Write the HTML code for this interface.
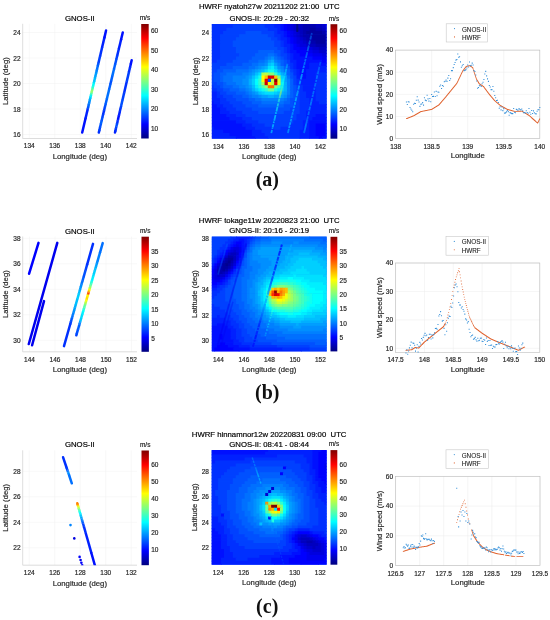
<!DOCTYPE html>
<html><head><meta charset="utf-8"><title>Figure</title><style>html,body{margin:0;padding:0;background:#fff}svg{display:block}</style></head><body>
<svg width="550" height="620" viewBox="0 0 550 620" font-family="Liberation Sans, Arial, Helvetica, sans-serif">
<rect width="550" height="620" fill="#fff"/>
<text x="79.85" y="20.50" font-size="7.75" text-anchor="middle" fill="#000" stroke="#000" stroke-width="0.18" >GNOS-II</text>
<line x1="29.30" y1="23.80" x2="29.30" y2="138.50" stroke="#f0f0f0" stroke-width="0.5"/>
<line x1="54.80" y1="23.80" x2="54.80" y2="138.50" stroke="#f0f0f0" stroke-width="0.5"/>
<line x1="80.30" y1="23.80" x2="80.30" y2="138.50" stroke="#f0f0f0" stroke-width="0.5"/>
<line x1="105.80" y1="23.80" x2="105.80" y2="138.50" stroke="#f0f0f0" stroke-width="0.5"/>
<line x1="131.30" y1="23.80" x2="131.30" y2="138.50" stroke="#f0f0f0" stroke-width="0.5"/>
<line x1="22.70" y1="134.50" x2="137.00" y2="134.50" stroke="#f0f0f0" stroke-width="0.5"/>
<line x1="22.70" y1="109.00" x2="137.00" y2="109.00" stroke="#f0f0f0" stroke-width="0.5"/>
<line x1="22.70" y1="83.50" x2="137.00" y2="83.50" stroke="#f0f0f0" stroke-width="0.5"/>
<line x1="22.70" y1="58.00" x2="137.00" y2="58.00" stroke="#f0f0f0" stroke-width="0.5"/>
<line x1="22.70" y1="32.50" x2="137.00" y2="32.50" stroke="#f0f0f0" stroke-width="0.5"/>
<path d="M22.70 23.80V138.50H137.00" stroke="#d4d4d4" stroke-width="0.8" fill="none"/>
<text x="29.30" y="148.30" font-size="6.5" text-anchor="middle" fill="#262626" stroke="#262626" stroke-width="0.18" >134</text>
<text x="54.80" y="148.30" font-size="6.5" text-anchor="middle" fill="#262626" stroke="#262626" stroke-width="0.18" >136</text>
<text x="80.30" y="148.30" font-size="6.5" text-anchor="middle" fill="#262626" stroke="#262626" stroke-width="0.18" >138</text>
<text x="105.80" y="148.30" font-size="6.5" text-anchor="middle" fill="#262626" stroke="#262626" stroke-width="0.18" >140</text>
<text x="131.30" y="148.30" font-size="6.5" text-anchor="middle" fill="#262626" stroke="#262626" stroke-width="0.18" >142</text>
<text x="20.50" y="137.10" font-size="6.5" text-anchor="end" fill="#262626" stroke="#262626" stroke-width="0.18" >16</text>
<text x="20.50" y="111.60" font-size="6.5" text-anchor="end" fill="#262626" stroke="#262626" stroke-width="0.18" >18</text>
<text x="20.50" y="86.10" font-size="6.5" text-anchor="end" fill="#262626" stroke="#262626" stroke-width="0.18" >20</text>
<text x="20.50" y="60.60" font-size="6.5" text-anchor="end" fill="#262626" stroke="#262626" stroke-width="0.18" >22</text>
<text x="20.50" y="35.10" font-size="6.5" text-anchor="end" fill="#262626" stroke="#262626" stroke-width="0.18" >24</text>
<text x="79.85" y="159.10" font-size="7.75" text-anchor="middle" fill="#262626" stroke="#262626" stroke-width="0.18" >Longitude (deg)</text>
<text transform="translate(8.30 81.15) rotate(-90)" font-size="7.75" text-anchor="middle" fill="#262626" stroke="#262626" stroke-width="0.18">Latitude (deg)</text>
<g fill="none" stroke-width="2.5">
<path d="M82.21 132.59L85.51 118.48" stroke="#0010ff" stroke-linecap="round"/>
<path d="M85.39 118.99L87.50 109.98" stroke="#0020ff"/>
<path d="M87.38 110.49L87.89 108.28" stroke="#0030ff"/>
<path d="M87.78 108.79L88.29 106.58" stroke="#0050ff"/>
<path d="M88.17 107.09L88.69 104.88" stroke="#0060ff"/>
<path d="M88.57 105.39L89.09 103.18" stroke="#0070ff"/>
<path d="M88.97 103.69L89.48 101.48" stroke="#0080ff"/>
<path d="M89.37 101.99L89.88 99.78" stroke="#008fff"/>
<path d="M89.76 100.29L90.28 98.08" stroke="#00afff"/>
<path d="M90.16 98.59L90.68 96.38" stroke="#00cfff"/>
<path d="M90.56 96.89L91.07 94.68" stroke="#00efff"/>
<path d="M90.95 95.19L91.47 92.98" stroke="#30ffcf"/>
<path d="M91.35 93.49L91.87 91.28" stroke="#80ff80"/>
<path d="M91.75 91.79L92.27 89.58" stroke="#8fff70"/>
<path d="M92.15 90.09L92.66 87.88" stroke="#60ff9f"/>
<path d="M92.54 88.39L93.06 86.18" stroke="#30ffcf"/>
<path d="M92.94 86.69L93.46 84.48" stroke="#10ffef"/>
<path d="M93.34 84.99L93.86 82.78" stroke="#00ffff"/>
<path d="M93.74 83.29L94.25 81.08" stroke="#00dfff"/>
<path d="M94.13 81.59L95.05 77.68" stroke="#00bfff"/>
<path d="M94.93 78.19L95.45 75.98" stroke="#00afff"/>
<path d="M95.33 76.49L96.24 72.58" stroke="#009fff"/>
<path d="M96.12 73.09L96.64 70.88" stroke="#008fff"/>
<path d="M96.52 71.39L97.03 69.18" stroke="#0080ff"/>
<path d="M96.92 69.69L97.83 65.78" stroke="#0070ff"/>
<path d="M97.71 66.29L98.23 64.08" stroke="#0060ff"/>
<path d="M98.11 64.59L98.62 62.38" stroke="#0050ff"/>
<path d="M98.50 62.89L100.21 55.58" stroke="#0040ff"/>
<path d="M100.09 56.09L102.20 47.08" stroke="#0030ff"/>
<path d="M102.08 47.59L104.58 36.88" stroke="#0020ff"/>
<path d="M104.47 37.39L106.06 30.59" stroke="#0010ff" stroke-linecap="round"/>
</g>
<g fill="none" stroke-width="2.5">
<path d="M98.79 132.59L99.31 130.42" stroke="#0030ff" stroke-linecap="round"/>
<path d="M99.19 130.92L100.11 127.08" stroke="#0040ff"/>
<path d="M99.99 127.58L100.90 123.75" stroke="#0050ff"/>
<path d="M100.78 124.25L101.70 120.41" stroke="#0060ff"/>
<path d="M101.58 120.91L102.50 117.07" stroke="#0050ff"/>
<path d="M102.38 117.57L103.30 113.74" stroke="#0040ff"/>
<path d="M103.18 114.24L104.10 110.40" stroke="#0030ff"/>
<path d="M103.98 110.90L104.90 107.07" stroke="#0040ff"/>
<path d="M104.78 107.57L105.70 103.73" stroke="#0050ff"/>
<path d="M105.58 104.23L106.90 98.72" stroke="#0060ff"/>
<path d="M106.78 99.23L109.29 88.72" stroke="#0070ff"/>
<path d="M109.17 89.22L110.49 83.71" stroke="#0060ff"/>
<path d="M110.37 84.21L111.29 80.38" stroke="#0050ff"/>
<path d="M111.17 80.88L112.49 75.37" stroke="#0060ff"/>
<path d="M112.37 75.87L114.09 68.70" stroke="#0070ff"/>
<path d="M113.97 69.20L115.29 63.69" stroke="#0060ff"/>
<path d="M115.17 64.19L116.49 58.69" stroke="#0050ff"/>
<path d="M116.37 59.19L117.28 55.35" stroke="#0040ff"/>
<path d="M117.16 55.85L118.88 48.68" stroke="#0030ff"/>
<path d="M118.76 49.18L121.28 38.67" stroke="#0020ff"/>
<path d="M121.16 39.17L122.76 32.50" stroke="#0010ff" stroke-linecap="round"/>
</g>
<g fill="none" stroke-width="2.5">
<path d="M114.98 132.59L115.34 131.02" stroke="#0020ff" stroke-linecap="round"/>
<path d="M115.26 131.38L115.90 128.60" stroke="#0030ff"/>
<path d="M115.82 128.97L116.46 126.19" stroke="#0040ff"/>
<path d="M116.37 126.55L117.01 123.78" stroke="#0050ff"/>
<path d="M116.93 124.14L117.29 122.57" stroke="#0040ff"/>
<path d="M117.21 122.93L117.85 120.16" stroke="#0030ff"/>
<path d="M117.76 120.52L118.13 118.95" stroke="#0020ff"/>
<path d="M118.04 119.31L118.96 115.33" stroke="#0010ff"/>
<path d="M118.88 115.69L119.80 111.71" stroke="#0020ff"/>
<path d="M119.71 112.07L120.63 108.09" stroke="#0030ff"/>
<path d="M120.55 108.45L121.19 105.67" stroke="#0040ff"/>
<path d="M121.10 106.03L122.58 99.64" stroke="#0050ff"/>
<path d="M122.50 100.00L124.25 92.39" stroke="#0040ff"/>
<path d="M124.17 92.76L126.76 81.53" stroke="#0030ff"/>
<path d="M126.67 81.89L128.98 71.88" stroke="#0040ff"/>
<path d="M128.90 72.24L130.10 67.05" stroke="#0030ff"/>
<path d="M130.01 67.41L130.93 63.43" stroke="#0020ff"/>
<path d="M130.85 63.79L131.68 60.17" stroke="#0010ff" stroke-linecap="round"/>
</g>
<linearGradient id="cbA1" x1="0" y1="0" x2="0" y2="1"><stop offset="0.0000" stop-color="#800000"/><stop offset="0.0312" stop-color="#9f0000"/><stop offset="0.0625" stop-color="#bf0000"/><stop offset="0.0938" stop-color="#df0000"/><stop offset="0.1250" stop-color="#ff0000"/><stop offset="0.1562" stop-color="#ff2000"/><stop offset="0.1875" stop-color="#ff4000"/><stop offset="0.2188" stop-color="#ff6000"/><stop offset="0.2500" stop-color="#ff8000"/><stop offset="0.2812" stop-color="#ff9f00"/><stop offset="0.3125" stop-color="#ffbf00"/><stop offset="0.3438" stop-color="#ffdf00"/><stop offset="0.3750" stop-color="#ffff00"/><stop offset="0.4062" stop-color="#dfff20"/><stop offset="0.4375" stop-color="#bfff40"/><stop offset="0.4688" stop-color="#9fff60"/><stop offset="0.5000" stop-color="#80ff80"/><stop offset="0.5312" stop-color="#60ff9f"/><stop offset="0.5625" stop-color="#40ffbf"/><stop offset="0.5938" stop-color="#20ffdf"/><stop offset="0.6250" stop-color="#00ffff"/><stop offset="0.6562" stop-color="#00dfff"/><stop offset="0.6875" stop-color="#00bfff"/><stop offset="0.7188" stop-color="#009fff"/><stop offset="0.7500" stop-color="#0080ff"/><stop offset="0.7812" stop-color="#0060ff"/><stop offset="0.8125" stop-color="#0040ff"/><stop offset="0.8438" stop-color="#0020ff"/><stop offset="0.8750" stop-color="#0000ff"/><stop offset="0.9062" stop-color="#0000df"/><stop offset="0.9375" stop-color="#0000bf"/><stop offset="0.9688" stop-color="#00009f"/><stop offset="1.0000" stop-color="#000080"/></linearGradient>
<rect x="141.20" y="24.00" width="7.50" height="114.50" fill="url(#cbA1)"/>
<text x="151.00" y="131.01" font-size="6.5" text-anchor="start" fill="#262626" stroke="#262626" stroke-width="0.18" >10</text>
<text x="151.00" y="111.44" font-size="6.5" text-anchor="start" fill="#262626" stroke="#262626" stroke-width="0.18" >20</text>
<text x="151.00" y="91.87" font-size="6.5" text-anchor="start" fill="#262626" stroke="#262626" stroke-width="0.18" >30</text>
<text x="151.00" y="72.30" font-size="6.5" text-anchor="start" fill="#262626" stroke="#262626" stroke-width="0.18" >40</text>
<text x="151.00" y="52.72" font-size="6.5" text-anchor="start" fill="#262626" stroke="#262626" stroke-width="0.18" >50</text>
<text x="151.00" y="33.15" font-size="6.5" text-anchor="start" fill="#262626" stroke="#262626" stroke-width="0.18" >60</text>
<text x="144.95" y="20.30" font-size="6.5" text-anchor="middle" fill="#262626" stroke="#262626" stroke-width="0.18" >m/s</text>
<clipPath id="clipA"><rect x="211.80" y="24.00" width="114.90" height="114.70"/></clipPath>
<g clip-path="url(#clipA)">
<rect x="211.80" y="24.00" width="114.90" height="114.70" fill="#004dff"/>
<path fill="#0030ff" d="M210.38 21.38H242.88V25.17H210.38z"/>
<path fill="#0040ff" d="M242.28 21.38H255.64V25.17H242.28z"/>
<path fill="#0030ff" d="M255.04 21.38H271.59V25.17H255.04z"/>
<path fill="#0020ff" d="M270.99 21.38H277.97V25.17H270.99z"/>
<path fill="#0010ff" d="M277.37 21.38H284.35V25.17H277.37z"/>
<path fill="#0000ff" d="M283.75 21.38H287.54V25.17H283.75z"/>
<path fill="#0000ef" d="M286.94 21.38H290.73V25.17H286.94z"/>
<path fill="#0000df" d="M290.13 21.38H293.92V25.17H290.13z"/>
<path fill="#0000cf" d="M293.32 21.38H300.30V25.17H293.32z"/>
<path fill="#0000bf" d="M299.70 21.38H316.25V25.17H299.70z"/>
<path fill="#0000cf" d="M315.65 21.38H322.63V25.17H315.65z"/>
<path fill="#0000df" d="M322.03 21.38H325.82V25.17H322.03z"/>
<path fill="#0000ef" d="M325.22 21.38H329.01V25.17H325.22z"/>
<path fill="#0030ff" d="M210.38 24.57H233.31V28.36H210.38z"/>
<path fill="#0040ff" d="M232.71 24.57H265.21V28.36H232.71z"/>
<path fill="#0030ff" d="M264.61 24.57H274.78V28.36H264.61z"/>
<path fill="#0020ff" d="M274.18 24.57H281.16V28.36H274.18z"/>
<path fill="#0010ff" d="M280.56 24.57H284.35V28.36H280.56z"/>
<path fill="#0000ff" d="M283.75 24.57H287.54V28.36H283.75z"/>
<path fill="#0000ef" d="M286.94 24.57H290.73V28.36H286.94z"/>
<path fill="#0000df" d="M290.13 24.57H293.92V28.36H290.13z"/>
<path fill="#0000cf" d="M293.32 24.57H300.30V28.36H293.32z"/>
<path fill="#0000bf" d="M299.70 24.57H303.49V28.36H299.70z"/>
<path fill="#0000af" d="M302.89 24.57H316.25V28.36H302.89z"/>
<path fill="#0000bf" d="M315.65 24.57H322.63V28.36H315.65z"/>
<path fill="#0000cf" d="M322.03 24.57H325.82V28.36H322.03z"/>
<path fill="#0000df" d="M325.22 24.57H329.01V28.36H325.22z"/>
<path fill="#0030ff" d="M210.38 27.76H226.93V31.55H210.38z"/>
<path fill="#0040ff" d="M226.33 27.76H268.40V31.55H226.33z"/>
<path fill="#0030ff" d="M267.80 27.76H277.97V31.55H267.80z"/>
<path fill="#0020ff" d="M277.37 27.76H281.16V31.55H277.37z"/>
<path fill="#0010ff" d="M280.56 27.76H284.35V31.55H280.56z"/>
<path fill="#0000ff" d="M283.75 27.76H287.54V31.55H283.75z"/>
<path fill="#0000ef" d="M286.94 27.76H290.73V31.55H286.94z"/>
<path fill="#0000df" d="M290.13 27.76H293.92V31.55H290.13z"/>
<path fill="#0000cf" d="M293.32 27.76H297.11V31.55H293.32z"/>
<path fill="#0000bf" d="M296.51 27.76H303.49V31.55H296.51z"/>
<path fill="#0000af" d="M302.89 27.76H309.87V31.55H302.89z"/>
<path fill="#00009f" d="M309.27 27.76H316.25V31.55H309.27z"/>
<path fill="#0000af" d="M315.65 27.76H322.63V31.55H315.65z"/>
<path fill="#0000bf" d="M322.03 27.76H325.82V31.55H322.03z"/>
<path fill="#0000cf" d="M325.22 27.76H329.01V31.55H325.22z"/>
<path fill="#0030ff" d="M210.38 30.95H223.74V34.74H210.38z"/>
<path fill="#0040ff" d="M223.14 30.95H246.07V34.74H223.14z"/>
<path fill="#0050ff" d="M245.47 30.95H262.02V34.74H245.47z"/>
<path fill="#0040ff" d="M261.42 30.95H274.78V34.74H261.42z"/>
<path fill="#0030ff" d="M274.18 30.95H277.97V34.74H274.18z"/>
<path fill="#0020ff" d="M277.37 30.95H284.35V34.74H277.37z"/>
<path fill="#0010ff" d="M283.75 30.95H287.54V34.74H283.75z"/>
<path fill="#0000ff" d="M286.94 30.95H290.73V34.74H286.94z"/>
<path fill="#0000ef" d="M290.13 30.95H293.92V34.74H290.13z"/>
<path fill="#0000df" d="M293.32 30.95H297.11V34.74H293.32z"/>
<path fill="#0000cf" d="M296.51 30.95H300.30V34.74H296.51z"/>
<path fill="#0000bf" d="M299.70 30.95H303.49V34.74H299.70z"/>
<path fill="#0000af" d="M302.89 30.95H306.68V34.74H302.89z"/>
<path fill="#00009f" d="M306.08 30.95H322.63V34.74H306.08z"/>
<path fill="#0000af" d="M322.03 30.95H325.82V34.74H322.03z"/>
<path fill="#0000bf" d="M325.22 30.95H329.01V34.74H325.22z"/>
<path fill="#0030ff" d="M210.38 34.14H220.55V37.93H210.38z"/>
<path fill="#0040ff" d="M219.95 34.14H239.69V37.93H219.95z"/>
<path fill="#0050ff" d="M239.09 34.14H268.40V37.93H239.09z"/>
<path fill="#0040ff" d="M267.80 34.14H274.78V37.93H267.80z"/>
<path fill="#0030ff" d="M274.18 34.14H281.16V37.93H274.18z"/>
<path fill="#0020ff" d="M280.56 34.14H284.35V37.93H280.56z"/>
<path fill="#0010ff" d="M283.75 34.14H287.54V37.93H283.75z"/>
<path fill="#0000ff" d="M286.94 34.14H290.73V37.93H286.94z"/>
<path fill="#0000ef" d="M290.13 34.14H293.92V37.93H290.13z"/>
<path fill="#0000df" d="M293.32 34.14H297.11V37.93H293.32z"/>
<path fill="#0000cf" d="M296.51 34.14H300.30V37.93H296.51z"/>
<path fill="#0000bf" d="M299.70 34.14H303.49V37.93H299.70z"/>
<path fill="#0000af" d="M302.89 34.14H309.87V37.93H302.89z"/>
<path fill="#00009f" d="M309.27 34.14H325.82V37.93H309.27z"/>
<path fill="#0000af" d="M325.22 34.14H329.01V37.93H325.22z"/>
<path fill="#0030ff" d="M210.38 37.33H220.55V41.12H210.38z"/>
<path fill="#0040ff" d="M219.95 37.33H236.50V41.12H219.95z"/>
<path fill="#0050ff" d="M235.90 37.33H271.59V41.12H235.90z"/>
<path fill="#0040ff" d="M270.99 37.33H277.97V41.12H270.99z"/>
<path fill="#0030ff" d="M277.37 37.33H281.16V41.12H277.37z"/>
<path fill="#0020ff" d="M280.56 37.33H287.54V41.12H280.56z"/>
<path fill="#0010ff" d="M286.94 37.33H290.73V41.12H286.94z"/>
<path fill="#0000ff" d="M290.13 37.33H293.92V41.12H290.13z"/>
<path fill="#0000ef" d="M293.32 37.33H297.11V41.12H293.32z"/>
<path fill="#0000df" d="M296.51 37.33H300.30V41.12H296.51z"/>
<path fill="#0000cf" d="M299.70 37.33H303.49V41.12H299.70z"/>
<path fill="#0000bf" d="M302.89 37.33H306.68V41.12H302.89z"/>
<path fill="#0000af" d="M306.08 37.33H313.06V41.12H306.08z"/>
<path fill="#00009f" d="M312.46 37.33H325.82V41.12H312.46z"/>
<path fill="#0000af" d="M325.22 37.33H329.01V41.12H325.22z"/>
<path fill="#0030ff" d="M210.38 40.52H220.55V44.31H210.38z"/>
<path fill="#0040ff" d="M219.95 40.52H233.31V44.31H219.95z"/>
<path fill="#0050ff" d="M232.71 40.52H274.78V44.31H232.71z"/>
<path fill="#0040ff" d="M274.18 40.52H281.16V44.31H274.18z"/>
<path fill="#0030ff" d="M280.56 40.52H284.35V44.31H280.56z"/>
<path fill="#0020ff" d="M283.75 40.52H287.54V44.31H283.75z"/>
<path fill="#0010ff" d="M286.94 40.52H290.73V44.31H286.94z"/>
<path fill="#0000ff" d="M290.13 40.52H293.92V44.31H290.13z"/>
<path fill="#0000ef" d="M293.32 40.52H297.11V44.31H293.32z"/>
<path fill="#0000df" d="M296.51 40.52H303.49V44.31H296.51z"/>
<path fill="#0000cf" d="M302.89 40.52H306.68V44.31H302.89z"/>
<path fill="#0000bf" d="M306.08 40.52H309.87V44.31H306.08z"/>
<path fill="#0000af" d="M309.27 40.52H316.25V44.31H309.27z"/>
<path fill="#00009f" d="M315.65 40.52H325.82V44.31H315.65z"/>
<path fill="#0000af" d="M325.22 40.52H329.01V44.31H325.22z"/>
<path fill="#0030ff" d="M210.38 43.71H220.55V47.50H210.38z"/>
<path fill="#0040ff" d="M219.95 43.71H233.31V47.50H219.95z"/>
<path fill="#0050ff" d="M232.71 43.71H274.78V47.50H232.71z"/>
<path fill="#0040ff" d="M274.18 43.71H281.16V47.50H274.18z"/>
<path fill="#0030ff" d="M280.56 43.71H284.35V47.50H280.56z"/>
<path fill="#0020ff" d="M283.75 43.71H290.73V47.50H283.75z"/>
<path fill="#0010ff" d="M290.13 43.71H293.92V47.50H290.13z"/>
<path fill="#0000ff" d="M293.32 43.71H297.11V47.50H293.32z"/>
<path fill="#0000ef" d="M296.51 43.71H300.30V47.50H296.51z"/>
<path fill="#0000df" d="M299.70 43.71H306.68V47.50H299.70z"/>
<path fill="#0000cf" d="M306.08 43.71H309.87V47.50H306.08z"/>
<path fill="#0000bf" d="M309.27 43.71H316.25V47.50H309.27z"/>
<path fill="#0000af" d="M315.65 43.71H329.01V47.50H315.65z"/>
<path fill="#0030ff" d="M210.38 46.90H220.55V50.69H210.38z"/>
<path fill="#0040ff" d="M219.95 46.90H236.50V50.69H219.95z"/>
<path fill="#0050ff" d="M235.90 46.90H277.97V50.69H235.90z"/>
<path fill="#0040ff" d="M277.37 46.90H284.35V50.69H277.37z"/>
<path fill="#0030ff" d="M283.75 46.90H287.54V50.69H283.75z"/>
<path fill="#0020ff" d="M286.94 46.90H290.73V50.69H286.94z"/>
<path fill="#0010ff" d="M290.13 46.90H293.92V50.69H290.13z"/>
<path fill="#0000ff" d="M293.32 46.90H300.30V50.69H293.32z"/>
<path fill="#0000ef" d="M299.70 46.90H306.68V50.69H299.70z"/>
<path fill="#0000df" d="M306.08 46.90H313.06V50.69H306.08z"/>
<path fill="#0000cf" d="M312.46 46.90H319.44V50.69H312.46z"/>
<path fill="#0000bf" d="M318.84 46.90H329.01V50.69H318.84z"/>
<path fill="#0030ff" d="M210.38 50.09H220.55V53.88H210.38z"/>
<path fill="#0040ff" d="M219.95 50.09H236.50V53.88H219.95z"/>
<path fill="#0050ff" d="M235.90 50.09H258.83V53.88H235.90z"/>
<path fill="#0060ff" d="M258.23 50.09H274.78V53.88H258.23z"/>
<path fill="#0050ff" d="M274.18 50.09H281.16V53.88H274.18z"/>
<path fill="#0040ff" d="M280.56 50.09H284.35V53.88H280.56z"/>
<path fill="#0030ff" d="M283.75 50.09H287.54V53.88H283.75z"/>
<path fill="#0020ff" d="M286.94 50.09H290.73V53.88H286.94z"/>
<path fill="#0010ff" d="M290.13 50.09H297.11V53.88H290.13z"/>
<path fill="#0000ff" d="M296.51 50.09H306.68V53.88H296.51z"/>
<path fill="#0000ef" d="M306.08 50.09H313.06V53.88H306.08z"/>
<path fill="#0000df" d="M312.46 50.09H319.44V53.88H312.46z"/>
<path fill="#0000cf" d="M318.84 50.09H329.01V53.88H318.84z"/>
<path fill="#0030ff" d="M210.38 53.28H220.55V57.07H210.38z"/>
<path fill="#0040ff" d="M219.95 53.28H239.69V57.07H219.95z"/>
<path fill="#0050ff" d="M239.09 53.28H255.64V57.07H239.09z"/>
<path fill="#0060ff" d="M255.04 53.28H268.40V57.07H255.04z"/>
<path fill="#0070ff" d="M267.80 53.28H274.78V57.07H267.80z"/>
<path fill="#0060ff" d="M274.18 53.28H277.97V57.07H274.18z"/>
<path fill="#0050ff" d="M277.37 53.28H281.16V57.07H277.37z"/>
<path fill="#0040ff" d="M280.56 53.28H287.54V57.07H280.56z"/>
<path fill="#0030ff" d="M286.94 53.28H290.73V57.07H286.94z"/>
<path fill="#0020ff" d="M290.13 53.28H293.92V57.07H290.13z"/>
<path fill="#0010ff" d="M293.32 53.28H300.30V57.07H293.32z"/>
<path fill="#0000ff" d="M299.70 53.28H313.06V57.07H299.70z"/>
<path fill="#0000ef" d="M312.46 53.28H322.63V57.07H312.46z"/>
<path fill="#0000df" d="M322.03 53.28H329.01V57.07H322.03z"/>
<path fill="#0030ff" d="M210.38 56.47H220.55V60.26H210.38z"/>
<path fill="#0040ff" d="M219.95 56.47H236.50V60.26H219.95z"/>
<path fill="#0050ff" d="M235.90 56.47H252.45V60.26H235.90z"/>
<path fill="#0060ff" d="M251.85 56.47H265.21V60.26H251.85z"/>
<path fill="#0070ff" d="M264.61 56.47H268.40V60.26H264.61z"/>
<path fill="#0080ff" d="M267.80 56.47H271.59V60.26H267.80z"/>
<path fill="#008fff" d="M270.99 56.47H274.78V60.26H270.99z"/>
<path fill="#0070ff" d="M274.18 56.47H277.97V60.26H274.18z"/>
<path fill="#0060ff" d="M277.37 56.47H281.16V60.26H277.37z"/>
<path fill="#0050ff" d="M280.56 56.47H284.35V60.26H280.56z"/>
<path fill="#0040ff" d="M283.75 56.47H287.54V60.26H283.75z"/>
<path fill="#0030ff" d="M286.94 56.47H290.73V60.26H286.94z"/>
<path fill="#0020ff" d="M290.13 56.47H293.92V60.26H290.13z"/>
<path fill="#0010ff" d="M293.32 56.47H313.06V60.26H293.32z"/>
<path fill="#0000ff" d="M312.46 56.47H322.63V60.26H312.46z"/>
<path fill="#0000ef" d="M322.03 56.47H329.01V60.26H322.03z"/>
<path fill="#0030ff" d="M210.38 59.66H217.36V63.45H210.38z"/>
<path fill="#0040ff" d="M216.76 59.66H233.31V63.45H216.76z"/>
<path fill="#0050ff" d="M232.71 59.66H249.26V63.45H232.71z"/>
<path fill="#0060ff" d="M248.66 59.66H258.83V63.45H248.66z"/>
<path fill="#0070ff" d="M258.23 59.66H265.21V63.45H258.23z"/>
<path fill="#0080ff" d="M264.61 59.66H268.40V63.45H264.61z"/>
<path fill="#009fff" d="M267.80 59.66H271.59V63.45H267.80z"/>
<path fill="#00afff" d="M270.99 59.66H274.78V63.45H270.99z"/>
<path fill="#0080ff" d="M274.18 59.66H277.97V63.45H274.18z"/>
<path fill="#0070ff" d="M277.37 59.66H281.16V63.45H277.37z"/>
<path fill="#0060ff" d="M280.56 59.66H284.35V63.45H280.56z"/>
<path fill="#0050ff" d="M283.75 59.66H287.54V63.45H283.75z"/>
<path fill="#0040ff" d="M286.94 59.66H290.73V63.45H286.94z"/>
<path fill="#0020ff" d="M290.13 59.66H297.11V63.45H290.13z"/>
<path fill="#0010ff" d="M296.51 59.66H322.63V63.45H296.51z"/>
<path fill="#0000ff" d="M322.03 59.66H329.01V63.45H322.03z"/>
<path fill="#0040ff" d="M210.38 62.85H226.93V66.64H210.38z"/>
<path fill="#0050ff" d="M226.33 62.85H242.88V66.64H226.33z"/>
<path fill="#0060ff" d="M242.28 62.85H252.45V66.64H242.28z"/>
<path fill="#0070ff" d="M251.85 62.85H258.83V66.64H251.85z"/>
<path fill="#0080ff" d="M258.23 62.85H265.21V66.64H258.23z"/>
<path fill="#008fff" d="M264.61 62.85H268.40V66.64H264.61z"/>
<path fill="#00bfff" d="M267.80 62.85H271.59V66.64H267.80z"/>
<path fill="#00cfff" d="M270.99 62.85H274.78V66.64H270.99z"/>
<path fill="#009fff" d="M274.18 62.85H277.97V66.64H274.18z"/>
<path fill="#0080ff" d="M277.37 62.85H281.16V66.64H277.37z"/>
<path fill="#0060ff" d="M280.56 62.85H284.35V66.64H280.56z"/>
<path fill="#0050ff" d="M283.75 62.85H287.54V66.64H283.75z"/>
<path fill="#0040ff" d="M286.94 62.85H290.73V66.64H286.94z"/>
<path fill="#0030ff" d="M290.13 62.85H293.92V66.64H290.13z"/>
<path fill="#0020ff" d="M293.32 62.85H297.11V66.64H293.32z"/>
<path fill="#0010ff" d="M296.51 62.85H309.87V66.64H296.51z"/>
<path fill="#0020ff" d="M309.27 62.85H319.44V66.64H309.27z"/>
<path fill="#0010ff" d="M318.84 62.85H329.01V66.64H318.84z"/>
<path fill="#0040ff" d="M210.38 66.04H220.55V69.83H210.38z"/>
<path fill="#0050ff" d="M219.95 66.04H233.31V69.83H219.95z"/>
<path fill="#0060ff" d="M232.71 66.04H249.26V69.83H232.71z"/>
<path fill="#0070ff" d="M248.66 66.04H255.64V69.83H248.66z"/>
<path fill="#0080ff" d="M255.04 66.04H258.83V69.83H255.04z"/>
<path fill="#008fff" d="M258.23 66.04H262.02V69.83H258.23z"/>
<path fill="#009fff" d="M261.42 66.04H265.21V69.83H261.42z"/>
<path fill="#00afff" d="M264.61 66.04H268.40V69.83H264.61z"/>
<path fill="#00dfff" d="M267.80 66.04H271.59V69.83H267.80z"/>
<path fill="#00efff" d="M270.99 66.04H274.78V69.83H270.99z"/>
<path fill="#00bfff" d="M274.18 66.04H277.97V69.83H274.18z"/>
<path fill="#008fff" d="M277.37 66.04H281.16V69.83H277.37z"/>
<path fill="#0080ff" d="M280.56 66.04H284.35V69.83H280.56z"/>
<path fill="#0060ff" d="M283.75 66.04H287.54V69.83H283.75z"/>
<path fill="#0050ff" d="M286.94 66.04H290.73V69.83H286.94z"/>
<path fill="#0030ff" d="M290.13 66.04H293.92V69.83H290.13z"/>
<path fill="#0020ff" d="M293.32 66.04H297.11V69.83H293.32z"/>
<path fill="#0010ff" d="M296.51 66.04H309.87V69.83H296.51z"/>
<path fill="#0020ff" d="M309.27 66.04H329.01V69.83H309.27z"/>
<path fill="#0040ff" d="M210.38 69.23H217.36V73.02H210.38z"/>
<path fill="#0050ff" d="M216.76 69.23H223.74V73.02H216.76z"/>
<path fill="#0060ff" d="M223.14 69.23H236.50V73.02H223.14z"/>
<path fill="#0070ff" d="M235.90 69.23H249.26V73.02H235.90z"/>
<path fill="#0080ff" d="M248.66 69.23H252.45V73.02H248.66z"/>
<path fill="#008fff" d="M251.85 69.23H255.64V73.02H251.85z"/>
<path fill="#009fff" d="M255.04 69.23H258.83V73.02H255.04z"/>
<path fill="#00afff" d="M258.23 69.23H262.02V73.02H258.23z"/>
<path fill="#00bfff" d="M261.42 69.23H265.21V73.02H261.42z"/>
<path fill="#00dfff" d="M264.61 69.23H268.40V73.02H264.61z"/>
<path fill="#10ffef" d="M267.80 69.23H274.78V73.02H267.80z"/>
<path fill="#00dfff" d="M274.18 69.23H277.97V73.02H274.18z"/>
<path fill="#00afff" d="M277.37 69.23H281.16V73.02H277.37z"/>
<path fill="#008fff" d="M280.56 69.23H284.35V73.02H280.56z"/>
<path fill="#0070ff" d="M283.75 69.23H287.54V73.02H283.75z"/>
<path fill="#0060ff" d="M286.94 69.23H290.73V73.02H286.94z"/>
<path fill="#0040ff" d="M290.13 69.23H293.92V73.02H290.13z"/>
<path fill="#0030ff" d="M293.32 69.23H297.11V73.02H293.32z"/>
<path fill="#0020ff" d="M296.51 69.23H300.30V73.02H296.51z"/>
<path fill="#0010ff" d="M299.70 69.23H306.68V73.02H299.70z"/>
<path fill="#0020ff" d="M306.08 69.23H329.01V73.02H306.08z"/>
<path fill="#0040ff" d="M210.38 72.42H214.17V76.21H210.38z"/>
<path fill="#0050ff" d="M213.57 72.42H220.55V76.21H213.57z"/>
<path fill="#0060ff" d="M219.95 72.42H226.93V76.21H219.95z"/>
<path fill="#0070ff" d="M226.33 72.42H242.88V76.21H226.33z"/>
<path fill="#0080ff" d="M242.28 72.42H249.26V76.21H242.28z"/>
<path fill="#008fff" d="M248.66 72.42H252.45V76.21H248.66z"/>
<path fill="#009fff" d="M251.85 72.42H255.64V76.21H251.85z"/>
<path fill="#00bfff" d="M255.04 72.42H258.83V76.21H255.04z"/>
<path fill="#00dfff" d="M258.23 72.42H262.02V76.21H258.23z"/>
<path fill="#afff50" d="M261.42 72.42H265.21V76.21H261.42z"/>
<path fill="#bfff40" d="M264.61 72.42H268.40V76.21H264.61z"/>
<path fill="#8fff70" d="M267.80 72.42H271.59V76.21H267.80z"/>
<path fill="#80ff80" d="M270.99 72.42H274.78V76.21H270.99z"/>
<path fill="#30ffcf" d="M274.18 72.42H277.97V76.21H274.18z"/>
<path fill="#00dfff" d="M277.37 72.42H281.16V76.21H277.37z"/>
<path fill="#00afff" d="M280.56 72.42H284.35V76.21H280.56z"/>
<path fill="#0080ff" d="M283.75 72.42H287.54V76.21H283.75z"/>
<path fill="#0060ff" d="M286.94 72.42H290.73V76.21H286.94z"/>
<path fill="#0050ff" d="M290.13 72.42H293.92V76.21H290.13z"/>
<path fill="#0030ff" d="M293.32 72.42H297.11V76.21H293.32z"/>
<path fill="#0020ff" d="M296.51 72.42H300.30V76.21H296.51z"/>
<path fill="#0010ff" d="M299.70 72.42H306.68V76.21H299.70z"/>
<path fill="#0020ff" d="M306.08 72.42H316.25V76.21H306.08z"/>
<path fill="#0030ff" d="M315.65 72.42H329.01V76.21H315.65z"/>
<path fill="#0040ff" d="M210.38 75.61H214.17V79.40H210.38z"/>
<path fill="#0050ff" d="M213.57 75.61H220.55V79.40H213.57z"/>
<path fill="#0060ff" d="M219.95 75.61H223.74V79.40H219.95z"/>
<path fill="#0070ff" d="M223.14 75.61H233.31V79.40H223.14z"/>
<path fill="#0080ff" d="M232.71 75.61H246.07V79.40H232.71z"/>
<path fill="#008fff" d="M245.47 75.61H249.26V79.40H245.47z"/>
<path fill="#009fff" d="M248.66 75.61H252.45V79.40H248.66z"/>
<path fill="#00bfff" d="M251.85 75.61H255.64V79.40H251.85z"/>
<path fill="#00dfff" d="M255.04 75.61H258.83V79.40H255.04z"/>
<path fill="#10ffef" d="M258.23 75.61H262.02V79.40H258.23z"/>
<path fill="#ffff00" d="M261.42 75.61H265.21V79.40H261.42z"/>
<path fill="#ffbf00" d="M264.61 75.61H268.40V79.40H264.61z"/>
<path fill="#df0000" d="M267.80 75.61H274.78V79.40H267.80z"/>
<path fill="#ffbf00" d="M274.18 75.61H277.97V79.40H274.18z"/>
<path fill="#80ff80" d="M277.37 75.61H281.16V79.40H277.37z"/>
<path fill="#00cfff" d="M280.56 75.61H284.35V79.40H280.56z"/>
<path fill="#009fff" d="M283.75 75.61H287.54V79.40H283.75z"/>
<path fill="#0070ff" d="M286.94 75.61H290.73V79.40H286.94z"/>
<path fill="#0050ff" d="M290.13 75.61H293.92V79.40H290.13z"/>
<path fill="#0040ff" d="M293.32 75.61H297.11V79.40H293.32z"/>
<path fill="#0020ff" d="M296.51 75.61H303.49V79.40H296.51z"/>
<path fill="#0010ff" d="M302.89 75.61H306.68V79.40H302.89z"/>
<path fill="#0020ff" d="M306.08 75.61H316.25V79.40H306.08z"/>
<path fill="#0030ff" d="M315.65 75.61H329.01V79.40H315.65z"/>
<path fill="#0040ff" d="M210.38 78.80H214.17V82.59H210.38z"/>
<path fill="#0050ff" d="M213.57 78.80H220.55V82.59H213.57z"/>
<path fill="#0060ff" d="M219.95 78.80H223.74V82.59H219.95z"/>
<path fill="#0070ff" d="M223.14 78.80H233.31V82.59H223.14z"/>
<path fill="#0080ff" d="M232.71 78.80H242.88V82.59H232.71z"/>
<path fill="#008fff" d="M242.28 78.80H249.26V82.59H242.28z"/>
<path fill="#00afff" d="M248.66 78.80H252.45V82.59H248.66z"/>
<path fill="#00cfff" d="M251.85 78.80H255.64V82.59H251.85z"/>
<path fill="#00ffff" d="M255.04 78.80H258.83V82.59H255.04z"/>
<path fill="#30ffcf" d="M258.23 78.80H262.02V82.59H258.23z"/>
<path fill="#efff10" d="M261.42 78.80H265.21V82.59H261.42z"/>
<path fill="#ef0000" d="M264.61 78.80H268.40V82.59H264.61z"/>
<path fill="#0050ff" d="M267.80 78.80H271.59V82.59H267.80z"/>
<path fill="#bfff40" d="M270.99 78.80H274.78V82.59H270.99z"/>
<path fill="#8f0000" d="M274.18 78.80H277.97V82.59H274.18z"/>
<path fill="#dfff20" d="M277.37 78.80H281.16V82.59H277.37z"/>
<path fill="#00dfff" d="M280.56 78.80H284.35V82.59H280.56z"/>
<path fill="#009fff" d="M283.75 78.80H287.54V82.59H283.75z"/>
<path fill="#0080ff" d="M286.94 78.80H290.73V82.59H286.94z"/>
<path fill="#0060ff" d="M290.13 78.80H293.92V82.59H290.13z"/>
<path fill="#0040ff" d="M293.32 78.80H297.11V82.59H293.32z"/>
<path fill="#0030ff" d="M296.51 78.80H300.30V82.59H296.51z"/>
<path fill="#0020ff" d="M299.70 78.80H316.25V82.59H299.70z"/>
<path fill="#0030ff" d="M315.65 78.80H329.01V82.59H315.65z"/>
<path fill="#0040ff" d="M210.38 81.99H217.36V85.78H210.38z"/>
<path fill="#0050ff" d="M216.76 81.99H223.74V85.78H216.76z"/>
<path fill="#0060ff" d="M223.14 81.99H226.93V85.78H223.14z"/>
<path fill="#0070ff" d="M226.33 81.99H236.50V85.78H226.33z"/>
<path fill="#0080ff" d="M235.90 81.99H242.88V85.78H235.90z"/>
<path fill="#008fff" d="M242.28 81.99H249.26V85.78H242.28z"/>
<path fill="#00afff" d="M248.66 81.99H252.45V85.78H248.66z"/>
<path fill="#00cfff" d="M251.85 81.99H255.64V85.78H251.85z"/>
<path fill="#00ffff" d="M255.04 81.99H258.83V85.78H255.04z"/>
<path fill="#30ffcf" d="M258.23 81.99H262.02V85.78H258.23z"/>
<path fill="#9fff60" d="M261.42 81.99H265.21V85.78H261.42z"/>
<path fill="#cf0000" d="M264.61 81.99H268.40V85.78H264.61z"/>
<path fill="#ffff00" d="M267.80 81.99H271.59V85.78H267.80z"/>
<path fill="#bfff40" d="M270.99 81.99H274.78V85.78H270.99z"/>
<path fill="#df0000" d="M274.18 81.99H277.97V85.78H274.18z"/>
<path fill="#dfff20" d="M277.37 81.99H281.16V85.78H277.37z"/>
<path fill="#00efff" d="M280.56 81.99H284.35V85.78H280.56z"/>
<path fill="#00afff" d="M283.75 81.99H287.54V85.78H283.75z"/>
<path fill="#0080ff" d="M286.94 81.99H290.73V85.78H286.94z"/>
<path fill="#0060ff" d="M290.13 81.99H293.92V85.78H290.13z"/>
<path fill="#0040ff" d="M293.32 81.99H297.11V85.78H293.32z"/>
<path fill="#0030ff" d="M296.51 81.99H300.30V85.78H296.51z"/>
<path fill="#0020ff" d="M299.70 81.99H316.25V85.78H299.70z"/>
<path fill="#0030ff" d="M315.65 81.99H329.01V85.78H315.65z"/>
<path fill="#0030ff" d="M210.38 85.18H214.17V88.97H210.38z"/>
<path fill="#0040ff" d="M213.57 85.18H220.55V88.97H213.57z"/>
<path fill="#0050ff" d="M219.95 85.18H223.74V88.97H219.95z"/>
<path fill="#0060ff" d="M223.14 85.18H233.31V88.97H223.14z"/>
<path fill="#0070ff" d="M232.71 85.18H239.69V88.97H232.71z"/>
<path fill="#0080ff" d="M239.09 85.18H246.07V88.97H239.09z"/>
<path fill="#008fff" d="M245.47 85.18H249.26V88.97H245.47z"/>
<path fill="#009fff" d="M248.66 85.18H252.45V88.97H248.66z"/>
<path fill="#00bfff" d="M251.85 85.18H255.64V88.97H251.85z"/>
<path fill="#00efff" d="M255.04 85.18H258.83V88.97H255.04z"/>
<path fill="#20ffdf" d="M258.23 85.18H262.02V88.97H258.23z"/>
<path fill="#50ffaf" d="M261.42 85.18H265.21V88.97H261.42z"/>
<path fill="#8fff70" d="M264.61 85.18H268.40V88.97H264.61z"/>
<path fill="#ff7000" d="M267.80 85.18H274.78V88.97H267.80z"/>
<path fill="#80ff80" d="M274.18 85.18H277.97V88.97H274.18z"/>
<path fill="#40ffbf" d="M277.37 85.18H281.16V88.97H277.37z"/>
<path fill="#00dfff" d="M280.56 85.18H284.35V88.97H280.56z"/>
<path fill="#00afff" d="M283.75 85.18H287.54V88.97H283.75z"/>
<path fill="#0080ff" d="M286.94 85.18H290.73V88.97H286.94z"/>
<path fill="#0060ff" d="M290.13 85.18H293.92V88.97H290.13z"/>
<path fill="#0050ff" d="M293.32 85.18H297.11V88.97H293.32z"/>
<path fill="#0040ff" d="M296.51 85.18H300.30V88.97H296.51z"/>
<path fill="#0030ff" d="M299.70 85.18H303.49V88.97H299.70z"/>
<path fill="#0020ff" d="M302.89 85.18H316.25V88.97H302.89z"/>
<path fill="#0030ff" d="M315.65 85.18H329.01V88.97H315.65z"/>
<path fill="#0030ff" d="M210.38 88.37H217.36V92.16H210.38z"/>
<path fill="#0040ff" d="M216.76 88.37H223.74V92.16H216.76z"/>
<path fill="#0050ff" d="M223.14 88.37H230.12V92.16H223.14z"/>
<path fill="#0060ff" d="M229.52 88.37H239.69V92.16H229.52z"/>
<path fill="#0070ff" d="M239.09 88.37H246.07V92.16H239.09z"/>
<path fill="#0080ff" d="M245.47 88.37H249.26V92.16H245.47z"/>
<path fill="#008fff" d="M248.66 88.37H252.45V92.16H248.66z"/>
<path fill="#00afff" d="M251.85 88.37H255.64V92.16H251.85z"/>
<path fill="#00cfff" d="M255.04 88.37H258.83V92.16H255.04z"/>
<path fill="#00efff" d="M258.23 88.37H262.02V92.16H258.23z"/>
<path fill="#10ffef" d="M261.42 88.37H265.21V92.16H261.42z"/>
<path fill="#30ffcf" d="M264.61 88.37H268.40V92.16H264.61z"/>
<path fill="#70ff8f" d="M267.80 88.37H274.78V92.16H267.80z"/>
<path fill="#20ffdf" d="M274.18 88.37H277.97V92.16H274.18z"/>
<path fill="#00efff" d="M277.37 88.37H281.16V92.16H277.37z"/>
<path fill="#00cfff" d="M280.56 88.37H284.35V92.16H280.56z"/>
<path fill="#00afff" d="M283.75 88.37H287.54V92.16H283.75z"/>
<path fill="#0080ff" d="M286.94 88.37H290.73V92.16H286.94z"/>
<path fill="#0060ff" d="M290.13 88.37H293.92V92.16H290.13z"/>
<path fill="#0050ff" d="M293.32 88.37H297.11V92.16H293.32z"/>
<path fill="#0040ff" d="M296.51 88.37H300.30V92.16H296.51z"/>
<path fill="#0030ff" d="M299.70 88.37H303.49V92.16H299.70z"/>
<path fill="#0020ff" d="M302.89 88.37H316.25V92.16H302.89z"/>
<path fill="#0030ff" d="M315.65 88.37H329.01V92.16H315.65z"/>
<path fill="#0020ff" d="M210.38 91.56H217.36V95.35H210.38z"/>
<path fill="#0030ff" d="M216.76 91.56H220.55V95.35H216.76z"/>
<path fill="#0040ff" d="M219.95 91.56H226.93V95.35H219.95z"/>
<path fill="#0050ff" d="M226.33 91.56H236.50V95.35H226.33z"/>
<path fill="#0060ff" d="M235.90 91.56H246.07V95.35H235.90z"/>
<path fill="#0070ff" d="M245.47 91.56H249.26V95.35H245.47z"/>
<path fill="#0080ff" d="M248.66 91.56H252.45V95.35H248.66z"/>
<path fill="#008fff" d="M251.85 91.56H255.64V95.35H251.85z"/>
<path fill="#009fff" d="M255.04 91.56H258.83V95.35H255.04z"/>
<path fill="#00bfff" d="M258.23 91.56H262.02V95.35H258.23z"/>
<path fill="#00cfff" d="M261.42 91.56H265.21V95.35H261.42z"/>
<path fill="#00dfff" d="M264.61 91.56H274.78V95.35H264.61z"/>
<path fill="#00cfff" d="M274.18 91.56H277.97V95.35H274.18z"/>
<path fill="#00bfff" d="M277.37 91.56H281.16V95.35H277.37z"/>
<path fill="#00afff" d="M280.56 91.56H284.35V95.35H280.56z"/>
<path fill="#009fff" d="M283.75 91.56H287.54V95.35H283.75z"/>
<path fill="#0080ff" d="M286.94 91.56H290.73V95.35H286.94z"/>
<path fill="#0060ff" d="M290.13 91.56H293.92V95.35H290.13z"/>
<path fill="#0050ff" d="M293.32 91.56H297.11V95.35H293.32z"/>
<path fill="#0040ff" d="M296.51 91.56H300.30V95.35H296.51z"/>
<path fill="#0030ff" d="M299.70 91.56H306.68V95.35H299.70z"/>
<path fill="#0020ff" d="M306.08 91.56H316.25V95.35H306.08z"/>
<path fill="#0030ff" d="M315.65 91.56H329.01V95.35H315.65z"/>
<path fill="#0020ff" d="M210.38 94.75H217.36V98.54H210.38z"/>
<path fill="#0030ff" d="M216.76 94.75H223.74V98.54H216.76z"/>
<path fill="#0040ff" d="M223.14 94.75H233.31V98.54H223.14z"/>
<path fill="#0050ff" d="M232.71 94.75H242.88V98.54H232.71z"/>
<path fill="#0060ff" d="M242.28 94.75H249.26V98.54H242.28z"/>
<path fill="#0070ff" d="M248.66 94.75H252.45V98.54H248.66z"/>
<path fill="#0080ff" d="M251.85 94.75H258.83V98.54H251.85z"/>
<path fill="#008fff" d="M258.23 94.75H262.02V98.54H258.23z"/>
<path fill="#009fff" d="M261.42 94.75H268.40V98.54H261.42z"/>
<path fill="#00afff" d="M267.80 94.75H274.78V98.54H267.80z"/>
<path fill="#009fff" d="M274.18 94.75H284.35V98.54H274.18z"/>
<path fill="#008fff" d="M283.75 94.75H287.54V98.54H283.75z"/>
<path fill="#0070ff" d="M286.94 94.75H290.73V98.54H286.94z"/>
<path fill="#0060ff" d="M290.13 94.75H293.92V98.54H290.13z"/>
<path fill="#0050ff" d="M293.32 94.75H297.11V98.54H293.32z"/>
<path fill="#0040ff" d="M296.51 94.75H300.30V98.54H296.51z"/>
<path fill="#0030ff" d="M299.70 94.75H306.68V98.54H299.70z"/>
<path fill="#0020ff" d="M306.08 94.75H316.25V98.54H306.08z"/>
<path fill="#0030ff" d="M315.65 94.75H329.01V98.54H315.65z"/>
<path fill="#0020ff" d="M210.38 97.94H220.55V101.73H210.38z"/>
<path fill="#0030ff" d="M219.95 97.94H226.93V101.73H219.95z"/>
<path fill="#0040ff" d="M226.33 97.94H236.50V101.73H226.33z"/>
<path fill="#0050ff" d="M235.90 97.94H249.26V101.73H235.90z"/>
<path fill="#0060ff" d="M248.66 97.94H255.64V101.73H248.66z"/>
<path fill="#0070ff" d="M255.04 97.94H262.02V101.73H255.04z"/>
<path fill="#0080ff" d="M261.42 97.94H284.35V101.73H261.42z"/>
<path fill="#0070ff" d="M283.75 97.94H287.54V101.73H283.75z"/>
<path fill="#0060ff" d="M286.94 97.94H290.73V101.73H286.94z"/>
<path fill="#0050ff" d="M290.13 97.94H297.11V101.73H290.13z"/>
<path fill="#0040ff" d="M296.51 97.94H300.30V101.73H296.51z"/>
<path fill="#0030ff" d="M299.70 97.94H309.87V101.73H299.70z"/>
<path fill="#0020ff" d="M309.27 97.94H316.25V101.73H309.27z"/>
<path fill="#0030ff" d="M315.65 97.94H329.01V101.73H315.65z"/>
<path fill="#0010ff" d="M210.38 101.13H214.17V104.92H210.38z"/>
<path fill="#0020ff" d="M213.57 101.13H220.55V104.92H213.57z"/>
<path fill="#0030ff" d="M219.95 101.13H230.12V104.92H219.95z"/>
<path fill="#0040ff" d="M229.52 101.13H242.88V104.92H229.52z"/>
<path fill="#0050ff" d="M242.28 101.13H252.45V104.92H242.28z"/>
<path fill="#0060ff" d="M251.85 101.13H262.02V104.92H251.85z"/>
<path fill="#0070ff" d="M261.42 101.13H284.35V104.92H261.42z"/>
<path fill="#0060ff" d="M283.75 101.13H290.73V104.92H283.75z"/>
<path fill="#0050ff" d="M290.13 101.13H293.92V104.92H290.13z"/>
<path fill="#0040ff" d="M293.32 101.13H300.30V104.92H293.32z"/>
<path fill="#0030ff" d="M299.70 101.13H309.87V104.92H299.70z"/>
<path fill="#0020ff" d="M309.27 101.13H319.44V104.92H309.27z"/>
<path fill="#0030ff" d="M318.84 101.13H329.01V104.92H318.84z"/>
<path fill="#0010ff" d="M210.38 104.32H217.36V108.11H210.38z"/>
<path fill="#0020ff" d="M216.76 104.32H223.74V108.11H216.76z"/>
<path fill="#0030ff" d="M223.14 104.32H233.31V108.11H223.14z"/>
<path fill="#0040ff" d="M232.71 104.32H246.07V108.11H232.71z"/>
<path fill="#0050ff" d="M245.47 104.32H258.83V108.11H245.47z"/>
<path fill="#0060ff" d="M258.23 104.32H284.35V108.11H258.23z"/>
<path fill="#0050ff" d="M283.75 104.32H293.92V108.11H283.75z"/>
<path fill="#0040ff" d="M293.32 104.32H300.30V108.11H293.32z"/>
<path fill="#0030ff" d="M299.70 104.32H309.87V108.11H299.70z"/>
<path fill="#0020ff" d="M309.27 104.32H329.01V108.11H309.27z"/>
<path fill="#0010ff" d="M210.38 107.51H220.55V111.30H210.38z"/>
<path fill="#0020ff" d="M219.95 107.51H226.93V111.30H219.95z"/>
<path fill="#0030ff" d="M226.33 107.51H236.50V111.30H226.33z"/>
<path fill="#0040ff" d="M235.90 107.51H252.45V111.30H235.90z"/>
<path fill="#0050ff" d="M251.85 107.51H290.73V111.30H251.85z"/>
<path fill="#0040ff" d="M290.13 107.51H300.30V111.30H290.13z"/>
<path fill="#0030ff" d="M299.70 107.51H309.87V111.30H299.70z"/>
<path fill="#0020ff" d="M309.27 107.51H329.01V111.30H309.27z"/>
<path fill="#0010ff" d="M210.38 110.70H220.55V114.49H210.38z"/>
<path fill="#0020ff" d="M219.95 110.70H230.12V114.49H219.95z"/>
<path fill="#0030ff" d="M229.52 110.70H242.88V114.49H229.52z"/>
<path fill="#0040ff" d="M242.28 110.70H258.83V114.49H242.28z"/>
<path fill="#0050ff" d="M258.23 110.70H284.35V114.49H258.23z"/>
<path fill="#0040ff" d="M283.75 110.70H300.30V114.49H283.75z"/>
<path fill="#0030ff" d="M299.70 110.70H306.68V114.49H299.70z"/>
<path fill="#0020ff" d="M306.08 110.70H329.01V114.49H306.08z"/>
<path fill="#0010ff" d="M210.38 113.89H226.93V117.68H210.38z"/>
<path fill="#0020ff" d="M226.33 113.89H236.50V117.68H226.33z"/>
<path fill="#0030ff" d="M235.90 113.89H246.07V117.68H235.90z"/>
<path fill="#0040ff" d="M245.47 113.89H297.11V117.68H245.47z"/>
<path fill="#0030ff" d="M296.51 113.89H306.68V117.68H296.51z"/>
<path fill="#0020ff" d="M306.08 113.89H316.25V117.68H306.08z"/>
<path fill="#0010ff" d="M315.65 113.89H325.82V117.68H315.65z"/>
<path fill="#0020ff" d="M325.22 113.89H329.01V117.68H325.22z"/>
<path fill="#0010ff" d="M210.38 117.08H230.12V120.87H210.38z"/>
<path fill="#0020ff" d="M229.52 117.08H242.88V120.87H229.52z"/>
<path fill="#0030ff" d="M242.28 117.08H252.45V120.87H242.28z"/>
<path fill="#0040ff" d="M251.85 117.08H297.11V120.87H251.85z"/>
<path fill="#0030ff" d="M296.51 117.08H306.68V120.87H296.51z"/>
<path fill="#0020ff" d="M306.08 117.08H313.06V120.87H306.08z"/>
<path fill="#0010ff" d="M312.46 117.08H329.01V120.87H312.46z"/>
<path fill="#0010ff" d="M210.38 120.27H236.50V124.06H210.38z"/>
<path fill="#0020ff" d="M235.90 120.27H246.07V124.06H235.90z"/>
<path fill="#0030ff" d="M245.47 120.27H258.83V124.06H245.47z"/>
<path fill="#0040ff" d="M258.23 120.27H293.92V124.06H258.23z"/>
<path fill="#0030ff" d="M293.32 120.27H303.49V124.06H293.32z"/>
<path fill="#0020ff" d="M302.89 120.27H309.87V124.06H302.89z"/>
<path fill="#0010ff" d="M309.27 120.27H329.01V124.06H309.27z"/>
<path fill="#0010ff" d="M210.38 123.46H242.88V127.25H210.38z"/>
<path fill="#0020ff" d="M242.28 123.46H252.45V127.25H242.28z"/>
<path fill="#0030ff" d="M251.85 123.46H265.21V127.25H251.85z"/>
<path fill="#0040ff" d="M264.61 123.46H290.73V127.25H264.61z"/>
<path fill="#0030ff" d="M290.13 123.46H303.49V127.25H290.13z"/>
<path fill="#0020ff" d="M302.89 123.46H309.87V127.25H302.89z"/>
<path fill="#0010ff" d="M309.27 123.46H316.25V127.25H309.27z"/>
<path fill="#0000ff" d="M315.65 123.46H325.82V127.25H315.65z"/>
<path fill="#0010ff" d="M325.22 123.46H329.01V127.25H325.22z"/>
<path fill="#0020ff" d="M210.38 126.65H214.17V130.44H210.38z"/>
<path fill="#0010ff" d="M213.57 126.65H246.07V130.44H213.57z"/>
<path fill="#0020ff" d="M245.47 126.65H255.64V130.44H245.47z"/>
<path fill="#0030ff" d="M255.04 126.65H274.78V130.44H255.04z"/>
<path fill="#0040ff" d="M274.18 126.65H281.16V130.44H274.18z"/>
<path fill="#0030ff" d="M280.56 126.65H303.49V130.44H280.56z"/>
<path fill="#0020ff" d="M302.89 126.65H309.87V130.44H302.89z"/>
<path fill="#0010ff" d="M309.27 126.65H316.25V130.44H309.27z"/>
<path fill="#0000ff" d="M315.65 126.65H325.82V130.44H315.65z"/>
<path fill="#0010ff" d="M325.22 126.65H329.01V130.44H325.22z"/>
<path fill="#0020ff" d="M210.38 129.84H223.74V133.63H210.38z"/>
<path fill="#0010ff" d="M223.14 129.84H252.45V133.63H223.14z"/>
<path fill="#0020ff" d="M251.85 129.84H262.02V133.63H251.85z"/>
<path fill="#0030ff" d="M261.42 129.84H300.30V133.63H261.42z"/>
<path fill="#0020ff" d="M299.70 129.84H309.87V133.63H299.70z"/>
<path fill="#0010ff" d="M309.27 129.84H316.25V133.63H309.27z"/>
<path fill="#0000ff" d="M315.65 129.84H325.82V133.63H315.65z"/>
<path fill="#0010ff" d="M325.22 129.84H329.01V133.63H325.22z"/>
<path fill="#0020ff" d="M210.38 133.03H230.12V136.82H210.38z"/>
<path fill="#0010ff" d="M229.52 133.03H252.45V136.82H229.52z"/>
<path fill="#0020ff" d="M251.85 133.03H265.21V136.82H251.85z"/>
<path fill="#0030ff" d="M264.61 133.03H300.30V136.82H264.61z"/>
<path fill="#0020ff" d="M299.70 133.03H309.87V136.82H299.70z"/>
<path fill="#0010ff" d="M309.27 133.03H316.25V136.82H309.27z"/>
<path fill="#0000ff" d="M315.65 133.03H325.82V136.82H315.65z"/>
<path fill="#0010ff" d="M325.22 133.03H329.01V136.82H325.22z"/>
<path fill="#0020ff" d="M210.38 136.22H236.50V140.01H210.38z"/>
<path fill="#0010ff" d="M235.90 136.22H255.64V140.01H235.90z"/>
<path fill="#0020ff" d="M255.04 136.22H268.40V140.01H255.04z"/>
<path fill="#0030ff" d="M267.80 136.22H300.30V140.01H267.80z"/>
<path fill="#0020ff" d="M299.70 136.22H309.87V140.01H299.70z"/>
<path fill="#0010ff" d="M309.27 136.22H319.44V140.01H309.27z"/>
<path fill="#0000ff" d="M318.84 136.22H322.63V140.01H318.84z"/>
<path fill="#0010ff" d="M322.03 136.22H329.01V140.01H322.03z"/>
</g>
<g clip-path="url(#clipA)">
<g fill="none" stroke-width="1.7" opacity="0.6" stroke-dasharray="3.2 1.1 1.6 0.9">
<path d="M271.31 133.09L272.74 126.96" stroke="#00dfff"/>
<path d="M272.66 127.31L274.91 117.71" stroke="#00efff"/>
<path d="M274.83 118.06L276.80 109.62" stroke="#00ffff"/>
<path d="M276.72 109.97L277.61 106.15" stroke="#10ffef"/>
<path d="M277.53 106.50L278.69 101.53" stroke="#20ffdf"/>
<path d="M278.61 101.88L279.50 98.06" stroke="#30ffcf"/>
<path d="M279.42 98.41L279.77 96.90" stroke="#40ffbf"/>
<path d="M279.69 97.25L280.04 95.75" stroke="#60ff9f"/>
<path d="M279.96 96.10L280.31 94.59" stroke="#80ff80"/>
<path d="M280.23 94.94L280.58 93.44" stroke="#9fff60"/>
<path d="M280.50 93.78L280.85 92.28" stroke="#bfff40"/>
<path d="M280.77 92.63L281.12 91.12" stroke="#afff50"/>
<path d="M281.04 91.47L281.39 89.97" stroke="#8fff70"/>
<path d="M281.31 90.32L281.66 88.81" stroke="#70ff8f"/>
<path d="M281.58 89.16L281.93 87.66" stroke="#50ffaf"/>
<path d="M281.85 88.00L282.20 86.50" stroke="#40ffbf"/>
<path d="M282.12 86.85L282.47 85.34" stroke="#30ffcf"/>
<path d="M282.39 85.69L283.01 83.03" stroke="#20ffdf"/>
<path d="M282.93 83.38L283.55 80.72" stroke="#10ffef"/>
<path d="M283.47 81.07L284.09 78.41" stroke="#00ffff"/>
<path d="M284.01 78.76L284.90 74.94" stroke="#00efff"/>
<path d="M284.82 75.29L285.71 71.47" stroke="#00dfff"/>
<path d="M285.63 71.82L286.53 68.00" stroke="#00cfff"/>
<path d="M286.44 68.35L286.80 66.85" stroke="#00bfff"/>
<path d="M286.71 67.20L287.34 64.54" stroke="#00afff"/>
<path d="M287.26 64.88L287.53 63.73" stroke="#009fff"/>
</g>
<g fill="none" stroke-width="1.7" opacity="0.5" stroke-dasharray="2.6 1.0 4.1 1.2">
<path d="M287.89 133.09L288.41 130.92" stroke="#00cfff"/>
<path d="M288.29 131.42L289.21 127.58" stroke="#00dfff"/>
<path d="M289.09 128.08L290.00 124.25" stroke="#00efff"/>
<path d="M289.88 124.75L290.80 120.91" stroke="#00ffff"/>
<path d="M290.68 121.41L291.60 117.57" stroke="#00efff"/>
<path d="M291.48 118.07L292.40 114.24" stroke="#00dfff"/>
<path d="M292.28 114.74L293.20 110.90" stroke="#00cfff"/>
<path d="M293.08 111.40L294.00 107.57" stroke="#00dfff"/>
<path d="M293.88 108.07L294.80 104.23" stroke="#00efff"/>
<path d="M294.68 104.73L296.00 99.22" stroke="#00ffff"/>
<path d="M295.88 99.73L297.60 92.55" stroke="#00efff"/>
<path d="M297.48 93.05L299.99 82.54" stroke="#00dfff"/>
<path d="M299.87 83.04L301.59 75.87" stroke="#00efff"/>
<path d="M301.47 76.37L302.79 70.87" stroke="#00ffff"/>
<path d="M302.67 71.37L303.59 67.53" stroke="#00efff"/>
<path d="M303.47 68.03L304.39 64.19" stroke="#00dfff"/>
<path d="M304.27 64.69L305.19 60.86" stroke="#00cfff"/>
<path d="M305.07 61.36L306.78 54.19" stroke="#00bfff"/>
<path d="M306.66 54.69L308.38 47.51" stroke="#00afff"/>
<path d="M308.26 48.01L309.58 42.51" stroke="#009fff"/>
<path d="M309.46 43.01L310.78 37.50" stroke="#008fff"/>
<path d="M310.66 38.00L311.58 34.17" stroke="#0080ff"/>
<path d="M311.46 34.67L311.86 33.00" stroke="#0070ff"/>
</g>
<g fill="none" stroke-width="1.7" opacity="0.45" stroke-dasharray="3.7 1.2 2.1 1.0">
<path d="M304.08 133.09L304.44 131.52" stroke="#00bfff"/>
<path d="M304.36 131.88L305.00 129.10" stroke="#00cfff"/>
<path d="M304.92 129.47L305.56 126.69" stroke="#00dfff"/>
<path d="M305.47 127.05L306.11 124.28" stroke="#00efff"/>
<path d="M306.03 124.64L306.39 123.07" stroke="#00dfff"/>
<path d="M306.31 123.43L306.67 121.86" stroke="#00cfff"/>
<path d="M306.59 122.22L307.23 119.45" stroke="#00bfff"/>
<path d="M307.14 119.81L308.34 114.62" stroke="#00afff"/>
<path d="M308.26 114.98L309.45 109.79" stroke="#00bfff"/>
<path d="M309.37 110.15L310.57 104.96" stroke="#00cfff"/>
<path d="M310.48 105.33L311.40 101.34" stroke="#00dfff"/>
<path d="M311.32 101.71L313.07 94.10" stroke="#00cfff"/>
<path d="M312.99 94.46L317.80 73.58" stroke="#00bfff"/>
<path d="M317.72 73.94L318.64 69.96" stroke="#00afff"/>
<path d="M318.56 70.32L319.75 65.13" stroke="#009fff"/>
<path d="M319.67 65.50L320.78 60.67" stroke="#008fff"/>
</g>
<rect x="296.3" y="24" width="2" height="8" fill="#000c70" opacity="0.8"/>
</g>
<text x="218.40" y="148.50" font-size="6.5" text-anchor="middle" fill="#262626" stroke="#262626" stroke-width="0.18" >134</text>
<text x="243.90" y="148.50" font-size="6.5" text-anchor="middle" fill="#262626" stroke="#262626" stroke-width="0.18" >136</text>
<text x="269.40" y="148.50" font-size="6.5" text-anchor="middle" fill="#262626" stroke="#262626" stroke-width="0.18" >138</text>
<text x="294.90" y="148.50" font-size="6.5" text-anchor="middle" fill="#262626" stroke="#262626" stroke-width="0.18" >140</text>
<text x="320.40" y="148.50" font-size="6.5" text-anchor="middle" fill="#262626" stroke="#262626" stroke-width="0.18" >142</text>
<text x="209.10" y="137.40" font-size="6.5" text-anchor="end" fill="#262626" stroke="#262626" stroke-width="0.18" >16</text>
<text x="209.10" y="111.90" font-size="6.5" text-anchor="end" fill="#262626" stroke="#262626" stroke-width="0.18" >18</text>
<text x="209.10" y="86.40" font-size="6.5" text-anchor="end" fill="#262626" stroke="#262626" stroke-width="0.18" >20</text>
<text x="209.10" y="60.90" font-size="6.5" text-anchor="end" fill="#262626" stroke="#262626" stroke-width="0.18" >22</text>
<text x="209.10" y="35.40" font-size="6.5" text-anchor="end" fill="#262626" stroke="#262626" stroke-width="0.18" >24</text>
<text x="269.25" y="159.30" font-size="7.75" text-anchor="middle" fill="#262626" stroke="#262626" stroke-width="0.18" >Longitude (deg)</text>
<text transform="translate(197.50 81.35) rotate(-90)" font-size="7.75" text-anchor="middle" fill="#262626" stroke="#262626" stroke-width="0.18">Latitude (deg)</text>
<text x="269.25" y="9.20" font-size="7.75" text-anchor="middle" fill="#000" stroke="#000" stroke-width="0.18" xml:space="preserve">HWRF nyatoh27w 20211202 21:00  UTC</text>
<text x="269.25" y="20.60" font-size="7.75" text-anchor="middle" fill="#000" stroke="#000" stroke-width="0.18" >GNOS-II: 20:29 - 20:32</text>
<linearGradient id="cbA2" x1="0" y1="0" x2="0" y2="1"><stop offset="0.0000" stop-color="#800000"/><stop offset="0.0312" stop-color="#9f0000"/><stop offset="0.0625" stop-color="#bf0000"/><stop offset="0.0938" stop-color="#df0000"/><stop offset="0.1250" stop-color="#ff0000"/><stop offset="0.1562" stop-color="#ff2000"/><stop offset="0.1875" stop-color="#ff4000"/><stop offset="0.2188" stop-color="#ff6000"/><stop offset="0.2500" stop-color="#ff8000"/><stop offset="0.2812" stop-color="#ff9f00"/><stop offset="0.3125" stop-color="#ffbf00"/><stop offset="0.3438" stop-color="#ffdf00"/><stop offset="0.3750" stop-color="#ffff00"/><stop offset="0.4062" stop-color="#dfff20"/><stop offset="0.4375" stop-color="#bfff40"/><stop offset="0.4688" stop-color="#9fff60"/><stop offset="0.5000" stop-color="#80ff80"/><stop offset="0.5312" stop-color="#60ff9f"/><stop offset="0.5625" stop-color="#40ffbf"/><stop offset="0.5938" stop-color="#20ffdf"/><stop offset="0.6250" stop-color="#00ffff"/><stop offset="0.6562" stop-color="#00dfff"/><stop offset="0.6875" stop-color="#00bfff"/><stop offset="0.7188" stop-color="#009fff"/><stop offset="0.7500" stop-color="#0080ff"/><stop offset="0.7812" stop-color="#0060ff"/><stop offset="0.8125" stop-color="#0040ff"/><stop offset="0.8438" stop-color="#0020ff"/><stop offset="0.8750" stop-color="#0000ff"/><stop offset="0.9062" stop-color="#0000df"/><stop offset="0.9375" stop-color="#0000bf"/><stop offset="0.9688" stop-color="#00009f"/><stop offset="1.0000" stop-color="#000080"/></linearGradient>
<rect x="330.50" y="24.20" width="6.80" height="114.50" fill="url(#cbA2)"/>
<text x="339.60" y="131.21" font-size="6.5" text-anchor="start" fill="#262626" stroke="#262626" stroke-width="0.18" >10</text>
<text x="339.60" y="111.64" font-size="6.5" text-anchor="start" fill="#262626" stroke="#262626" stroke-width="0.18" >20</text>
<text x="339.60" y="92.07" font-size="6.5" text-anchor="start" fill="#262626" stroke="#262626" stroke-width="0.18" >30</text>
<text x="339.60" y="72.50" font-size="6.5" text-anchor="start" fill="#262626" stroke="#262626" stroke-width="0.18" >40</text>
<text x="339.60" y="52.92" font-size="6.5" text-anchor="start" fill="#262626" stroke="#262626" stroke-width="0.18" >50</text>
<text x="339.60" y="33.35" font-size="6.5" text-anchor="start" fill="#262626" stroke="#262626" stroke-width="0.18" >60</text>
<text x="333.90" y="20.50" font-size="6.5" text-anchor="middle" fill="#262626" stroke="#262626" stroke-width="0.18" >m/s</text>
<line x1="395.60" y1="50.10" x2="395.60" y2="138.60" stroke="#ebebeb" stroke-width="0.5"/>
<line x1="431.65" y1="50.10" x2="431.65" y2="138.60" stroke="#ebebeb" stroke-width="0.5"/>
<line x1="467.70" y1="50.10" x2="467.70" y2="138.60" stroke="#ebebeb" stroke-width="0.5"/>
<line x1="503.75" y1="50.10" x2="503.75" y2="138.60" stroke="#ebebeb" stroke-width="0.5"/>
<line x1="539.80" y1="50.10" x2="539.80" y2="138.60" stroke="#ebebeb" stroke-width="0.5"/>
<line x1="395.60" y1="138.60" x2="539.80" y2="138.60" stroke="#ebebeb" stroke-width="0.5"/>
<line x1="395.60" y1="116.47" x2="539.80" y2="116.47" stroke="#ebebeb" stroke-width="0.5"/>
<line x1="395.60" y1="94.35" x2="539.80" y2="94.35" stroke="#ebebeb" stroke-width="0.5"/>
<line x1="395.60" y1="72.22" x2="539.80" y2="72.22" stroke="#ebebeb" stroke-width="0.5"/>
<line x1="395.60" y1="50.10" x2="539.80" y2="50.10" stroke="#ebebeb" stroke-width="0.5"/>
<rect x="395.60" y="50.10" width="144.20" height="88.50" fill="none" stroke="#bdbdbd" stroke-width="0.6"/>
<text x="395.60" y="148.60" font-size="6.5" text-anchor="middle" fill="#262626" stroke="#262626" stroke-width="0.18" >138</text>
<text x="431.65" y="148.60" font-size="6.5" text-anchor="middle" fill="#262626" stroke="#262626" stroke-width="0.18" >138.5</text>
<text x="467.70" y="148.60" font-size="6.5" text-anchor="middle" fill="#262626" stroke="#262626" stroke-width="0.18" >139</text>
<text x="503.75" y="148.60" font-size="6.5" text-anchor="middle" fill="#262626" stroke="#262626" stroke-width="0.18" >139.5</text>
<text x="539.80" y="148.60" font-size="6.5" text-anchor="middle" fill="#262626" stroke="#262626" stroke-width="0.18" >140</text>
<text x="393.10" y="140.90" font-size="6.5" text-anchor="end" fill="#262626" stroke="#262626" stroke-width="0.18" >0</text>
<text x="393.10" y="118.77" font-size="6.5" text-anchor="end" fill="#262626" stroke="#262626" stroke-width="0.18" >10</text>
<text x="393.10" y="96.65" font-size="6.5" text-anchor="end" fill="#262626" stroke="#262626" stroke-width="0.18" >20</text>
<text x="393.10" y="74.52" font-size="6.5" text-anchor="end" fill="#262626" stroke="#262626" stroke-width="0.18" >30</text>
<text x="393.10" y="52.40" font-size="6.5" text-anchor="end" fill="#262626" stroke="#262626" stroke-width="0.18" >40</text>
<text x="467.70" y="158.40" font-size="7.75" text-anchor="middle" fill="#262626" stroke="#262626" stroke-width="0.18" >Longitude</text>
<text transform="translate(382.00 94.35) rotate(-90)" font-size="7.75" text-anchor="middle" fill="#262626" stroke="#262626" stroke-width="0.18">Wind speed (m/s)</text>
<path d="M405.99 118.26h0.86v0.86h-0.86zM406.27 118.14h0.86v0.86h-0.86zM406.56 118.03h0.86v0.86h-0.86zM406.85 117.91h0.86v0.86h-0.86zM407.14 117.80h0.86v0.86h-0.86zM407.43 117.68h0.86v0.86h-0.86zM407.72 117.57h0.86v0.86h-0.86zM408.00 117.45h0.86v0.86h-0.86zM408.29 117.34h0.86v0.86h-0.86zM408.58 117.22h0.86v0.86h-0.86zM408.87 117.11h0.86v0.86h-0.86zM409.16 116.99h0.86v0.86h-0.86zM409.45 116.88h0.86v0.86h-0.86zM409.73 116.76h0.86v0.86h-0.86zM410.02 116.65h0.86v0.86h-0.86zM410.31 116.53h0.86v0.86h-0.86zM410.60 116.42h0.86v0.86h-0.86zM410.89 116.30h0.86v0.86h-0.86zM411.18 116.19h0.86v0.86h-0.86zM411.46 116.07h0.86v0.86h-0.86zM411.75 115.96h0.86v0.86h-0.86zM412.04 115.84h0.86v0.86h-0.86zM412.33 115.73h0.86v0.86h-0.86zM412.62 115.61h0.86v0.86h-0.86zM412.91 115.50h0.86v0.86h-0.86zM413.19 115.38h0.86v0.86h-0.86zM413.48 115.21h0.86v0.86h-0.86zM413.77 115.04h0.86v0.86h-0.86zM414.06 114.88h0.86v0.86h-0.86zM414.35 114.71h0.86v0.86h-0.86zM414.64 114.54h0.86v0.86h-0.86zM414.93 114.37h0.86v0.86h-0.86zM415.21 114.20h0.86v0.86h-0.86zM415.50 114.04h0.86v0.86h-0.86zM415.79 113.87h0.86v0.86h-0.86zM416.08 113.70h0.86v0.86h-0.86zM416.37 113.53h0.86v0.86h-0.86zM416.66 113.36h0.86v0.86h-0.86zM416.94 113.20h0.86v0.86h-0.86zM417.23 113.03h0.86v0.86h-0.86zM417.52 112.86h0.86v0.86h-0.86zM417.81 112.69h0.86v0.86h-0.86zM418.10 112.52h0.86v0.86h-0.86zM418.39 112.35h0.86v0.86h-0.86zM418.67 112.19h0.86v0.86h-0.86zM418.96 112.02h0.86v0.86h-0.86zM419.25 111.85h0.86v0.86h-0.86zM419.54 111.68h0.86v0.86h-0.86zM419.83 111.51h0.86v0.86h-0.86zM420.12 111.35h0.86v0.86h-0.86zM420.40 111.18h0.86v0.86h-0.86zM420.69 111.12h0.86v0.86h-0.86zM420.98 111.06h0.86v0.86h-0.86zM421.27 111.00h0.86v0.86h-0.86zM421.56 110.94h0.86v0.86h-0.86zM421.85 110.88h0.86v0.86h-0.86zM422.14 110.82h0.86v0.86h-0.86zM422.42 110.76h0.86v0.86h-0.86zM422.71 110.71h0.86v0.86h-0.86zM423.00 110.65h0.86v0.86h-0.86zM423.29 110.59h0.86v0.86h-0.86zM423.58 110.53h0.86v0.86h-0.86zM423.87 110.47h0.86v0.86h-0.86zM424.15 110.41h0.86v0.86h-0.86zM424.44 110.35h0.86v0.86h-0.86zM424.73 110.29h0.86v0.86h-0.86zM425.02 110.23h0.86v0.86h-0.86zM425.31 110.17h0.86v0.86h-0.86zM425.60 110.12h0.86v0.86h-0.86zM425.88 110.06h0.86v0.86h-0.86zM426.17 110.00h0.86v0.86h-0.86zM426.46 109.94h0.86v0.86h-0.86zM426.75 109.88h0.86v0.86h-0.86zM427.04 109.82h0.86v0.86h-0.86zM427.33 109.76h0.86v0.86h-0.86zM427.61 109.70h0.86v0.86h-0.86zM427.90 109.64h0.86v0.86h-0.86zM428.19 109.58h0.86v0.86h-0.86zM428.48 109.53h0.86v0.86h-0.86zM428.77 109.47h0.86v0.86h-0.86zM429.06 109.41h0.86v0.86h-0.86zM429.35 109.35h0.86v0.86h-0.86zM429.63 109.29h0.86v0.86h-0.86zM429.92 109.23h0.86v0.86h-0.86zM430.21 109.17h0.86v0.86h-0.86zM430.50 109.11h0.86v0.86h-0.86zM430.79 109.05h0.86v0.86h-0.86zM431.08 108.99h0.86v0.86h-0.86zM431.36 108.88h0.86v0.86h-0.86zM431.65 108.70h0.86v0.86h-0.86zM431.94 108.52h0.86v0.86h-0.86zM432.23 108.35h0.86v0.86h-0.86zM432.52 108.17h0.86v0.86h-0.86zM432.81 107.99h0.86v0.86h-0.86zM433.09 107.81h0.86v0.86h-0.86zM433.38 107.64h0.86v0.86h-0.86zM433.67 107.46h0.86v0.86h-0.86zM433.96 107.28h0.86v0.86h-0.86zM434.25 107.11h0.86v0.86h-0.86zM434.54 106.93h0.86v0.86h-0.86zM434.82 106.75h0.86v0.86h-0.86zM435.11 106.58h0.86v0.86h-0.86zM435.40 106.40h0.86v0.86h-0.86zM435.69 106.22h0.86v0.86h-0.86zM435.98 106.04h0.86v0.86h-0.86zM436.27 105.87h0.86v0.86h-0.86zM436.56 105.69h0.86v0.86h-0.86zM436.84 105.51h0.86v0.86h-0.86zM437.13 105.34h0.86v0.86h-0.86zM437.42 105.16h0.86v0.86h-0.86zM437.71 104.98h0.86v0.86h-0.86zM438.00 104.81h0.86v0.86h-0.86zM438.29 104.63h0.86v0.86h-0.86zM438.57 104.37h0.86v0.86h-0.86zM438.86 104.04h0.86v0.86h-0.86zM439.15 103.70h0.86v0.86h-0.86zM439.44 103.36h0.86v0.86h-0.86zM439.73 103.03h0.86v0.86h-0.86zM440.02 102.69h0.86v0.86h-0.86zM440.30 102.35h0.86v0.86h-0.86zM440.59 102.02h0.86v0.86h-0.86zM440.88 101.68h0.86v0.86h-0.86zM441.17 101.35h0.86v0.86h-0.86zM441.46 101.01h0.86v0.86h-0.86zM441.75 100.67h0.86v0.86h-0.86zM442.03 100.34h0.86v0.86h-0.86zM442.32 100.00h0.86v0.86h-0.86zM442.61 99.66h0.86v0.86h-0.86zM442.90 99.33h0.86v0.86h-0.86zM443.19 98.99h0.86v0.86h-0.86zM443.48 98.65h0.86v0.86h-0.86zM443.77 98.32h0.86v0.86h-0.86zM444.05 97.98h0.86v0.86h-0.86zM444.34 97.65h0.86v0.86h-0.86zM444.63 97.31h0.86v0.86h-0.86zM444.92 96.97h0.86v0.86h-0.86zM445.21 96.64h0.86v0.86h-0.86zM445.50 96.30h0.86v0.86h-0.86zM445.78 95.96h0.86v0.86h-0.86zM446.07 95.60h0.86v0.86h-0.86zM446.36 95.25h0.86v0.86h-0.86zM446.65 94.89h0.86v0.86h-0.86zM446.94 94.54h0.86v0.86h-0.86zM447.23 94.19h0.86v0.86h-0.86zM447.51 93.83h0.86v0.86h-0.86zM447.80 93.48h0.86v0.86h-0.86zM448.09 93.12h0.86v0.86h-0.86zM448.38 92.77h0.86v0.86h-0.86zM448.67 92.42h0.86v0.86h-0.86zM448.96 92.06h0.86v0.86h-0.86zM449.24 91.71h0.86v0.86h-0.86zM449.53 91.35h0.86v0.86h-0.86zM449.82 91.00h0.86v0.86h-0.86zM450.11 90.65h0.86v0.86h-0.86zM450.40 90.29h0.86v0.86h-0.86zM450.69 89.94h0.86v0.86h-0.86zM450.98 89.58h0.86v0.86h-0.86zM451.26 89.23h0.86v0.86h-0.86zM451.55 88.88h0.86v0.86h-0.86zM451.84 88.52h0.86v0.86h-0.86zM452.13 88.17h0.86v0.86h-0.86zM452.42 87.81h0.86v0.86h-0.86zM452.71 87.46h0.86v0.86h-0.86zM452.99 87.11h0.86v0.86h-0.86zM453.28 86.75h0.86v0.86h-0.86zM453.57 86.40h0.86v0.86h-0.86zM453.86 86.04h0.86v0.86h-0.86zM454.15 85.69h0.86v0.86h-0.86zM454.44 85.34h0.86v0.86h-0.86zM454.72 84.98h0.86v0.86h-0.86zM455.01 84.63h0.86v0.86h-0.86zM455.30 84.27h0.86v0.86h-0.86zM455.59 83.92h0.86v0.86h-0.86zM455.88 83.57h0.86v0.86h-0.86zM456.17 83.21h0.86v0.86h-0.86zM456.45 82.86h0.86v0.86h-0.86zM456.74 82.25h0.86v0.86h-0.86zM457.03 81.64h0.86v0.86h-0.86zM457.32 81.03h0.86v0.86h-0.86zM457.61 80.42h0.86v0.86h-0.86zM457.90 79.82h0.86v0.86h-0.86zM458.19 79.21h0.86v0.86h-0.86zM458.47 78.60h0.86v0.86h-0.86zM458.76 77.99h0.86v0.86h-0.86zM459.05 77.38h0.86v0.86h-0.86zM459.34 76.77h0.86v0.86h-0.86zM459.63 76.16h0.86v0.86h-0.86zM459.92 75.56h0.86v0.86h-0.86zM460.20 74.95h0.86v0.86h-0.86zM460.49 74.34h0.86v0.86h-0.86zM460.78 73.73h0.86v0.86h-0.86zM461.07 73.12h0.86v0.86h-0.86zM461.36 72.51h0.86v0.86h-0.86zM461.65 71.91h0.86v0.86h-0.86zM461.93 71.30h0.86v0.86h-0.86zM462.22 70.69h0.86v0.86h-0.86zM462.51 70.32h0.86v0.86h-0.86zM462.80 69.95h0.86v0.86h-0.86zM463.09 69.57h0.86v0.86h-0.86zM463.38 69.20h0.86v0.86h-0.86zM463.66 68.83h0.86v0.86h-0.86zM463.95 68.46h0.86v0.86h-0.86zM464.24 68.09h0.86v0.86h-0.86zM464.53 67.72h0.86v0.86h-0.86zM464.82 67.34h0.86v0.86h-0.86zM465.11 66.97h0.86v0.86h-0.86zM465.40 66.60h0.86v0.86h-0.86zM465.68 66.23h0.86v0.86h-0.86zM465.97 66.01h0.86v0.86h-0.86zM466.26 65.94h0.86v0.86h-0.86zM466.55 65.87h0.86v0.86h-0.86zM466.84 65.79h0.86v0.86h-0.86zM467.13 65.72h0.86v0.86h-0.86zM467.41 65.65h0.86v0.86h-0.86zM467.70 65.58h0.86v0.86h-0.86zM467.99 65.51h0.86v0.86h-0.86zM468.28 65.44h0.86v0.86h-0.86zM468.57 65.37h0.86v0.86h-0.86zM468.86 65.30h0.86v0.86h-0.86zM469.14 65.23h0.86v0.86h-0.86zM469.43 65.16h0.86v0.86h-0.86zM469.72 65.38h0.86v0.86h-0.86zM470.01 65.60h0.86v0.86h-0.86zM470.30 65.82h0.86v0.86h-0.86zM470.59 66.04h0.86v0.86h-0.86zM470.87 66.26h0.86v0.86h-0.86zM471.16 66.48h0.86v0.86h-0.86zM471.45 66.71h0.86v0.86h-0.86zM471.74 66.93h0.86v0.86h-0.86zM472.03 67.15h0.86v0.86h-0.86zM472.32 67.37h0.86v0.86h-0.86zM472.61 68.25h0.86v0.86h-0.86zM472.89 69.14h0.86v0.86h-0.86zM473.18 70.02h0.86v0.86h-0.86zM473.47 70.91h0.86v0.86h-0.86zM473.76 71.79h0.86v0.86h-0.86zM474.05 72.68h0.86v0.86h-0.86zM474.34 73.56h0.86v0.86h-0.86zM474.62 74.45h0.86v0.86h-0.86zM474.91 75.33h0.86v0.86h-0.86zM475.20 76.22h0.86v0.86h-0.86zM475.49 77.10h0.86v0.86h-0.86zM475.78 77.99h0.86v0.86h-0.86zM476.07 78.68h0.86v0.86h-0.86zM476.35 79.16h0.86v0.86h-0.86zM476.64 79.65h0.86v0.86h-0.86zM476.93 80.14h0.86v0.86h-0.86zM477.22 80.62h0.86v0.86h-0.86zM477.51 81.11h0.86v0.86h-0.86zM477.80 81.60h0.86v0.86h-0.86zM478.08 82.08h0.86v0.86h-0.86zM478.37 82.57h0.86v0.86h-0.86zM478.66 83.06h0.86v0.86h-0.86zM478.95 83.40h0.86v0.86h-0.86zM479.24 83.59h0.86v0.86h-0.86zM479.53 83.78h0.86v0.86h-0.86zM479.82 83.97h0.86v0.86h-0.86zM480.10 84.16h0.86v0.86h-0.86zM480.39 84.35h0.86v0.86h-0.86zM480.68 84.55h0.86v0.86h-0.86zM480.97 84.74h0.86v0.86h-0.86zM481.26 84.93h0.86v0.86h-0.86zM481.55 85.12h0.86v0.86h-0.86zM481.83 85.31h0.86v0.86h-0.86zM482.12 85.51h0.86v0.86h-0.86zM482.41 85.70h0.86v0.86h-0.86zM482.70 85.89h0.86v0.86h-0.86zM482.99 86.08h0.86v0.86h-0.86zM483.28 86.37h0.86v0.86h-0.86zM483.56 86.76h0.86v0.86h-0.86zM483.85 87.14h0.86v0.86h-0.86zM484.14 87.53h0.86v0.86h-0.86zM484.43 87.92h0.86v0.86h-0.86zM484.72 88.31h0.86v0.86h-0.86zM485.01 88.69h0.86v0.86h-0.86zM485.29 89.08h0.86v0.86h-0.86zM485.58 89.47h0.86v0.86h-0.86zM485.87 89.85h0.86v0.86h-0.86zM486.16 90.24h0.86v0.86h-0.86zM486.45 90.63h0.86v0.86h-0.86zM486.74 91.02h0.86v0.86h-0.86zM487.03 91.40h0.86v0.86h-0.86zM487.31 91.79h0.86v0.86h-0.86zM487.60 92.18h0.86v0.86h-0.86zM487.89 92.56h0.86v0.86h-0.86zM488.18 92.95h0.86v0.86h-0.86zM488.47 93.34h0.86v0.86h-0.86zM488.76 93.73h0.86v0.86h-0.86zM489.04 94.09h0.86v0.86h-0.86zM489.33 94.43h0.86v0.86h-0.86zM489.62 94.77h0.86v0.86h-0.86zM489.91 95.11h0.86v0.86h-0.86zM490.20 95.46h0.86v0.86h-0.86zM490.49 95.80h0.86v0.86h-0.86zM490.77 96.14h0.86v0.86h-0.86zM491.06 96.48h0.86v0.86h-0.86zM491.35 96.82h0.86v0.86h-0.86zM491.64 97.16h0.86v0.86h-0.86zM491.93 97.50h0.86v0.86h-0.86zM492.22 97.85h0.86v0.86h-0.86zM492.50 98.19h0.86v0.86h-0.86zM492.79 98.53h0.86v0.86h-0.86zM493.08 98.87h0.86v0.86h-0.86zM493.37 99.21h0.86v0.86h-0.86zM493.66 99.55h0.86v0.86h-0.86zM493.95 99.89h0.86v0.86h-0.86zM494.24 100.15h0.86v0.86h-0.86zM494.52 100.40h0.86v0.86h-0.86zM494.81 100.66h0.86v0.86h-0.86zM495.10 100.91h0.86v0.86h-0.86zM495.39 101.17h0.86v0.86h-0.86zM495.68 101.42h0.86v0.86h-0.86zM495.97 101.67h0.86v0.86h-0.86zM496.25 101.93h0.86v0.86h-0.86zM496.54 102.18h0.86v0.86h-0.86zM496.83 102.44h0.86v0.86h-0.86zM497.12 102.69h0.86v0.86h-0.86zM497.41 102.95h0.86v0.86h-0.86zM497.70 103.20h0.86v0.86h-0.86zM497.98 103.46h0.86v0.86h-0.86zM498.27 103.71h0.86v0.86h-0.86zM498.56 103.96h0.86v0.86h-0.86zM498.85 104.22h0.86v0.86h-0.86zM499.14 104.47h0.86v0.86h-0.86zM499.43 104.73h0.86v0.86h-0.86zM499.71 104.98h0.86v0.86h-0.86zM500.00 105.14h0.86v0.86h-0.86zM500.29 105.30h0.86v0.86h-0.86zM500.58 105.46h0.86v0.86h-0.86zM500.87 105.62h0.86v0.86h-0.86zM501.16 105.78h0.86v0.86h-0.86zM501.45 105.94h0.86v0.86h-0.86zM501.73 106.10h0.86v0.86h-0.86zM502.02 106.26h0.86v0.86h-0.86zM502.31 106.42h0.86v0.86h-0.86zM502.60 106.58h0.86v0.86h-0.86zM502.89 106.73h0.86v0.86h-0.86zM503.18 106.89h0.86v0.86h-0.86zM503.46 107.05h0.86v0.86h-0.86zM503.75 107.21h0.86v0.86h-0.86zM504.04 107.37h0.86v0.86h-0.86zM504.33 107.53h0.86v0.86h-0.86zM504.62 107.69h0.86v0.86h-0.86zM504.91 107.85h0.86v0.86h-0.86zM505.19 108.01h0.86v0.86h-0.86zM505.48 108.17h0.86v0.86h-0.86zM505.77 108.33h0.86v0.86h-0.86zM506.06 108.49h0.86v0.86h-0.86zM506.35 108.65h0.86v0.86h-0.86zM506.64 108.81h0.86v0.86h-0.86zM506.92 108.96h0.86v0.86h-0.86zM507.21 109.04h0.86v0.86h-0.86zM507.50 109.12h0.86v0.86h-0.86zM507.79 109.20h0.86v0.86h-0.86zM508.08 109.28h0.86v0.86h-0.86zM508.37 109.36h0.86v0.86h-0.86zM508.66 109.44h0.86v0.86h-0.86zM508.94 109.52h0.86v0.86h-0.86zM509.23 109.60h0.86v0.86h-0.86zM509.52 109.68h0.86v0.86h-0.86zM509.81 109.76h0.86v0.86h-0.86zM510.10 109.84h0.86v0.86h-0.86zM510.39 109.92h0.86v0.86h-0.86zM510.67 110.00h0.86v0.86h-0.86zM510.96 110.08h0.86v0.86h-0.86zM511.25 110.16h0.86v0.86h-0.86zM511.54 110.24h0.86v0.86h-0.86zM511.83 110.32h0.86v0.86h-0.86zM512.12 110.40h0.86v0.86h-0.86zM512.40 110.48h0.86v0.86h-0.86zM512.69 110.56h0.86v0.86h-0.86zM512.98 110.64h0.86v0.86h-0.86zM513.27 110.72h0.86v0.86h-0.86zM513.56 110.80h0.86v0.86h-0.86zM513.85 110.88h0.86v0.86h-0.86zM514.13 110.96h0.86v0.86h-0.86zM514.42 110.95h0.86v0.86h-0.86zM514.71 110.94h0.86v0.86h-0.86zM515.00 110.93h0.86v0.86h-0.86zM515.29 110.92h0.86v0.86h-0.86zM515.58 110.91h0.86v0.86h-0.86zM515.87 110.90h0.86v0.86h-0.86zM516.15 110.89h0.86v0.86h-0.86zM516.44 110.89h0.86v0.86h-0.86zM516.73 110.88h0.86v0.86h-0.86zM517.02 110.87h0.86v0.86h-0.86zM517.31 110.86h0.86v0.86h-0.86zM517.60 110.85h0.86v0.86h-0.86zM517.88 110.84h0.86v0.86h-0.86zM518.17 110.83h0.86v0.86h-0.86zM518.46 110.82h0.86v0.86h-0.86zM518.75 110.81h0.86v0.86h-0.86zM519.04 110.81h0.86v0.86h-0.86zM519.33 110.80h0.86v0.86h-0.86zM519.61 110.79h0.86v0.86h-0.86zM519.90 110.78h0.86v0.86h-0.86zM520.19 110.77h0.86v0.86h-0.86zM520.48 110.76h0.86v0.86h-0.86zM520.77 110.75h0.86v0.86h-0.86zM521.06 110.74h0.86v0.86h-0.86zM521.34 110.74h0.86v0.86h-0.86zM521.63 110.90h0.86v0.86h-0.86zM521.92 111.07h0.86v0.86h-0.86zM522.21 111.24h0.86v0.86h-0.86zM522.50 111.41h0.86v0.86h-0.86zM522.79 111.58h0.86v0.86h-0.86zM523.08 111.74h0.86v0.86h-0.86zM523.36 111.91h0.86v0.86h-0.86zM523.65 112.08h0.86v0.86h-0.86zM523.94 112.25h0.86v0.86h-0.86zM524.23 112.42h0.86v0.86h-0.86zM524.52 112.58h0.86v0.86h-0.86zM524.81 112.75h0.86v0.86h-0.86zM525.09 112.92h0.86v0.86h-0.86zM525.38 113.09h0.86v0.86h-0.86zM525.67 113.26h0.86v0.86h-0.86zM525.96 113.43h0.86v0.86h-0.86zM526.25 113.59h0.86v0.86h-0.86zM526.54 113.76h0.86v0.86h-0.86zM526.82 113.93h0.86v0.86h-0.86zM527.11 114.10h0.86v0.86h-0.86zM527.40 114.27h0.86v0.86h-0.86zM527.69 114.43h0.86v0.86h-0.86zM527.98 114.60h0.86v0.86h-0.86zM528.27 114.77h0.86v0.86h-0.86zM528.55 114.94h0.86v0.86h-0.86zM528.84 115.20h0.86v0.86h-0.86zM529.13 115.45h0.86v0.86h-0.86zM529.42 115.71h0.86v0.86h-0.86zM529.71 115.97h0.86v0.86h-0.86zM530.00 116.23h0.86v0.86h-0.86zM530.29 116.49h0.86v0.86h-0.86zM530.57 116.75h0.86v0.86h-0.86zM530.86 117.00h0.86v0.86h-0.86zM531.15 117.26h0.86v0.86h-0.86zM531.44 117.52h0.86v0.86h-0.86zM531.73 117.78h0.86v0.86h-0.86zM532.02 118.04h0.86v0.86h-0.86zM532.30 118.29h0.86v0.86h-0.86zM532.59 118.55h0.86v0.86h-0.86zM532.88 118.81h0.86v0.86h-0.86zM533.17 119.07h0.86v0.86h-0.86zM533.46 119.33h0.86v0.86h-0.86zM533.75 119.58h0.86v0.86h-0.86zM534.03 119.84h0.86v0.86h-0.86zM534.32 120.10h0.86v0.86h-0.86zM534.61 120.36h0.86v0.86h-0.86zM534.90 120.62h0.86v0.86h-0.86zM535.19 120.88h0.86v0.86h-0.86zM535.48 121.13h0.86v0.86h-0.86zM535.76 121.39h0.86v0.86h-0.86zM536.05 121.65h0.86v0.86h-0.86zM536.34 121.91h0.86v0.86h-0.86zM536.63 122.17h0.86v0.86h-0.86zM536.92 122.42h0.86v0.86h-0.86zM537.21 122.68h0.86v0.86h-0.86zM537.50 122.09h0.86v0.86h-0.86zM537.78 121.50h0.86v0.86h-0.86zM538.07 120.91h0.86v0.86h-0.86zM538.36 120.32h0.86v0.86h-0.86zM538.65 119.73h0.86v0.86h-0.86zM538.94 119.14h0.86v0.86h-0.86zM539.23 118.55h0.86v0.86h-0.86z" fill="#df5f2a"/>
<path d="M405.89 101.52h1.06v1.06h-1.06zM406.79 103.97h1.06v1.06h-1.06zM407.69 101.13h1.06v1.06h-1.06zM408.59 101.51h1.06v1.06h-1.06zM409.49 107.01h1.06v1.06h-1.06zM410.39 108.54h1.06v1.06h-1.06zM411.29 109.64h1.06v1.06h-1.06zM412.19 111.20h1.06v1.06h-1.06zM413.09 103.74h1.06v1.06h-1.06zM414.00 102.64h1.06v1.06h-1.06zM414.90 102.99h1.06v1.06h-1.06zM415.80 99.79h1.06v1.06h-1.06zM416.70 96.13h1.06v1.06h-1.06zM417.60 99.60h1.06v1.06h-1.06zM418.50 101.49h1.06v1.06h-1.06zM419.40 105.84h1.06v1.06h-1.06zM420.30 103.78h1.06v1.06h-1.06zM421.21 103.53h1.06v1.06h-1.06zM422.11 102.12h1.06v1.06h-1.06zM423.01 104.60h1.06v1.06h-1.06zM423.91 97.17h1.06v1.06h-1.06zM424.81 99.60h1.06v1.06h-1.06zM425.71 100.12h1.06v1.06h-1.06zM426.61 94.76h1.06v1.06h-1.06zM427.51 98.34h1.06v1.06h-1.06zM428.42 100.58h1.06v1.06h-1.06zM429.32 97.95h1.06v1.06h-1.06zM430.22 101.14h1.06v1.06h-1.06zM431.12 93.94h1.06v1.06h-1.06zM432.02 96.03h1.06v1.06h-1.06zM432.92 95.85h1.06v1.06h-1.06zM433.82 91.41h1.06v1.06h-1.06zM434.72 96.00h1.06v1.06h-1.06zM435.63 90.82h1.06v1.06h-1.06zM436.53 95.17h1.06v1.06h-1.06zM437.43 91.54h1.06v1.06h-1.06zM438.33 91.79h1.06v1.06h-1.06zM439.23 85.79h1.06v1.06h-1.06zM440.13 84.50h1.06v1.06h-1.06zM441.03 87.98h1.06v1.06h-1.06zM441.93 84.96h1.06v1.06h-1.06zM442.84 85.81h1.06v1.06h-1.06zM443.74 81.21h1.06v1.06h-1.06zM444.64 80.73h1.06v1.06h-1.06zM445.54 79.52h1.06v1.06h-1.06zM446.44 80.82h1.06v1.06h-1.06zM447.34 77.57h1.06v1.06h-1.06zM448.24 74.96h1.06v1.06h-1.06zM449.14 80.01h1.06v1.06h-1.06zM450.05 78.27h1.06v1.06h-1.06zM450.95 70.10h1.06v1.06h-1.06zM451.85 70.12h1.06v1.06h-1.06zM452.75 67.07h1.06v1.06h-1.06zM453.65 64.00h1.06v1.06h-1.06zM454.55 62.00h1.06v1.06h-1.06zM455.45 59.59h1.06v1.06h-1.06zM456.35 59.06h1.06v1.06h-1.06zM457.26 53.41h1.06v1.06h-1.06zM458.16 56.67h1.06v1.06h-1.06zM459.06 56.18h1.06v1.06h-1.06zM459.96 61.37h1.06v1.06h-1.06zM460.86 66.64h1.06v1.06h-1.06zM461.76 65.26h1.06v1.06h-1.06zM462.66 63.89h1.06v1.06h-1.06zM463.56 70.25h1.06v1.06h-1.06zM464.47 69.87h1.06v1.06h-1.06zM465.37 69.09h1.06v1.06h-1.06zM466.27 67.42h1.06v1.06h-1.06zM467.17 64.55h1.06v1.06h-1.06zM468.07 66.53h1.06v1.06h-1.06zM468.97 61.43h1.06v1.06h-1.06zM469.87 65.21h1.06v1.06h-1.06zM470.77 64.66h1.06v1.06h-1.06zM471.68 62.61h1.06v1.06h-1.06zM472.58 64.55h1.06v1.06h-1.06zM473.48 70.04h1.06v1.06h-1.06zM474.38 71.03h1.06v1.06h-1.06zM475.28 74.38h1.06v1.06h-1.06zM476.18 80.38h1.06v1.06h-1.06zM477.08 87.68h1.06v1.06h-1.06zM477.98 86.99h1.06v1.06h-1.06zM478.89 85.13h1.06v1.06h-1.06zM479.79 84.70h1.06v1.06h-1.06zM480.69 85.98h1.06v1.06h-1.06zM481.59 83.15h1.06v1.06h-1.06zM482.49 81.72h1.06v1.06h-1.06zM483.39 78.93h1.06v1.06h-1.06zM484.29 73.54h1.06v1.06h-1.06zM485.19 70.86h1.06v1.06h-1.06zM486.10 75.34h1.06v1.06h-1.06zM487.00 78.35h1.06v1.06h-1.06zM487.90 80.86h1.06v1.06h-1.06zM488.80 84.99h1.06v1.06h-1.06zM489.70 86.50h1.06v1.06h-1.06zM490.60 89.08h1.06v1.06h-1.06zM491.50 89.23h1.06v1.06h-1.06zM492.40 86.00h1.06v1.06h-1.06zM493.31 90.71h1.06v1.06h-1.06zM494.21 95.05h1.06v1.06h-1.06zM495.11 97.25h1.06v1.06h-1.06zM496.01 99.97h1.06v1.06h-1.06zM496.91 99.71h1.06v1.06h-1.06zM497.81 101.89h1.06v1.06h-1.06zM498.71 107.76h1.06v1.06h-1.06zM499.61 106.13h1.06v1.06h-1.06zM500.52 109.34h1.06v1.06h-1.06zM501.42 106.47h1.06v1.06h-1.06zM502.32 110.10h1.06v1.06h-1.06zM503.22 108.10h1.06v1.06h-1.06zM504.12 112.57h1.06v1.06h-1.06zM505.02 112.37h1.06v1.06h-1.06zM505.92 111.34h1.06v1.06h-1.06zM506.82 109.97h1.06v1.06h-1.06zM507.73 111.08h1.06v1.06h-1.06zM508.63 114.81h1.06v1.06h-1.06zM509.53 112.12h1.06v1.06h-1.06zM510.43 112.58h1.06v1.06h-1.06zM511.33 113.07h1.06v1.06h-1.06zM512.23 113.09h1.06v1.06h-1.06zM513.13 107.90h1.06v1.06h-1.06zM514.03 111.74h1.06v1.06h-1.06zM514.94 112.24h1.06v1.06h-1.06zM515.84 108.87h1.06v1.06h-1.06zM516.74 109.46h1.06v1.06h-1.06zM517.64 109.46h1.06v1.06h-1.06zM518.54 108.03h1.06v1.06h-1.06zM519.44 108.89h1.06v1.06h-1.06zM520.34 109.42h1.06v1.06h-1.06zM521.24 108.49h1.06v1.06h-1.06zM522.15 110.13h1.06v1.06h-1.06zM523.05 112.20h1.06v1.06h-1.06zM523.95 111.96h1.06v1.06h-1.06zM524.85 112.56h1.06v1.06h-1.06zM525.75 110.27h1.06v1.06h-1.06zM526.65 112.01h1.06v1.06h-1.06zM527.55 112.68h1.06v1.06h-1.06zM528.45 108.03h1.06v1.06h-1.06zM529.36 111.69h1.06v1.06h-1.06zM530.26 113.75h1.06v1.06h-1.06zM531.16 109.95h1.06v1.06h-1.06zM532.06 112.94h1.06v1.06h-1.06zM532.96 110.37h1.06v1.06h-1.06zM533.86 112.25h1.06v1.06h-1.06zM534.76 113.26h1.06v1.06h-1.06zM535.66 113.33h1.06v1.06h-1.06zM536.57 110.78h1.06v1.06h-1.06zM537.47 109.19h1.06v1.06h-1.06zM538.37 109.18h1.06v1.06h-1.06zM539.27 106.99h1.06v1.06h-1.06z" fill="#3590d9"/>
<rect x="446.20" y="23.80" width="41.40" height="18.20" fill="#fff" stroke="#c8c8c8" stroke-width="0.6"/>
<circle cx="454.50" cy="28.60" r="0.55" fill="#2a8ad4"/>
<circle cx="454.50" cy="36.90" r="0.55" fill="#e0602a"/>
<text x="461.90" y="31.50" font-size="6.35" text-anchor="start" fill="#1a1a1a" stroke="#1a1a1a" stroke-width="0.08" >GNOS-II</text>
<text x="461.90" y="39.80" font-size="6.35" text-anchor="start" fill="#1a1a1a" stroke="#1a1a1a" stroke-width="0.08" >HWRF</text>
<text x="267.3" y="186.2" font-family="Liberation Serif, Times New Roman, serif" font-weight="bold" font-size="20" text-anchor="middle" fill="#111">(a)</text>
<text x="79.85" y="233.50" font-size="7.75" text-anchor="middle" fill="#000" stroke="#000" stroke-width="0.18" >GNOS-II</text>
<line x1="29.50" y1="236.50" x2="29.50" y2="351.80" stroke="#f0f0f0" stroke-width="0.5"/>
<line x1="55.00" y1="236.50" x2="55.00" y2="351.80" stroke="#f0f0f0" stroke-width="0.5"/>
<line x1="80.50" y1="236.50" x2="80.50" y2="351.80" stroke="#f0f0f0" stroke-width="0.5"/>
<line x1="106.00" y1="236.50" x2="106.00" y2="351.80" stroke="#f0f0f0" stroke-width="0.5"/>
<line x1="131.50" y1="236.50" x2="131.50" y2="351.80" stroke="#f0f0f0" stroke-width="0.5"/>
<line x1="22.70" y1="340.30" x2="137.00" y2="340.30" stroke="#f0f0f0" stroke-width="0.5"/>
<line x1="22.70" y1="314.80" x2="137.00" y2="314.80" stroke="#f0f0f0" stroke-width="0.5"/>
<line x1="22.70" y1="289.30" x2="137.00" y2="289.30" stroke="#f0f0f0" stroke-width="0.5"/>
<line x1="22.70" y1="263.80" x2="137.00" y2="263.80" stroke="#f0f0f0" stroke-width="0.5"/>
<line x1="22.70" y1="238.30" x2="137.00" y2="238.30" stroke="#f0f0f0" stroke-width="0.5"/>
<path d="M22.70 236.50V351.80H137.00" stroke="#d4d4d4" stroke-width="0.8" fill="none"/>
<text x="29.50" y="361.60" font-size="6.5" text-anchor="middle" fill="#262626" stroke="#262626" stroke-width="0.18" >144</text>
<text x="55.00" y="361.60" font-size="6.5" text-anchor="middle" fill="#262626" stroke="#262626" stroke-width="0.18" >146</text>
<text x="80.50" y="361.60" font-size="6.5" text-anchor="middle" fill="#262626" stroke="#262626" stroke-width="0.18" >148</text>
<text x="106.00" y="361.60" font-size="6.5" text-anchor="middle" fill="#262626" stroke="#262626" stroke-width="0.18" >150</text>
<text x="131.50" y="361.60" font-size="6.5" text-anchor="middle" fill="#262626" stroke="#262626" stroke-width="0.18" >152</text>
<text x="20.50" y="342.90" font-size="6.5" text-anchor="end" fill="#262626" stroke="#262626" stroke-width="0.18" >30</text>
<text x="20.50" y="317.40" font-size="6.5" text-anchor="end" fill="#262626" stroke="#262626" stroke-width="0.18" >32</text>
<text x="20.50" y="291.90" font-size="6.5" text-anchor="end" fill="#262626" stroke="#262626" stroke-width="0.18" >34</text>
<text x="20.50" y="266.40" font-size="6.5" text-anchor="end" fill="#262626" stroke="#262626" stroke-width="0.18" >36</text>
<text x="20.50" y="240.90" font-size="6.5" text-anchor="end" fill="#262626" stroke="#262626" stroke-width="0.18" >38</text>
<text x="79.85" y="372.40" font-size="7.75" text-anchor="middle" fill="#262626" stroke="#262626" stroke-width="0.18" >Longitude (deg)</text>
<text transform="translate(8.30 294.15) rotate(-90)" font-size="7.75" text-anchor="middle" fill="#262626" stroke="#262626" stroke-width="0.18">Latitude (deg)</text>
<g fill="none" stroke-width="2.5">
<path d="M29.10 273.70L38.50 242.90" stroke="#0000ff" stroke-linecap="round"/>
</g>
<g fill="none" stroke-width="2.5">
<path d="M28.80 344.00L57.30 242.90" stroke="#0000ef" stroke-linecap="round"/>
</g>
<g fill="none" stroke-width="2.5">
<path d="M32.10 345.30L44.00 301.10" stroke="#0000ef" stroke-linecap="round"/>
</g>
<g fill="none" stroke-width="2.5">
<path d="M64.00 346.10L70.27 324.00" stroke="#0030ff" stroke-linecap="round"/>
<path d="M70.16 324.38L71.00 321.44" stroke="#0040ff"/>
<path d="M70.89 321.83L71.72 318.89" stroke="#0050ff"/>
<path d="M71.61 319.27L72.08 317.61" stroke="#0060ff"/>
<path d="M71.98 318.00L72.81 315.06" stroke="#0070ff"/>
<path d="M72.70 315.44L73.53 312.50" stroke="#0080ff"/>
<path d="M73.42 312.89L74.26 309.95" stroke="#008fff"/>
<path d="M74.15 310.33L74.98 307.39" stroke="#009fff"/>
<path d="M74.88 307.77L75.71 304.84" stroke="#00afff"/>
<path d="M75.60 305.22L77.52 298.45" stroke="#00bfff"/>
<path d="M77.41 298.83L78.97 293.34" stroke="#00cfff"/>
<path d="M78.86 293.72L79.70 290.78" stroke="#00bfff"/>
<path d="M79.59 291.17L80.06 289.51" stroke="#00afff"/>
<path d="M79.95 289.89L80.78 286.95" stroke="#009fff"/>
<path d="M80.67 287.33L81.51 284.40" stroke="#008fff"/>
<path d="M81.40 284.78L81.87 283.12" stroke="#0080ff"/>
<path d="M81.76 283.50L82.60 280.56" stroke="#0070ff"/>
<path d="M82.49 280.95L83.68 276.73" stroke="#0060ff"/>
<path d="M83.58 277.11L85.50 270.34" stroke="#0050ff"/>
<path d="M85.39 270.73L87.31 263.96" stroke="#0040ff"/>
<path d="M87.20 264.34L93.00 243.90" stroke="#0030ff" stroke-linecap="round"/>
</g>
<g fill="none" stroke-width="2.5">
<path d="M76.30 335.30L76.73 333.80" stroke="#0040ff" stroke-linecap="round"/>
<path d="M76.63 334.15L78.05 329.19" stroke="#0050ff"/>
<path d="M77.95 329.54L79.37 324.58" stroke="#0060ff"/>
<path d="M79.27 324.93L79.70 323.43" stroke="#0070ff"/>
<path d="M79.60 323.77L80.03 322.28" stroke="#0080ff"/>
<path d="M79.93 322.62L80.36 321.12" stroke="#009fff"/>
<path d="M80.26 321.47L80.69 319.97" stroke="#00bfff"/>
<path d="M80.59 320.32L81.35 317.67" stroke="#00cfff"/>
<path d="M81.25 318.01L82.34 314.21" stroke="#00dfff"/>
<path d="M82.24 314.56L83.00 311.90" stroke="#00efff"/>
<path d="M82.90 312.25L83.33 310.75" stroke="#00ffff"/>
<path d="M83.23 311.10L83.66 309.60" stroke="#10ffef"/>
<path d="M83.56 309.94L83.99 308.45" stroke="#20ffdf"/>
<path d="M83.89 308.79L84.32 307.29" stroke="#40ffbf"/>
<path d="M84.22 307.64L84.65 306.14" stroke="#50ffaf"/>
<path d="M84.55 306.49L84.98 304.99" stroke="#60ff9f"/>
<path d="M84.88 305.34L85.31 303.84" stroke="#80ff80"/>
<path d="M85.21 304.18L85.64 302.68" stroke="#9fff60"/>
<path d="M85.54 303.03L85.97 301.53" stroke="#bfff40"/>
<path d="M85.87 301.88L86.30 300.38" stroke="#dfff20"/>
<path d="M86.20 300.73L86.63 299.23" stroke="#ffff00"/>
<path d="M86.53 299.57L87.29 296.92" stroke="#ffdf00"/>
<path d="M87.19 297.27L87.62 295.77" stroke="#ffef00"/>
<path d="M87.52 296.11L87.95 294.62" stroke="#ffff00"/>
<path d="M87.85 294.96L88.28 293.46" stroke="#ff8f00"/>
<path d="M88.18 293.81L88.61 292.31" stroke="#ff4000"/>
<path d="M88.51 292.66L88.94 291.16" stroke="#ff8f00"/>
<path d="M88.84 291.50L89.27 290.01" stroke="#ffcf00"/>
<path d="M89.17 290.35L89.60 288.85" stroke="#ffff00"/>
<path d="M89.50 289.20L89.93 287.70" stroke="#cfff30"/>
<path d="M89.83 288.05L90.26 286.55" stroke="#9fff60"/>
<path d="M90.16 286.90L90.59 285.40" stroke="#80ff80"/>
<path d="M90.49 285.74L90.92 284.24" stroke="#60ff9f"/>
<path d="M90.82 284.59L91.25 283.09" stroke="#40ffbf"/>
<path d="M91.15 283.44L91.58 281.94" stroke="#30ffcf"/>
<path d="M91.48 282.29L91.91 280.79" stroke="#20ffdf"/>
<path d="M91.81 281.13L92.24 279.63" stroke="#00ffff"/>
<path d="M92.14 279.98L93.23 276.18" stroke="#00efff"/>
<path d="M93.13 276.52L93.89 273.87" stroke="#00dfff"/>
<path d="M93.79 274.22L94.88 270.41" stroke="#00cfff"/>
<path d="M94.78 270.76L95.54 268.11" stroke="#00bfff"/>
<path d="M95.44 268.46L96.20 265.80" stroke="#00afff"/>
<path d="M96.10 266.15L96.86 263.50" stroke="#009fff"/>
<path d="M96.76 263.84L97.52 261.19" stroke="#008fff"/>
<path d="M97.42 261.54L100.16 251.97" stroke="#0080ff"/>
<path d="M100.06 252.32L102.70 243.10" stroke="#0070ff" stroke-linecap="round"/>
</g>
<linearGradient id="cbB1" x1="0" y1="0" x2="0" y2="1"><stop offset="0.0000" stop-color="#800000"/><stop offset="0.0312" stop-color="#9f0000"/><stop offset="0.0625" stop-color="#bf0000"/><stop offset="0.0938" stop-color="#df0000"/><stop offset="0.1250" stop-color="#ff0000"/><stop offset="0.1562" stop-color="#ff2000"/><stop offset="0.1875" stop-color="#ff4000"/><stop offset="0.2188" stop-color="#ff6000"/><stop offset="0.2500" stop-color="#ff8000"/><stop offset="0.2812" stop-color="#ff9f00"/><stop offset="0.3125" stop-color="#ffbf00"/><stop offset="0.3438" stop-color="#ffdf00"/><stop offset="0.3750" stop-color="#ffff00"/><stop offset="0.4062" stop-color="#dfff20"/><stop offset="0.4375" stop-color="#bfff40"/><stop offset="0.4688" stop-color="#9fff60"/><stop offset="0.5000" stop-color="#80ff80"/><stop offset="0.5312" stop-color="#60ff9f"/><stop offset="0.5625" stop-color="#40ffbf"/><stop offset="0.5938" stop-color="#20ffdf"/><stop offset="0.6250" stop-color="#00ffff"/><stop offset="0.6562" stop-color="#00dfff"/><stop offset="0.6875" stop-color="#00bfff"/><stop offset="0.7188" stop-color="#009fff"/><stop offset="0.7500" stop-color="#0080ff"/><stop offset="0.7812" stop-color="#0060ff"/><stop offset="0.8125" stop-color="#0040ff"/><stop offset="0.8438" stop-color="#0020ff"/><stop offset="0.8750" stop-color="#0000ff"/><stop offset="0.9062" stop-color="#0000df"/><stop offset="0.9375" stop-color="#0000bf"/><stop offset="0.9688" stop-color="#00009f"/><stop offset="1.0000" stop-color="#000080"/></linearGradient>
<rect x="141.50" y="236.70" width="7.40" height="115.10" fill="url(#cbB1)"/>
<text x="151.20" y="340.64" font-size="6.5" text-anchor="start" fill="#262626" stroke="#262626" stroke-width="0.18" >5</text>
<text x="151.20" y="326.16" font-size="6.5" text-anchor="start" fill="#262626" stroke="#262626" stroke-width="0.18" >10</text>
<text x="151.20" y="311.68" font-size="6.5" text-anchor="start" fill="#262626" stroke="#262626" stroke-width="0.18" >15</text>
<text x="151.20" y="297.20" font-size="6.5" text-anchor="start" fill="#262626" stroke="#262626" stroke-width="0.18" >20</text>
<text x="151.20" y="282.72" font-size="6.5" text-anchor="start" fill="#262626" stroke="#262626" stroke-width="0.18" >25</text>
<text x="151.20" y="268.25" font-size="6.5" text-anchor="start" fill="#262626" stroke="#262626" stroke-width="0.18" >30</text>
<text x="151.20" y="253.77" font-size="6.5" text-anchor="start" fill="#262626" stroke="#262626" stroke-width="0.18" >35</text>
<text x="145.20" y="233.00" font-size="6.5" text-anchor="middle" fill="#262626" stroke="#262626" stroke-width="0.18" >m/s</text>
<clipPath id="clipB"><rect x="211.60" y="236.60" width="115.10" height="114.80"/></clipPath>
<g clip-path="url(#clipB)">
<rect x="211.60" y="236.60" width="115.10" height="114.80" fill="#004dff"/>
<path fill="#0040ff" d="M211.56 236.10H231.20V239.42H211.56z"/>
<path fill="#0030ff" d="M230.60 236.10H236.64V239.42H230.60z"/>
<path fill="#0020ff" d="M236.04 236.10H250.24V239.42H236.04z"/>
<path fill="#0030ff" d="M249.64 236.10H252.96V239.42H249.64z"/>
<path fill="#0040ff" d="M252.36 236.10H255.68V239.42H252.36z"/>
<path fill="#0050ff" d="M255.08 236.10H261.12V239.42H255.08z"/>
<path fill="#0060ff" d="M260.52 236.10H269.28V239.42H260.52z"/>
<path fill="#0070ff" d="M268.68 236.10H310.08V239.42H268.68z"/>
<path fill="#0060ff" d="M309.48 236.10H329.12V239.42H309.48z"/>
<path fill="#0040ff" d="M211.56 238.82H228.48V242.14H211.56z"/>
<path fill="#0030ff" d="M227.88 238.82H233.92V242.14H227.88z"/>
<path fill="#0020ff" d="M233.32 238.82H239.36V242.14H233.32z"/>
<path fill="#0010ff" d="M238.76 238.82H244.80V242.14H238.76z"/>
<path fill="#0020ff" d="M244.20 238.82H247.52V242.14H244.20z"/>
<path fill="#0030ff" d="M246.92 238.82H250.24V242.14H246.92z"/>
<path fill="#0040ff" d="M249.64 238.82H252.96V242.14H249.64z"/>
<path fill="#0050ff" d="M252.36 238.82H255.68V242.14H252.36z"/>
<path fill="#0060ff" d="M255.08 238.82H261.12V242.14H255.08z"/>
<path fill="#0070ff" d="M260.52 238.82H272.00V242.14H260.52z"/>
<path fill="#0080ff" d="M271.40 238.82H304.64V242.14H271.40z"/>
<path fill="#0070ff" d="M304.04 238.82H323.68V242.14H304.04z"/>
<path fill="#0060ff" d="M323.08 238.82H329.12V242.14H323.08z"/>
<path fill="#0040ff" d="M211.56 241.54H225.76V244.86H211.56z"/>
<path fill="#0030ff" d="M225.16 241.54H231.20V244.86H225.16z"/>
<path fill="#0020ff" d="M230.60 241.54H233.92V244.86H230.60z"/>
<path fill="#0010ff" d="M233.32 241.54H236.64V244.86H233.32z"/>
<path fill="#0000ff" d="M236.04 241.54H242.08V244.86H236.04z"/>
<path fill="#0010ff" d="M241.48 241.54H244.80V244.86H241.48z"/>
<path fill="#0020ff" d="M244.20 241.54H247.52V244.86H244.20z"/>
<path fill="#0030ff" d="M246.92 241.54H250.24V244.86H246.92z"/>
<path fill="#0050ff" d="M249.64 241.54H252.96V244.86H249.64z"/>
<path fill="#0060ff" d="M252.36 241.54H255.68V244.86H252.36z"/>
<path fill="#0070ff" d="M255.08 241.54H261.12V244.86H255.08z"/>
<path fill="#0080ff" d="M260.52 241.54H272.00V244.86H260.52z"/>
<path fill="#008fff" d="M271.40 241.54H282.88V244.86H271.40z"/>
<path fill="#0080ff" d="M282.28 241.54H293.76V244.86H282.28z"/>
<path fill="#008fff" d="M293.16 241.54H299.20V244.86H293.16z"/>
<path fill="#0080ff" d="M298.60 241.54H320.96V244.86H298.60z"/>
<path fill="#0070ff" d="M320.36 241.54H329.12V244.86H320.36z"/>
<path fill="#0040ff" d="M211.56 244.26H223.04V247.58H211.56z"/>
<path fill="#0030ff" d="M222.44 244.26H228.48V247.58H222.44z"/>
<path fill="#0020ff" d="M227.88 244.26H231.20V247.58H227.88z"/>
<path fill="#0010ff" d="M230.60 244.26H233.92V247.58H230.60z"/>
<path fill="#0000ff" d="M233.32 244.26H236.64V247.58H233.32z"/>
<path fill="#0000ef" d="M236.04 244.26H239.36V247.58H236.04z"/>
<path fill="#0000ff" d="M238.76 244.26H242.08V247.58H238.76z"/>
<path fill="#0010ff" d="M241.48 244.26H244.80V247.58H241.48z"/>
<path fill="#0020ff" d="M244.20 244.26H247.52V247.58H244.20z"/>
<path fill="#0040ff" d="M246.92 244.26H250.24V247.58H246.92z"/>
<path fill="#0060ff" d="M249.64 244.26H252.96V247.58H249.64z"/>
<path fill="#0070ff" d="M252.36 244.26H255.68V247.58H252.36z"/>
<path fill="#0080ff" d="M255.08 244.26H261.12V247.58H255.08z"/>
<path fill="#008fff" d="M260.52 244.26H318.24V247.58H260.52z"/>
<path fill="#0080ff" d="M317.64 244.26H326.40V247.58H317.64z"/>
<path fill="#0070ff" d="M325.80 244.26H329.12V247.58H325.80z"/>
<path fill="#0040ff" d="M211.56 246.98H220.32V250.30H211.56z"/>
<path fill="#0030ff" d="M219.72 246.98H225.76V250.30H219.72z"/>
<path fill="#0020ff" d="M225.16 246.98H228.48V250.30H225.16z"/>
<path fill="#0010ff" d="M227.88 246.98H231.20V250.30H227.88z"/>
<path fill="#0000ef" d="M230.60 246.98H233.92V250.30H230.60z"/>
<path fill="#0000df" d="M233.32 246.98H239.36V250.30H233.32z"/>
<path fill="#0000ef" d="M238.76 246.98H242.08V250.30H238.76z"/>
<path fill="#0010ff" d="M241.48 246.98H244.80V250.30H241.48z"/>
<path fill="#0030ff" d="M244.20 246.98H247.52V250.30H244.20z"/>
<path fill="#0050ff" d="M246.92 246.98H250.24V250.30H246.92z"/>
<path fill="#0070ff" d="M249.64 246.98H252.96V250.30H249.64z"/>
<path fill="#0080ff" d="M252.36 246.98H255.68V250.30H252.36z"/>
<path fill="#008fff" d="M255.08 246.98H261.12V250.30H255.08z"/>
<path fill="#009fff" d="M260.52 246.98H315.52V250.30H260.52z"/>
<path fill="#008fff" d="M314.92 246.98H323.68V250.30H314.92z"/>
<path fill="#0080ff" d="M323.08 246.98H329.12V250.30H323.08z"/>
<path fill="#0040ff" d="M211.56 249.70H217.60V253.02H211.56z"/>
<path fill="#0030ff" d="M217.00 249.70H223.04V253.02H217.00z"/>
<path fill="#0020ff" d="M222.44 249.70H225.76V253.02H222.44z"/>
<path fill="#0000ff" d="M225.16 249.70H228.48V253.02H225.16z"/>
<path fill="#0000ef" d="M227.88 249.70H231.20V253.02H227.88z"/>
<path fill="#0000df" d="M230.60 249.70H233.92V253.02H230.60z"/>
<path fill="#0000cf" d="M233.32 249.70H236.64V253.02H233.32z"/>
<path fill="#0000df" d="M236.04 249.70H239.36V253.02H236.04z"/>
<path fill="#0000ef" d="M238.76 249.70H242.08V253.02H238.76z"/>
<path fill="#0010ff" d="M241.48 249.70H244.80V253.02H241.48z"/>
<path fill="#0040ff" d="M244.20 249.70H247.52V253.02H244.20z"/>
<path fill="#0060ff" d="M246.92 249.70H250.24V253.02H246.92z"/>
<path fill="#0070ff" d="M249.64 249.70H252.96V253.02H249.64z"/>
<path fill="#008fff" d="M252.36 249.70H258.40V253.02H252.36z"/>
<path fill="#009fff" d="M257.80 249.70H293.76V253.02H257.80z"/>
<path fill="#00afff" d="M293.16 249.70H312.80V253.02H293.16z"/>
<path fill="#009fff" d="M312.20 249.70H323.68V253.02H312.20z"/>
<path fill="#008fff" d="M323.08 249.70H329.12V253.02H323.08z"/>
<path fill="#0040ff" d="M211.56 252.42H217.60V255.74H211.56z"/>
<path fill="#0030ff" d="M217.00 252.42H220.32V255.74H217.00z"/>
<path fill="#0020ff" d="M219.72 252.42H223.04V255.74H219.72z"/>
<path fill="#0010ff" d="M222.44 252.42H225.76V255.74H222.44z"/>
<path fill="#0000ef" d="M225.16 252.42H228.48V255.74H225.16z"/>
<path fill="#0000cf" d="M227.88 252.42H231.20V255.74H227.88z"/>
<path fill="#0000bf" d="M230.60 252.42H236.64V255.74H230.60z"/>
<path fill="#0000cf" d="M236.04 252.42H239.36V255.74H236.04z"/>
<path fill="#0000ff" d="M238.76 252.42H242.08V255.74H238.76z"/>
<path fill="#0020ff" d="M241.48 252.42H244.80V255.74H241.48z"/>
<path fill="#0050ff" d="M244.20 252.42H247.52V255.74H244.20z"/>
<path fill="#0070ff" d="M246.92 252.42H250.24V255.74H246.92z"/>
<path fill="#0080ff" d="M249.64 252.42H252.96V255.74H249.64z"/>
<path fill="#008fff" d="M252.36 252.42H258.40V255.74H252.36z"/>
<path fill="#009fff" d="M257.80 252.42H288.32V255.74H257.80z"/>
<path fill="#00afff" d="M287.72 252.42H299.20V255.74H287.72z"/>
<path fill="#00bfff" d="M298.60 252.42H310.08V255.74H298.60z"/>
<path fill="#00afff" d="M309.48 252.42H320.96V255.74H309.48z"/>
<path fill="#009fff" d="M320.36 252.42H326.40V255.74H320.36z"/>
<path fill="#008fff" d="M325.80 252.42H329.12V255.74H325.80z"/>
<path fill="#0040ff" d="M211.56 255.14H214.88V258.46H211.56z"/>
<path fill="#0030ff" d="M214.28 255.14H217.60V258.46H214.28z"/>
<path fill="#0020ff" d="M217.00 255.14H220.32V258.46H217.00z"/>
<path fill="#0010ff" d="M219.72 255.14H223.04V258.46H219.72z"/>
<path fill="#0000ef" d="M222.44 255.14H225.76V258.46H222.44z"/>
<path fill="#0000cf" d="M225.16 255.14H228.48V258.46H225.16z"/>
<path fill="#0000af" d="M227.88 255.14H233.92V258.46H227.88z"/>
<path fill="#0000bf" d="M233.32 255.14H236.64V258.46H233.32z"/>
<path fill="#0000df" d="M236.04 255.14H239.36V258.46H236.04z"/>
<path fill="#0000ff" d="M238.76 255.14H242.08V258.46H238.76z"/>
<path fill="#0030ff" d="M241.48 255.14H244.80V258.46H241.48z"/>
<path fill="#0050ff" d="M244.20 255.14H247.52V258.46H244.20z"/>
<path fill="#0070ff" d="M246.92 255.14H250.24V258.46H246.92z"/>
<path fill="#0080ff" d="M249.64 255.14H252.96V258.46H249.64z"/>
<path fill="#008fff" d="M252.36 255.14H261.12V258.46H252.36z"/>
<path fill="#009fff" d="M260.52 255.14H285.60V258.46H260.52z"/>
<path fill="#00afff" d="M285.00 255.14H293.76V258.46H285.00z"/>
<path fill="#00bfff" d="M293.16 255.14H318.24V258.46H293.16z"/>
<path fill="#00afff" d="M317.64 255.14H326.40V258.46H317.64z"/>
<path fill="#009fff" d="M325.80 255.14H329.12V258.46H325.80z"/>
<path fill="#0030ff" d="M211.56 257.86H214.88V261.18H211.56z"/>
<path fill="#0020ff" d="M214.28 257.86H217.60V261.18H214.28z"/>
<path fill="#0010ff" d="M217.00 257.86H220.32V261.18H217.00z"/>
<path fill="#0000ef" d="M219.72 257.86H223.04V261.18H219.72z"/>
<path fill="#0000cf" d="M222.44 257.86H225.76V261.18H222.44z"/>
<path fill="#0000af" d="M225.16 257.86H228.48V261.18H225.16z"/>
<path fill="#00009f" d="M227.88 257.86H233.92V261.18H227.88z"/>
<path fill="#0000bf" d="M233.32 257.86H236.64V261.18H233.32z"/>
<path fill="#0000df" d="M236.04 257.86H239.36V261.18H236.04z"/>
<path fill="#0010ff" d="M238.76 257.86H242.08V261.18H238.76z"/>
<path fill="#0040ff" d="M241.48 257.86H244.80V261.18H241.48z"/>
<path fill="#0060ff" d="M244.20 257.86H247.52V261.18H244.20z"/>
<path fill="#0070ff" d="M246.92 257.86H250.24V261.18H246.92z"/>
<path fill="#0080ff" d="M249.64 257.86H252.96V261.18H249.64z"/>
<path fill="#008fff" d="M252.36 257.86H269.28V261.18H252.36z"/>
<path fill="#009fff" d="M268.68 257.86H285.60V261.18H268.68z"/>
<path fill="#00afff" d="M285.00 257.86H291.04V261.18H285.00z"/>
<path fill="#00bfff" d="M290.44 257.86H299.20V261.18H290.44z"/>
<path fill="#00cfff" d="M298.60 257.86H312.80V261.18H298.60z"/>
<path fill="#00bfff" d="M312.20 257.86H323.68V261.18H312.20z"/>
<path fill="#00afff" d="M323.08 257.86H326.40V261.18H323.08z"/>
<path fill="#009fff" d="M325.80 257.86H329.12V261.18H325.80z"/>
<path fill="#0030ff" d="M211.56 260.58H214.88V263.90H211.56z"/>
<path fill="#0020ff" d="M214.28 260.58H217.60V263.90H214.28z"/>
<path fill="#0000ff" d="M217.00 260.58H220.32V263.90H217.00z"/>
<path fill="#0000df" d="M219.72 260.58H223.04V263.90H219.72z"/>
<path fill="#0000af" d="M222.44 260.58H225.76V263.90H222.44z"/>
<path fill="#00009f" d="M225.16 260.58H228.48V263.90H225.16z"/>
<path fill="#00008f" d="M227.88 260.58H231.20V263.90H227.88z"/>
<path fill="#0000af" d="M230.60 260.58H233.92V263.90H230.60z"/>
<path fill="#0000cf" d="M233.32 260.58H236.64V263.90H233.32z"/>
<path fill="#0000ff" d="M236.04 260.58H239.36V263.90H236.04z"/>
<path fill="#0020ff" d="M238.76 260.58H242.08V263.90H238.76z"/>
<path fill="#0050ff" d="M241.48 260.58H244.80V263.90H241.48z"/>
<path fill="#0060ff" d="M244.20 260.58H247.52V263.90H244.20z"/>
<path fill="#0070ff" d="M246.92 260.58H250.24V263.90H246.92z"/>
<path fill="#0080ff" d="M249.64 260.58H258.40V263.90H249.64z"/>
<path fill="#008fff" d="M257.80 260.58H272.00V263.90H257.80z"/>
<path fill="#009fff" d="M271.40 260.58H282.88V263.90H271.40z"/>
<path fill="#00afff" d="M282.28 260.58H291.04V263.90H282.28z"/>
<path fill="#00bfff" d="M290.44 260.58H296.48V263.90H290.44z"/>
<path fill="#00cfff" d="M295.88 260.58H318.24V263.90H295.88z"/>
<path fill="#00bfff" d="M317.64 260.58H326.40V263.90H317.64z"/>
<path fill="#00afff" d="M325.80 260.58H329.12V263.90H325.80z"/>
<path fill="#0020ff" d="M211.56 263.30H214.88V266.62H211.56z"/>
<path fill="#0000ff" d="M214.28 263.30H217.60V266.62H214.28z"/>
<path fill="#0000df" d="M217.00 263.30H220.32V266.62H217.00z"/>
<path fill="#0000bf" d="M219.72 263.30H223.04V266.62H219.72z"/>
<path fill="#00009f" d="M222.44 263.30H225.76V266.62H222.44z"/>
<path fill="#00008f" d="M225.16 263.30H228.48V266.62H225.16z"/>
<path fill="#00009f" d="M227.88 263.30H231.20V266.62H227.88z"/>
<path fill="#0000bf" d="M230.60 263.30H233.92V266.62H230.60z"/>
<path fill="#0000df" d="M233.32 263.30H236.64V266.62H233.32z"/>
<path fill="#0010ff" d="M236.04 263.30H239.36V266.62H236.04z"/>
<path fill="#0030ff" d="M238.76 263.30H242.08V266.62H238.76z"/>
<path fill="#0050ff" d="M241.48 263.30H244.80V266.62H241.48z"/>
<path fill="#0060ff" d="M244.20 263.30H247.52V266.62H244.20z"/>
<path fill="#0070ff" d="M246.92 263.30H250.24V266.62H246.92z"/>
<path fill="#0080ff" d="M249.64 263.30H261.12V266.62H249.64z"/>
<path fill="#008fff" d="M260.52 263.30H272.00V266.62H260.52z"/>
<path fill="#009fff" d="M271.40 263.30H280.16V266.62H271.40z"/>
<path fill="#00afff" d="M279.56 263.30H288.32V266.62H279.56z"/>
<path fill="#00bfff" d="M287.72 263.30H293.76V266.62H287.72z"/>
<path fill="#00cfff" d="M293.16 263.30H320.96V266.62H293.16z"/>
<path fill="#00bfff" d="M320.36 263.30H326.40V266.62H320.36z"/>
<path fill="#00afff" d="M325.80 263.30H329.12V266.62H325.80z"/>
<path fill="#0010ff" d="M211.56 266.02H214.88V269.34H211.56z"/>
<path fill="#0000ef" d="M214.28 266.02H217.60V269.34H214.28z"/>
<path fill="#0000cf" d="M217.00 266.02H220.32V269.34H217.00z"/>
<path fill="#0000af" d="M219.72 266.02H223.04V269.34H219.72z"/>
<path fill="#00009f" d="M222.44 266.02H228.48V269.34H222.44z"/>
<path fill="#0000af" d="M227.88 266.02H231.20V269.34H227.88z"/>
<path fill="#0000cf" d="M230.60 266.02H233.92V269.34H230.60z"/>
<path fill="#0000ff" d="M233.32 266.02H236.64V269.34H233.32z"/>
<path fill="#0020ff" d="M236.04 266.02H239.36V269.34H236.04z"/>
<path fill="#0040ff" d="M238.76 266.02H242.08V269.34H238.76z"/>
<path fill="#0060ff" d="M241.48 266.02H247.52V269.34H241.48z"/>
<path fill="#0070ff" d="M246.92 266.02H252.96V269.34H246.92z"/>
<path fill="#0080ff" d="M252.36 266.02H261.12V269.34H252.36z"/>
<path fill="#008fff" d="M260.52 266.02H269.28V269.34H260.52z"/>
<path fill="#009fff" d="M268.68 266.02H277.44V269.34H268.68z"/>
<path fill="#00afff" d="M276.84 266.02H285.60V269.34H276.84z"/>
<path fill="#00bfff" d="M285.00 266.02H291.04V269.34H285.00z"/>
<path fill="#00cfff" d="M290.44 266.02H301.92V269.34H290.44z"/>
<path fill="#00dfff" d="M301.32 266.02H304.64V269.34H301.32z"/>
<path fill="#00cfff" d="M304.04 266.02H323.68V269.34H304.04z"/>
<path fill="#00bfff" d="M323.08 266.02H329.12V269.34H323.08z"/>
<path fill="#0000ff" d="M211.56 268.74H214.88V272.06H211.56z"/>
<path fill="#0000df" d="M214.28 268.74H217.60V272.06H214.28z"/>
<path fill="#0000bf" d="M217.00 268.74H220.32V272.06H217.00z"/>
<path fill="#0000af" d="M219.72 268.74H223.04V272.06H219.72z"/>
<path fill="#00009f" d="M222.44 268.74H225.76V272.06H222.44z"/>
<path fill="#0000af" d="M225.16 268.74H228.48V272.06H225.16z"/>
<path fill="#0000cf" d="M227.88 268.74H231.20V272.06H227.88z"/>
<path fill="#0000ef" d="M230.60 268.74H233.92V272.06H230.60z"/>
<path fill="#0020ff" d="M233.32 268.74H236.64V272.06H233.32z"/>
<path fill="#0040ff" d="M236.04 268.74H239.36V272.06H236.04z"/>
<path fill="#0050ff" d="M238.76 268.74H242.08V272.06H238.76z"/>
<path fill="#0060ff" d="M241.48 268.74H244.80V272.06H241.48z"/>
<path fill="#0070ff" d="M244.20 268.74H252.96V272.06H244.20z"/>
<path fill="#0080ff" d="M252.36 268.74H258.40V272.06H252.36z"/>
<path fill="#008fff" d="M257.80 268.74H266.56V272.06H257.80z"/>
<path fill="#009fff" d="M265.96 268.74H274.72V272.06H265.96z"/>
<path fill="#00afff" d="M274.12 268.74H280.16V272.06H274.12z"/>
<path fill="#00bfff" d="M279.56 268.74H288.32V272.06H279.56z"/>
<path fill="#00cfff" d="M287.72 268.74H296.48V272.06H287.72z"/>
<path fill="#00dfff" d="M295.88 268.74H307.36V272.06H295.88z"/>
<path fill="#00cfff" d="M306.76 268.74H326.40V272.06H306.76z"/>
<path fill="#00bfff" d="M325.80 268.74H329.12V272.06H325.80z"/>
<path fill="#0000ff" d="M211.56 271.46H214.88V274.78H211.56z"/>
<path fill="#0000df" d="M214.28 271.46H217.60V274.78H214.28z"/>
<path fill="#0000bf" d="M217.00 271.46H220.32V274.78H217.00z"/>
<path fill="#0000af" d="M219.72 271.46H223.04V274.78H219.72z"/>
<path fill="#0000bf" d="M222.44 271.46H225.76V274.78H222.44z"/>
<path fill="#0000cf" d="M225.16 271.46H228.48V274.78H225.16z"/>
<path fill="#0000ef" d="M227.88 271.46H231.20V274.78H227.88z"/>
<path fill="#0010ff" d="M230.60 271.46H233.92V274.78H230.60z"/>
<path fill="#0030ff" d="M233.32 271.46H236.64V274.78H233.32z"/>
<path fill="#0040ff" d="M236.04 271.46H239.36V274.78H236.04z"/>
<path fill="#0050ff" d="M238.76 271.46H242.08V274.78H238.76z"/>
<path fill="#0060ff" d="M241.48 271.46H244.80V274.78H241.48z"/>
<path fill="#0070ff" d="M244.20 271.46H250.24V274.78H244.20z"/>
<path fill="#0080ff" d="M249.64 271.46H258.40V274.78H249.64z"/>
<path fill="#008fff" d="M257.80 271.46H263.84V274.78H257.80z"/>
<path fill="#009fff" d="M263.24 271.46H269.28V274.78H263.24z"/>
<path fill="#00afff" d="M268.68 271.46H274.72V274.78H268.68z"/>
<path fill="#00bfff" d="M274.12 271.46H282.88V274.78H274.12z"/>
<path fill="#00cfff" d="M282.28 271.46H291.04V274.78H282.28z"/>
<path fill="#00dfff" d="M290.44 271.46H310.08V274.78H290.44z"/>
<path fill="#00cfff" d="M309.48 271.46H326.40V274.78H309.48z"/>
<path fill="#00bfff" d="M325.80 271.46H329.12V274.78H325.80z"/>
<path fill="#0000ef" d="M211.56 274.18H214.88V277.50H211.56z"/>
<path fill="#0000df" d="M214.28 274.18H217.60V277.50H214.28z"/>
<path fill="#0000cf" d="M217.00 274.18H225.76V277.50H217.00z"/>
<path fill="#0000ef" d="M225.16 274.18H228.48V277.50H225.16z"/>
<path fill="#0010ff" d="M227.88 274.18H231.20V277.50H227.88z"/>
<path fill="#0030ff" d="M230.60 274.18H233.92V277.50H230.60z"/>
<path fill="#0040ff" d="M233.32 274.18H236.64V277.50H233.32z"/>
<path fill="#0050ff" d="M236.04 274.18H239.36V277.50H236.04z"/>
<path fill="#0060ff" d="M238.76 274.18H244.80V277.50H238.76z"/>
<path fill="#0070ff" d="M244.20 274.18H250.24V277.50H244.20z"/>
<path fill="#0080ff" d="M249.64 274.18H255.68V277.50H249.64z"/>
<path fill="#008fff" d="M255.08 274.18H261.12V277.50H255.08z"/>
<path fill="#009fff" d="M260.52 274.18H266.56V277.50H260.52z"/>
<path fill="#00afff" d="M265.96 274.18H272.00V277.50H265.96z"/>
<path fill="#00bfff" d="M271.40 274.18H274.72V277.50H271.40z"/>
<path fill="#00cfff" d="M274.12 274.18H280.16V277.50H274.12z"/>
<path fill="#00dfff" d="M279.56 274.18H293.76V277.50H279.56z"/>
<path fill="#00efff" d="M293.16 274.18H296.48V277.50H293.16z"/>
<path fill="#00dfff" d="M295.88 274.18H323.68V277.50H295.88z"/>
<path fill="#00cfff" d="M323.08 274.18H329.12V277.50H323.08z"/>
<path fill="#0000ef" d="M211.56 276.90H214.88V280.22H211.56z"/>
<path fill="#0000df" d="M214.28 276.90H223.04V280.22H214.28z"/>
<path fill="#0000ef" d="M222.44 276.90H225.76V280.22H222.44z"/>
<path fill="#0010ff" d="M225.16 276.90H228.48V280.22H225.16z"/>
<path fill="#0020ff" d="M227.88 276.90H231.20V280.22H227.88z"/>
<path fill="#0040ff" d="M230.60 276.90H233.92V280.22H230.60z"/>
<path fill="#0050ff" d="M233.32 276.90H236.64V280.22H233.32z"/>
<path fill="#0060ff" d="M236.04 276.90H242.08V280.22H236.04z"/>
<path fill="#0070ff" d="M241.48 276.90H250.24V280.22H241.48z"/>
<path fill="#0080ff" d="M249.64 276.90H255.68V280.22H249.64z"/>
<path fill="#008fff" d="M255.08 276.90H258.40V280.22H255.08z"/>
<path fill="#009fff" d="M257.80 276.90H263.84V280.22H257.80z"/>
<path fill="#00afff" d="M263.24 276.90H266.56V280.22H263.24z"/>
<path fill="#00bfff" d="M265.96 276.90H272.00V280.22H265.96z"/>
<path fill="#00cfff" d="M271.40 276.90H274.72V280.22H271.40z"/>
<path fill="#00dfff" d="M274.12 276.90H280.16V280.22H274.12z"/>
<path fill="#00efff" d="M279.56 276.90H288.32V280.22H279.56z"/>
<path fill="#00ffff" d="M287.72 276.90H293.76V280.22H287.72z"/>
<path fill="#00efff" d="M293.16 276.90H304.64V280.22H293.16z"/>
<path fill="#00dfff" d="M304.04 276.90H326.40V280.22H304.04z"/>
<path fill="#00cfff" d="M325.80 276.90H329.12V280.22H325.80z"/>
<path fill="#0000ff" d="M211.56 279.62H214.88V282.94H211.56z"/>
<path fill="#0000ef" d="M214.28 279.62H220.32V282.94H214.28z"/>
<path fill="#0000ff" d="M219.72 279.62H223.04V282.94H219.72z"/>
<path fill="#0010ff" d="M222.44 279.62H225.76V282.94H222.44z"/>
<path fill="#0020ff" d="M225.16 279.62H228.48V282.94H225.16z"/>
<path fill="#0040ff" d="M227.88 279.62H231.20V282.94H227.88z"/>
<path fill="#0050ff" d="M230.60 279.62H236.64V282.94H230.60z"/>
<path fill="#0060ff" d="M236.04 279.62H242.08V282.94H236.04z"/>
<path fill="#0070ff" d="M241.48 279.62H247.52V282.94H241.48z"/>
<path fill="#0080ff" d="M246.92 279.62H252.96V282.94H246.92z"/>
<path fill="#008fff" d="M252.36 279.62H258.40V282.94H252.36z"/>
<path fill="#009fff" d="M257.80 279.62H261.12V282.94H257.80z"/>
<path fill="#00afff" d="M260.52 279.62H263.84V282.94H260.52z"/>
<path fill="#00bfff" d="M263.24 279.62H266.56V282.94H263.24z"/>
<path fill="#00cfff" d="M265.96 279.62H269.28V282.94H265.96z"/>
<path fill="#00dfff" d="M268.68 279.62H272.00V282.94H268.68z"/>
<path fill="#00efff" d="M271.40 279.62H274.72V282.94H271.40z"/>
<path fill="#00ffff" d="M274.12 279.62H280.16V282.94H274.12z"/>
<path fill="#10ffef" d="M279.56 279.62H296.48V282.94H279.56z"/>
<path fill="#00ffff" d="M295.88 279.62H301.92V282.94H295.88z"/>
<path fill="#00efff" d="M301.32 279.62H310.08V282.94H301.32z"/>
<path fill="#00dfff" d="M309.48 279.62H329.12V282.94H309.48z"/>
<path fill="#0000ff" d="M211.56 282.34H217.60V285.66H211.56z"/>
<path fill="#0010ff" d="M217.00 282.34H223.04V285.66H217.00z"/>
<path fill="#0020ff" d="M222.44 282.34H225.76V285.66H222.44z"/>
<path fill="#0030ff" d="M225.16 282.34H228.48V285.66H225.16z"/>
<path fill="#0040ff" d="M227.88 282.34H231.20V285.66H227.88z"/>
<path fill="#0050ff" d="M230.60 282.34H233.92V285.66H230.60z"/>
<path fill="#0060ff" d="M233.32 282.34H242.08V285.66H233.32z"/>
<path fill="#0070ff" d="M241.48 282.34H247.52V285.66H241.48z"/>
<path fill="#0080ff" d="M246.92 282.34H252.96V285.66H246.92z"/>
<path fill="#008fff" d="M252.36 282.34H255.68V285.66H252.36z"/>
<path fill="#009fff" d="M255.08 282.34H258.40V285.66H255.08z"/>
<path fill="#00afff" d="M257.80 282.34H263.84V285.66H257.80z"/>
<path fill="#00cfff" d="M263.24 282.34H266.56V285.66H263.24z"/>
<path fill="#00dfff" d="M265.96 282.34H269.28V285.66H265.96z"/>
<path fill="#00efff" d="M268.68 282.34H272.00V285.66H268.68z"/>
<path fill="#10ffef" d="M271.40 282.34H274.72V285.66H271.40z"/>
<path fill="#20ffdf" d="M274.12 282.34H277.44V285.66H274.12z"/>
<path fill="#30ffcf" d="M276.84 282.34H280.16V285.66H276.84z"/>
<path fill="#40ffbf" d="M279.56 282.34H288.32V285.66H279.56z"/>
<path fill="#30ffcf" d="M287.72 282.34H293.76V285.66H287.72z"/>
<path fill="#20ffdf" d="M293.16 282.34H296.48V285.66H293.16z"/>
<path fill="#10ffef" d="M295.88 282.34H301.92V285.66H295.88z"/>
<path fill="#00ffff" d="M301.32 282.34H307.36V285.66H301.32z"/>
<path fill="#00efff" d="M306.76 282.34H323.68V285.66H306.76z"/>
<path fill="#00dfff" d="M323.08 282.34H329.12V285.66H323.08z"/>
<path fill="#0010ff" d="M211.56 285.06H217.60V288.38H211.56z"/>
<path fill="#0020ff" d="M217.00 285.06H220.32V288.38H217.00z"/>
<path fill="#0030ff" d="M219.72 285.06H225.76V288.38H219.72z"/>
<path fill="#0040ff" d="M225.16 285.06H228.48V288.38H225.16z"/>
<path fill="#0050ff" d="M227.88 285.06H233.92V288.38H227.88z"/>
<path fill="#0060ff" d="M233.32 285.06H242.08V288.38H233.32z"/>
<path fill="#0070ff" d="M241.48 285.06H247.52V288.38H241.48z"/>
<path fill="#0080ff" d="M246.92 285.06H252.96V288.38H246.92z"/>
<path fill="#008fff" d="M252.36 285.06H255.68V288.38H252.36z"/>
<path fill="#009fff" d="M255.08 285.06H258.40V288.38H255.08z"/>
<path fill="#00afff" d="M257.80 285.06H261.12V288.38H257.80z"/>
<path fill="#00bfff" d="M260.52 285.06H263.84V288.38H260.52z"/>
<path fill="#00cfff" d="M263.24 285.06H266.56V288.38H263.24z"/>
<path fill="#00efff" d="M265.96 285.06H269.28V288.38H265.96z"/>
<path fill="#10ffef" d="M268.68 285.06H272.00V288.38H268.68z"/>
<path fill="#30ffcf" d="M271.40 285.06H274.72V288.38H271.40z"/>
<path fill="#50ffaf" d="M274.12 285.06H277.44V288.38H274.12z"/>
<path fill="#70ff8f" d="M276.84 285.06H280.16V288.38H276.84z"/>
<path fill="#80ff80" d="M279.56 285.06H285.60V288.38H279.56z"/>
<path fill="#70ff8f" d="M285.00 285.06H288.32V288.38H285.00z"/>
<path fill="#60ff9f" d="M287.72 285.06H291.04V288.38H287.72z"/>
<path fill="#50ffaf" d="M290.44 285.06H293.76V288.38H290.44z"/>
<path fill="#40ffbf" d="M293.16 285.06H296.48V288.38H293.16z"/>
<path fill="#30ffcf" d="M295.88 285.06H299.20V288.38H295.88z"/>
<path fill="#20ffdf" d="M298.60 285.06H301.92V288.38H298.60z"/>
<path fill="#10ffef" d="M301.32 285.06H304.64V288.38H301.32z"/>
<path fill="#00ffff" d="M304.04 285.06H310.08V288.38H304.04z"/>
<path fill="#00efff" d="M309.48 285.06H326.40V288.38H309.48z"/>
<path fill="#00dfff" d="M325.80 285.06H329.12V288.38H325.80z"/>
<path fill="#0020ff" d="M211.56 287.78H217.60V291.10H211.56z"/>
<path fill="#0030ff" d="M217.00 287.78H223.04V291.10H217.00z"/>
<path fill="#0040ff" d="M222.44 287.78H225.76V291.10H222.44z"/>
<path fill="#0050ff" d="M225.16 287.78H233.92V291.10H225.16z"/>
<path fill="#0060ff" d="M233.32 287.78H242.08V291.10H233.32z"/>
<path fill="#0070ff" d="M241.48 287.78H247.52V291.10H241.48z"/>
<path fill="#0080ff" d="M246.92 287.78H250.24V291.10H246.92z"/>
<path fill="#008fff" d="M249.64 287.78H255.68V291.10H249.64z"/>
<path fill="#009fff" d="M255.08 287.78H258.40V291.10H255.08z"/>
<path fill="#00afff" d="M257.80 287.78H261.12V291.10H257.80z"/>
<path fill="#00cfff" d="M260.52 287.78H263.84V291.10H260.52z"/>
<path fill="#00dfff" d="M263.24 287.78H266.56V291.10H263.24z"/>
<path fill="#00ffff" d="M265.96 287.78H269.28V291.10H265.96z"/>
<path fill="#30ffcf" d="M268.68 287.78H272.00V291.10H268.68z"/>
<path fill="#ffcf00" d="M271.40 287.78H274.72V291.10H271.40z"/>
<path fill="#ffaf00" d="M274.12 287.78H277.44V291.10H274.12z"/>
<path fill="#ffcf00" d="M276.84 287.78H280.16V291.10H276.84z"/>
<path fill="#ff9f00" d="M279.56 287.78H282.88V291.10H279.56z"/>
<path fill="#ffaf00" d="M282.28 287.78H285.60V291.10H282.28z"/>
<path fill="#ffbf00" d="M285.00 287.78H288.32V291.10H285.00z"/>
<path fill="#80ff80" d="M287.72 287.78H291.04V291.10H287.72z"/>
<path fill="#70ff8f" d="M290.44 287.78H293.76V291.10H290.44z"/>
<path fill="#50ffaf" d="M293.16 287.78H296.48V291.10H293.16z"/>
<path fill="#40ffbf" d="M295.88 287.78H299.20V291.10H295.88z"/>
<path fill="#30ffcf" d="M298.60 287.78H301.92V291.10H298.60z"/>
<path fill="#20ffdf" d="M301.32 287.78H304.64V291.10H301.32z"/>
<path fill="#10ffef" d="M304.04 287.78H307.36V291.10H304.04z"/>
<path fill="#00ffff" d="M306.76 287.78H315.52V291.10H306.76z"/>
<path fill="#00efff" d="M314.92 287.78H326.40V291.10H314.92z"/>
<path fill="#00dfff" d="M325.80 287.78H329.12V291.10H325.80z"/>
<path fill="#0030ff" d="M211.56 290.50H220.32V293.82H211.56z"/>
<path fill="#0040ff" d="M219.72 290.50H225.76V293.82H219.72z"/>
<path fill="#0050ff" d="M225.16 290.50H233.92V293.82H225.16z"/>
<path fill="#0060ff" d="M233.32 290.50H242.08V293.82H233.32z"/>
<path fill="#0070ff" d="M241.48 290.50H247.52V293.82H241.48z"/>
<path fill="#0080ff" d="M246.92 290.50H250.24V293.82H246.92z"/>
<path fill="#008fff" d="M249.64 290.50H255.68V293.82H249.64z"/>
<path fill="#009fff" d="M255.08 290.50H258.40V293.82H255.08z"/>
<path fill="#00bfff" d="M257.80 290.50H261.12V293.82H257.80z"/>
<path fill="#00cfff" d="M260.52 290.50H263.84V293.82H260.52z"/>
<path fill="#00efff" d="M263.24 290.50H266.56V293.82H263.24z"/>
<path fill="#20ffdf" d="M265.96 290.50H269.28V293.82H265.96z"/>
<path fill="#ffcf00" d="M268.68 290.50H272.00V293.82H268.68z"/>
<path fill="#ff5000" d="M271.40 290.50H274.72V293.82H271.40z"/>
<path fill="#8f0000" d="M274.12 290.50H277.44V293.82H274.12z"/>
<path fill="#ffaf00" d="M276.84 290.50H280.16V293.82H276.84z"/>
<path fill="#ff7000" d="M279.56 290.50H282.88V293.82H279.56z"/>
<path fill="#ff9f00" d="M282.28 290.50H285.60V293.82H282.28z"/>
<path fill="#ffbf00" d="M285.00 290.50H288.32V293.82H285.00z"/>
<path fill="#afff50" d="M287.72 290.50H291.04V293.82H287.72z"/>
<path fill="#8fff70" d="M290.44 290.50H293.76V293.82H290.44z"/>
<path fill="#70ff8f" d="M293.16 290.50H296.48V293.82H293.16z"/>
<path fill="#50ffaf" d="M295.88 290.50H299.20V293.82H295.88z"/>
<path fill="#40ffbf" d="M298.60 290.50H301.92V293.82H298.60z"/>
<path fill="#30ffcf" d="M301.32 290.50H304.64V293.82H301.32z"/>
<path fill="#20ffdf" d="M304.04 290.50H307.36V293.82H304.04z"/>
<path fill="#10ffef" d="M306.76 290.50H310.08V293.82H306.76z"/>
<path fill="#00ffff" d="M309.48 290.50H323.68V293.82H309.48z"/>
<path fill="#00efff" d="M323.08 290.50H329.12V293.82H323.08z"/>
<path fill="#0030ff" d="M211.56 293.22H217.60V296.54H211.56z"/>
<path fill="#0040ff" d="M217.00 293.22H225.76V296.54H217.00z"/>
<path fill="#0050ff" d="M225.16 293.22H233.92V296.54H225.16z"/>
<path fill="#0060ff" d="M233.32 293.22H242.08V296.54H233.32z"/>
<path fill="#0070ff" d="M241.48 293.22H247.52V296.54H241.48z"/>
<path fill="#0080ff" d="M246.92 293.22H250.24V296.54H246.92z"/>
<path fill="#008fff" d="M249.64 293.22H255.68V296.54H249.64z"/>
<path fill="#009fff" d="M255.08 293.22H258.40V296.54H255.08z"/>
<path fill="#00bfff" d="M257.80 293.22H261.12V296.54H257.80z"/>
<path fill="#00cfff" d="M260.52 293.22H263.84V296.54H260.52z"/>
<path fill="#00efff" d="M263.24 293.22H266.56V296.54H263.24z"/>
<path fill="#30ffcf" d="M265.96 293.22H269.28V296.54H265.96z"/>
<path fill="#ffbf00" d="M268.68 293.22H272.00V296.54H268.68z"/>
<path fill="#ff3000" d="M271.40 293.22H274.72V296.54H271.40z"/>
<path fill="#cf0000" d="M274.12 293.22H277.44V296.54H274.12z"/>
<path fill="#ef0000" d="M276.84 293.22H280.16V296.54H276.84z"/>
<path fill="#ff8000" d="M279.56 293.22H282.88V296.54H279.56z"/>
<path fill="#ffaf00" d="M282.28 293.22H285.60V296.54H282.28z"/>
<path fill="#efff10" d="M285.00 293.22H288.32V296.54H285.00z"/>
<path fill="#bfff40" d="M287.72 293.22H291.04V296.54H287.72z"/>
<path fill="#9fff60" d="M290.44 293.22H293.76V296.54H290.44z"/>
<path fill="#80ff80" d="M293.16 293.22H296.48V296.54H293.16z"/>
<path fill="#60ff9f" d="M295.88 293.22H299.20V296.54H295.88z"/>
<path fill="#50ffaf" d="M298.60 293.22H301.92V296.54H298.60z"/>
<path fill="#40ffbf" d="M301.32 293.22H304.64V296.54H301.32z"/>
<path fill="#20ffdf" d="M304.04 293.22H307.36V296.54H304.04z"/>
<path fill="#10ffef" d="M306.76 293.22H312.80V296.54H306.76z"/>
<path fill="#00ffff" d="M312.20 293.22H323.68V296.54H312.20z"/>
<path fill="#00efff" d="M323.08 293.22H329.12V296.54H323.08z"/>
<path fill="#0030ff" d="M211.56 295.94H214.88V299.26H211.56z"/>
<path fill="#0040ff" d="M214.28 295.94H225.76V299.26H214.28z"/>
<path fill="#0050ff" d="M225.16 295.94H233.92V299.26H225.16z"/>
<path fill="#0060ff" d="M233.32 295.94H242.08V299.26H233.32z"/>
<path fill="#0070ff" d="M241.48 295.94H247.52V299.26H241.48z"/>
<path fill="#0080ff" d="M246.92 295.94H250.24V299.26H246.92z"/>
<path fill="#008fff" d="M249.64 295.94H255.68V299.26H249.64z"/>
<path fill="#009fff" d="M255.08 295.94H258.40V299.26H255.08z"/>
<path fill="#00afff" d="M257.80 295.94H261.12V299.26H257.80z"/>
<path fill="#00cfff" d="M260.52 295.94H263.84V299.26H260.52z"/>
<path fill="#00efff" d="M263.24 295.94H266.56V299.26H263.24z"/>
<path fill="#30ffcf" d="M265.96 295.94H269.28V299.26H265.96z"/>
<path fill="#70ff8f" d="M268.68 295.94H272.00V299.26H268.68z"/>
<path fill="#ffbf00" d="M271.40 295.94H274.72V299.26H271.40z"/>
<path fill="#ffaf00" d="M274.12 295.94H277.44V299.26H274.12z"/>
<path fill="#ff9f00" d="M276.84 295.94H280.16V299.26H276.84z"/>
<path fill="#ffbf00" d="M279.56 295.94H282.88V299.26H279.56z"/>
<path fill="#ffef00" d="M282.28 295.94H285.60V299.26H282.28z"/>
<path fill="#efff10" d="M285.00 295.94H288.32V299.26H285.00z"/>
<path fill="#bfff40" d="M287.72 295.94H291.04V299.26H287.72z"/>
<path fill="#9fff60" d="M290.44 295.94H293.76V299.26H290.44z"/>
<path fill="#80ff80" d="M293.16 295.94H296.48V299.26H293.16z"/>
<path fill="#70ff8f" d="M295.88 295.94H299.20V299.26H295.88z"/>
<path fill="#50ffaf" d="M298.60 295.94H301.92V299.26H298.60z"/>
<path fill="#40ffbf" d="M301.32 295.94H304.64V299.26H301.32z"/>
<path fill="#30ffcf" d="M304.04 295.94H307.36V299.26H304.04z"/>
<path fill="#20ffdf" d="M306.76 295.94H310.08V299.26H306.76z"/>
<path fill="#10ffef" d="M309.48 295.94H312.80V299.26H309.48z"/>
<path fill="#00ffff" d="M312.20 295.94H323.68V299.26H312.20z"/>
<path fill="#00efff" d="M323.08 295.94H329.12V299.26H323.08z"/>
<path fill="#0040ff" d="M211.56 298.66H225.76V301.98H211.56z"/>
<path fill="#0050ff" d="M225.16 298.66H236.64V301.98H225.16z"/>
<path fill="#0060ff" d="M236.04 298.66H242.08V301.98H236.04z"/>
<path fill="#0070ff" d="M241.48 298.66H247.52V301.98H241.48z"/>
<path fill="#0080ff" d="M246.92 298.66H252.96V301.98H246.92z"/>
<path fill="#008fff" d="M252.36 298.66H255.68V301.98H252.36z"/>
<path fill="#009fff" d="M255.08 298.66H258.40V301.98H255.08z"/>
<path fill="#00afff" d="M257.80 298.66H261.12V301.98H257.80z"/>
<path fill="#00cfff" d="M260.52 298.66H263.84V301.98H260.52z"/>
<path fill="#00efff" d="M263.24 298.66H266.56V301.98H263.24z"/>
<path fill="#20ffdf" d="M265.96 298.66H269.28V301.98H265.96z"/>
<path fill="#70ff8f" d="M268.68 298.66H272.00V301.98H268.68z"/>
<path fill="#afff50" d="M271.40 298.66H274.72V301.98H271.40z"/>
<path fill="#dfff20" d="M274.12 298.66H277.44V301.98H274.12z"/>
<path fill="#ffff00" d="M276.84 298.66H282.88V301.98H276.84z"/>
<path fill="#efff10" d="M282.28 298.66H285.60V301.98H282.28z"/>
<path fill="#cfff30" d="M285.00 298.66H288.32V301.98H285.00z"/>
<path fill="#afff50" d="M287.72 298.66H291.04V301.98H287.72z"/>
<path fill="#9fff60" d="M290.44 298.66H293.76V301.98H290.44z"/>
<path fill="#80ff80" d="M293.16 298.66H296.48V301.98H293.16z"/>
<path fill="#70ff8f" d="M295.88 298.66H299.20V301.98H295.88z"/>
<path fill="#50ffaf" d="M298.60 298.66H301.92V301.98H298.60z"/>
<path fill="#40ffbf" d="M301.32 298.66H304.64V301.98H301.32z"/>
<path fill="#30ffcf" d="M304.04 298.66H307.36V301.98H304.04z"/>
<path fill="#20ffdf" d="M306.76 298.66H310.08V301.98H306.76z"/>
<path fill="#10ffef" d="M309.48 298.66H312.80V301.98H309.48z"/>
<path fill="#00ffff" d="M312.20 298.66H323.68V301.98H312.20z"/>
<path fill="#00efff" d="M323.08 298.66H326.40V301.98H323.08z"/>
<path fill="#00dfff" d="M325.80 298.66H329.12V301.98H325.80z"/>
<path fill="#0040ff" d="M211.56 301.38H228.48V304.70H211.56z"/>
<path fill="#0050ff" d="M227.88 301.38H236.64V304.70H227.88z"/>
<path fill="#0060ff" d="M236.04 301.38H244.80V304.70H236.04z"/>
<path fill="#0070ff" d="M244.20 301.38H247.52V304.70H244.20z"/>
<path fill="#0080ff" d="M246.92 301.38H252.96V304.70H246.92z"/>
<path fill="#008fff" d="M252.36 301.38H255.68V304.70H252.36z"/>
<path fill="#009fff" d="M255.08 301.38H258.40V304.70H255.08z"/>
<path fill="#00afff" d="M257.80 301.38H261.12V304.70H257.80z"/>
<path fill="#00bfff" d="M260.52 301.38H263.84V304.70H260.52z"/>
<path fill="#00dfff" d="M263.24 301.38H266.56V304.70H263.24z"/>
<path fill="#10ffef" d="M265.96 301.38H269.28V304.70H265.96z"/>
<path fill="#50ffaf" d="M268.68 301.38H272.00V304.70H268.68z"/>
<path fill="#8fff70" d="M271.40 301.38H274.72V304.70H271.40z"/>
<path fill="#afff50" d="M274.12 301.38H277.44V304.70H274.12z"/>
<path fill="#cfff30" d="M276.84 301.38H282.88V304.70H276.84z"/>
<path fill="#bfff40" d="M282.28 301.38H285.60V304.70H282.28z"/>
<path fill="#afff50" d="M285.00 301.38H288.32V304.70H285.00z"/>
<path fill="#8fff70" d="M287.72 301.38H291.04V304.70H287.72z"/>
<path fill="#80ff80" d="M290.44 301.38H293.76V304.70H290.44z"/>
<path fill="#70ff8f" d="M293.16 301.38H296.48V304.70H293.16z"/>
<path fill="#60ff9f" d="M295.88 301.38H299.20V304.70H295.88z"/>
<path fill="#50ffaf" d="M298.60 301.38H301.92V304.70H298.60z"/>
<path fill="#40ffbf" d="M301.32 301.38H304.64V304.70H301.32z"/>
<path fill="#20ffdf" d="M304.04 301.38H307.36V304.70H304.04z"/>
<path fill="#10ffef" d="M306.76 301.38H312.80V304.70H306.76z"/>
<path fill="#00ffff" d="M312.20 301.38H320.96V304.70H312.20z"/>
<path fill="#00efff" d="M320.36 301.38H326.40V304.70H320.36z"/>
<path fill="#00dfff" d="M325.80 301.38H329.12V304.70H325.80z"/>
<path fill="#0030ff" d="M211.56 304.10H214.88V307.42H211.56z"/>
<path fill="#0040ff" d="M214.28 304.10H231.20V307.42H214.28z"/>
<path fill="#0050ff" d="M230.60 304.10H239.36V307.42H230.60z"/>
<path fill="#0060ff" d="M238.76 304.10H244.80V307.42H238.76z"/>
<path fill="#0070ff" d="M244.20 304.10H250.24V307.42H244.20z"/>
<path fill="#0080ff" d="M249.64 304.10H252.96V307.42H249.64z"/>
<path fill="#008fff" d="M252.36 304.10H258.40V307.42H252.36z"/>
<path fill="#009fff" d="M257.80 304.10H261.12V307.42H257.80z"/>
<path fill="#00bfff" d="M260.52 304.10H263.84V307.42H260.52z"/>
<path fill="#00cfff" d="M263.24 304.10H266.56V307.42H263.24z"/>
<path fill="#00ffff" d="M265.96 304.10H269.28V307.42H265.96z"/>
<path fill="#30ffcf" d="M268.68 304.10H272.00V307.42H268.68z"/>
<path fill="#60ff9f" d="M271.40 304.10H274.72V307.42H271.40z"/>
<path fill="#80ff80" d="M274.12 304.10H277.44V307.42H274.12z"/>
<path fill="#8fff70" d="M276.84 304.10H282.88V307.42H276.84z"/>
<path fill="#80ff80" d="M282.28 304.10H288.32V307.42H282.28z"/>
<path fill="#70ff8f" d="M287.72 304.10H293.76V307.42H287.72z"/>
<path fill="#60ff9f" d="M293.16 304.10H296.48V307.42H293.16z"/>
<path fill="#50ffaf" d="M295.88 304.10H299.20V307.42H295.88z"/>
<path fill="#40ffbf" d="M298.60 304.10H301.92V307.42H298.60z"/>
<path fill="#30ffcf" d="M301.32 304.10H304.64V307.42H301.32z"/>
<path fill="#20ffdf" d="M304.04 304.10H307.36V307.42H304.04z"/>
<path fill="#10ffef" d="M306.76 304.10H310.08V307.42H306.76z"/>
<path fill="#00ffff" d="M309.48 304.10H315.52V307.42H309.48z"/>
<path fill="#00efff" d="M314.92 304.10H323.68V307.42H314.92z"/>
<path fill="#00dfff" d="M323.08 304.10H329.12V307.42H323.08z"/>
<path fill="#0030ff" d="M211.56 306.82H220.32V310.14H211.56z"/>
<path fill="#0040ff" d="M219.72 306.82H231.20V310.14H219.72z"/>
<path fill="#0050ff" d="M230.60 306.82H239.36V310.14H230.60z"/>
<path fill="#0060ff" d="M238.76 306.82H244.80V310.14H238.76z"/>
<path fill="#0070ff" d="M244.20 306.82H250.24V310.14H244.20z"/>
<path fill="#0080ff" d="M249.64 306.82H255.68V310.14H249.64z"/>
<path fill="#008fff" d="M255.08 306.82H258.40V310.14H255.08z"/>
<path fill="#009fff" d="M257.80 306.82H261.12V310.14H257.80z"/>
<path fill="#00afff" d="M260.52 306.82H263.84V310.14H260.52z"/>
<path fill="#00bfff" d="M263.24 306.82H266.56V310.14H263.24z"/>
<path fill="#00dfff" d="M265.96 306.82H269.28V310.14H265.96z"/>
<path fill="#00ffff" d="M268.68 306.82H272.00V310.14H268.68z"/>
<path fill="#20ffdf" d="M271.40 306.82H274.72V310.14H271.40z"/>
<path fill="#40ffbf" d="M274.12 306.82H277.44V310.14H274.12z"/>
<path fill="#50ffaf" d="M276.84 306.82H293.76V310.14H276.84z"/>
<path fill="#40ffbf" d="M293.16 306.82H296.48V310.14H293.16z"/>
<path fill="#30ffcf" d="M295.88 306.82H301.92V310.14H295.88z"/>
<path fill="#20ffdf" d="M301.32 306.82H304.64V310.14H301.32z"/>
<path fill="#10ffef" d="M304.04 306.82H307.36V310.14H304.04z"/>
<path fill="#00ffff" d="M306.76 306.82H310.08V310.14H306.76z"/>
<path fill="#00efff" d="M309.48 306.82H320.96V310.14H309.48z"/>
<path fill="#00dfff" d="M320.36 306.82H326.40V310.14H320.36z"/>
<path fill="#00cfff" d="M325.80 306.82H329.12V310.14H325.80z"/>
<path fill="#0030ff" d="M211.56 309.54H225.76V312.86H211.56z"/>
<path fill="#0040ff" d="M225.16 309.54H233.92V312.86H225.16z"/>
<path fill="#0050ff" d="M233.32 309.54H242.08V312.86H233.32z"/>
<path fill="#0060ff" d="M241.48 309.54H247.52V312.86H241.48z"/>
<path fill="#0070ff" d="M246.92 309.54H252.96V312.86H246.92z"/>
<path fill="#0080ff" d="M252.36 309.54H258.40V312.86H252.36z"/>
<path fill="#008fff" d="M257.80 309.54H261.12V312.86H257.80z"/>
<path fill="#009fff" d="M260.52 309.54H263.84V312.86H260.52z"/>
<path fill="#00afff" d="M263.24 309.54H266.56V312.86H263.24z"/>
<path fill="#00bfff" d="M265.96 309.54H269.28V312.86H265.96z"/>
<path fill="#00dfff" d="M268.68 309.54H272.00V312.86H268.68z"/>
<path fill="#00ffff" d="M271.40 309.54H274.72V312.86H271.40z"/>
<path fill="#10ffef" d="M274.12 309.54H277.44V312.86H274.12z"/>
<path fill="#20ffdf" d="M276.84 309.54H285.60V312.86H276.84z"/>
<path fill="#30ffcf" d="M285.00 309.54H293.76V312.86H285.00z"/>
<path fill="#20ffdf" d="M293.16 309.54H299.20V312.86H293.16z"/>
<path fill="#10ffef" d="M298.60 309.54H301.92V312.86H298.60z"/>
<path fill="#00ffff" d="M301.32 309.54H307.36V312.86H301.32z"/>
<path fill="#00efff" d="M306.76 309.54H312.80V312.86H306.76z"/>
<path fill="#00dfff" d="M312.20 309.54H323.68V312.86H312.20z"/>
<path fill="#00cfff" d="M323.08 309.54H329.12V312.86H323.08z"/>
<path fill="#0030ff" d="M211.56 312.26H228.48V315.58H211.56z"/>
<path fill="#0040ff" d="M227.88 312.26H236.64V315.58H227.88z"/>
<path fill="#0050ff" d="M236.04 312.26H242.08V315.58H236.04z"/>
<path fill="#0060ff" d="M241.48 312.26H250.24V315.58H241.48z"/>
<path fill="#0070ff" d="M249.64 312.26H255.68V315.58H249.64z"/>
<path fill="#0080ff" d="M255.08 312.26H258.40V315.58H255.08z"/>
<path fill="#008fff" d="M257.80 312.26H263.84V315.58H257.80z"/>
<path fill="#009fff" d="M263.24 312.26H266.56V315.58H263.24z"/>
<path fill="#00afff" d="M265.96 312.26H269.28V315.58H265.96z"/>
<path fill="#00bfff" d="M268.68 312.26H272.00V315.58H268.68z"/>
<path fill="#00cfff" d="M271.40 312.26H274.72V315.58H271.40z"/>
<path fill="#00dfff" d="M274.12 312.26H277.44V315.58H274.12z"/>
<path fill="#00efff" d="M276.84 312.26H280.16V315.58H276.84z"/>
<path fill="#00ffff" d="M279.56 312.26H288.32V315.58H279.56z"/>
<path fill="#10ffef" d="M287.72 312.26H293.76V315.58H287.72z"/>
<path fill="#00ffff" d="M293.16 312.26H301.92V315.58H293.16z"/>
<path fill="#00efff" d="M301.32 312.26H307.36V315.58H301.32z"/>
<path fill="#00dfff" d="M306.76 312.26H312.80V315.58H306.76z"/>
<path fill="#00cfff" d="M312.20 312.26H326.40V315.58H312.20z"/>
<path fill="#00bfff" d="M325.80 312.26H329.12V315.58H325.80z"/>
<path fill="#0030ff" d="M211.56 314.98H217.60V318.30H211.56z"/>
<path fill="#0020ff" d="M217.00 314.98H220.32V318.30H217.00z"/>
<path fill="#0030ff" d="M219.72 314.98H231.20V318.30H219.72z"/>
<path fill="#0040ff" d="M230.60 314.98H239.36V318.30H230.60z"/>
<path fill="#0050ff" d="M238.76 314.98H244.80V318.30H238.76z"/>
<path fill="#0060ff" d="M244.20 314.98H250.24V318.30H244.20z"/>
<path fill="#0070ff" d="M249.64 314.98H255.68V318.30H249.64z"/>
<path fill="#0080ff" d="M255.08 314.98H261.12V318.30H255.08z"/>
<path fill="#008fff" d="M260.52 314.98H266.56V318.30H260.52z"/>
<path fill="#009fff" d="M265.96 314.98H269.28V318.30H265.96z"/>
<path fill="#00afff" d="M268.68 314.98H272.00V318.30H268.68z"/>
<path fill="#00bfff" d="M271.40 314.98H277.44V318.30H271.40z"/>
<path fill="#00cfff" d="M276.84 314.98H280.16V318.30H276.84z"/>
<path fill="#00dfff" d="M279.56 314.98H288.32V318.30H279.56z"/>
<path fill="#00efff" d="M287.72 314.98H296.48V318.30H287.72z"/>
<path fill="#00dfff" d="M295.88 314.98H304.64V318.30H295.88z"/>
<path fill="#00cfff" d="M304.04 314.98H315.52V318.30H304.04z"/>
<path fill="#00bfff" d="M314.92 314.98H326.40V318.30H314.92z"/>
<path fill="#00afff" d="M325.80 314.98H329.12V318.30H325.80z"/>
<path fill="#0020ff" d="M211.56 317.70H225.76V321.02H211.56z"/>
<path fill="#0030ff" d="M225.16 317.70H233.92V321.02H225.16z"/>
<path fill="#0040ff" d="M233.32 317.70H239.36V321.02H233.32z"/>
<path fill="#0050ff" d="M238.76 317.70H247.52V321.02H238.76z"/>
<path fill="#0060ff" d="M246.92 317.70H252.96V321.02H246.92z"/>
<path fill="#0070ff" d="M252.36 317.70H258.40V321.02H252.36z"/>
<path fill="#0080ff" d="M257.80 317.70H263.84V321.02H257.80z"/>
<path fill="#008fff" d="M263.24 317.70H269.28V321.02H263.24z"/>
<path fill="#009fff" d="M268.68 317.70H274.72V321.02H268.68z"/>
<path fill="#00afff" d="M274.12 317.70H280.16V321.02H274.12z"/>
<path fill="#00bfff" d="M279.56 317.70H285.60V321.02H279.56z"/>
<path fill="#00cfff" d="M285.00 317.70H304.64V321.02H285.00z"/>
<path fill="#00bfff" d="M304.04 317.70H320.96V321.02H304.04z"/>
<path fill="#00afff" d="M320.36 317.70H329.12V321.02H320.36z"/>
<path fill="#0020ff" d="M211.56 320.42H231.20V323.74H211.56z"/>
<path fill="#0030ff" d="M230.60 320.42H236.64V323.74H230.60z"/>
<path fill="#0040ff" d="M236.04 320.42H242.08V323.74H236.04z"/>
<path fill="#0050ff" d="M241.48 320.42H247.52V323.74H241.48z"/>
<path fill="#0060ff" d="M246.92 320.42H255.68V323.74H246.92z"/>
<path fill="#0070ff" d="M255.08 320.42H263.84V323.74H255.08z"/>
<path fill="#0080ff" d="M263.24 320.42H269.28V323.74H263.24z"/>
<path fill="#008fff" d="M268.68 320.42H274.72V323.74H268.68z"/>
<path fill="#009fff" d="M274.12 320.42H280.16V323.74H274.12z"/>
<path fill="#00afff" d="M279.56 320.42H291.04V323.74H279.56z"/>
<path fill="#00bfff" d="M290.44 320.42H301.92V323.74H290.44z"/>
<path fill="#00afff" d="M301.32 320.42H323.68V323.74H301.32z"/>
<path fill="#009fff" d="M323.08 320.42H329.12V323.74H323.08z"/>
<path fill="#0020ff" d="M211.56 323.14H217.60V326.46H211.56z"/>
<path fill="#0010ff" d="M217.00 323.14H225.76V326.46H217.00z"/>
<path fill="#0020ff" d="M225.16 323.14H231.20V326.46H225.16z"/>
<path fill="#0030ff" d="M230.60 323.14H239.36V326.46H230.60z"/>
<path fill="#0040ff" d="M238.76 323.14H244.80V326.46H238.76z"/>
<path fill="#0050ff" d="M244.20 323.14H250.24V326.46H244.20z"/>
<path fill="#0060ff" d="M249.64 323.14H258.40V326.46H249.64z"/>
<path fill="#0070ff" d="M257.80 323.14H266.56V326.46H257.80z"/>
<path fill="#0080ff" d="M265.96 323.14H274.72V326.46H265.96z"/>
<path fill="#008fff" d="M274.12 323.14H280.16V326.46H274.12z"/>
<path fill="#009fff" d="M279.56 323.14H296.48V326.46H279.56z"/>
<path fill="#00afff" d="M295.88 323.14H299.20V326.46H295.88z"/>
<path fill="#009fff" d="M298.60 323.14H326.40V326.46H298.60z"/>
<path fill="#008fff" d="M325.80 323.14H329.12V326.46H325.80z"/>
<path fill="#0010ff" d="M211.56 325.86H228.48V329.18H211.56z"/>
<path fill="#0020ff" d="M227.88 325.86H233.92V329.18H227.88z"/>
<path fill="#0030ff" d="M233.32 325.86H239.36V329.18H233.32z"/>
<path fill="#0040ff" d="M238.76 325.86H244.80V329.18H238.76z"/>
<path fill="#0050ff" d="M244.20 325.86H252.96V329.18H244.20z"/>
<path fill="#0060ff" d="M252.36 325.86H261.12V329.18H252.36z"/>
<path fill="#0070ff" d="M260.52 325.86H269.28V329.18H260.52z"/>
<path fill="#0080ff" d="M268.68 325.86H280.16V329.18H268.68z"/>
<path fill="#008fff" d="M279.56 325.86H293.76V329.18H279.56z"/>
<path fill="#009fff" d="M293.16 325.86H301.92V329.18H293.16z"/>
<path fill="#008fff" d="M301.32 325.86H329.12V329.18H301.32z"/>
<path fill="#0010ff" d="M211.56 328.58H231.20V331.90H211.56z"/>
<path fill="#0020ff" d="M230.60 328.58H236.64V331.90H230.60z"/>
<path fill="#0030ff" d="M236.04 328.58H242.08V331.90H236.04z"/>
<path fill="#0040ff" d="M241.48 328.58H247.52V331.90H241.48z"/>
<path fill="#0050ff" d="M246.92 328.58H255.68V331.90H246.92z"/>
<path fill="#0060ff" d="M255.08 328.58H266.56V331.90H255.08z"/>
<path fill="#0070ff" d="M265.96 328.58H274.72V331.90H265.96z"/>
<path fill="#0080ff" d="M274.12 328.58H288.32V331.90H274.12z"/>
<path fill="#008fff" d="M287.72 328.58H323.68V331.90H287.72z"/>
<path fill="#0080ff" d="M323.08 328.58H329.12V331.90H323.08z"/>
<path fill="#0010ff" d="M211.56 331.30H231.20V334.62H211.56z"/>
<path fill="#0020ff" d="M230.60 331.30H236.64V334.62H230.60z"/>
<path fill="#0030ff" d="M236.04 331.30H242.08V334.62H236.04z"/>
<path fill="#0040ff" d="M241.48 331.30H247.52V334.62H241.48z"/>
<path fill="#0050ff" d="M246.92 331.30H258.40V334.62H246.92z"/>
<path fill="#0060ff" d="M257.80 331.30H269.28V334.62H257.80z"/>
<path fill="#0070ff" d="M268.68 331.30H282.88V334.62H268.68z"/>
<path fill="#0080ff" d="M282.28 331.30H329.12V334.62H282.28z"/>
<path fill="#0010ff" d="M211.56 334.02H220.32V337.34H211.56z"/>
<path fill="#0000ff" d="M219.72 334.02H223.04V337.34H219.72z"/>
<path fill="#0010ff" d="M222.44 334.02H231.20V337.34H222.44z"/>
<path fill="#0020ff" d="M230.60 334.02H236.64V337.34H230.60z"/>
<path fill="#0030ff" d="M236.04 334.02H242.08V337.34H236.04z"/>
<path fill="#0040ff" d="M241.48 334.02H250.24V337.34H241.48z"/>
<path fill="#0050ff" d="M249.64 334.02H261.12V337.34H249.64z"/>
<path fill="#0060ff" d="M260.52 334.02H277.44V337.34H260.52z"/>
<path fill="#0070ff" d="M276.84 334.02H329.12V337.34H276.84z"/>
<path fill="#0010ff" d="M211.56 336.74H220.32V340.06H211.56z"/>
<path fill="#0000ff" d="M219.72 336.74H223.04V340.06H219.72z"/>
<path fill="#0010ff" d="M222.44 336.74H231.20V340.06H222.44z"/>
<path fill="#0020ff" d="M230.60 336.74H236.64V340.06H230.60z"/>
<path fill="#0030ff" d="M236.04 336.74H244.80V340.06H236.04z"/>
<path fill="#0040ff" d="M244.20 336.74H252.96V340.06H244.20z"/>
<path fill="#0050ff" d="M252.36 336.74H266.56V340.06H252.36z"/>
<path fill="#0060ff" d="M265.96 336.74H285.60V340.06H265.96z"/>
<path fill="#0070ff" d="M285.00 336.74H329.12V340.06H285.00z"/>
<path fill="#0010ff" d="M211.56 339.46H233.92V342.78H211.56z"/>
<path fill="#0020ff" d="M233.32 339.46H239.36V342.78H233.32z"/>
<path fill="#0030ff" d="M238.76 339.46H244.80V342.78H238.76z"/>
<path fill="#0040ff" d="M244.20 339.46H258.40V342.78H244.20z"/>
<path fill="#0050ff" d="M257.80 339.46H277.44V342.78H257.80z"/>
<path fill="#0060ff" d="M276.84 339.46H329.12V342.78H276.84z"/>
<path fill="#0010ff" d="M211.56 342.18H220.32V345.50H211.56z"/>
<path fill="#0000ff" d="M219.72 342.18H225.76V345.50H219.72z"/>
<path fill="#0010ff" d="M225.16 342.18H233.92V345.50H225.16z"/>
<path fill="#0020ff" d="M233.32 342.18H242.08V345.50H233.32z"/>
<path fill="#0030ff" d="M241.48 342.18H252.96V345.50H241.48z"/>
<path fill="#0040ff" d="M252.36 342.18H272.00V345.50H252.36z"/>
<path fill="#0050ff" d="M271.40 342.18H315.52V345.50H271.40z"/>
<path fill="#0060ff" d="M314.92 342.18H326.40V345.50H314.92z"/>
<path fill="#0050ff" d="M325.80 342.18H329.12V345.50H325.80z"/>
<path fill="#0010ff" d="M211.56 344.90H217.60V348.22H211.56z"/>
<path fill="#0000ff" d="M217.00 344.90H228.48V348.22H217.00z"/>
<path fill="#0010ff" d="M227.88 344.90H239.36V348.22H227.88z"/>
<path fill="#0020ff" d="M238.76 344.90H250.24V348.22H238.76z"/>
<path fill="#0030ff" d="M249.64 344.90H277.44V348.22H249.64z"/>
<path fill="#0040ff" d="M276.84 344.90H310.08V348.22H276.84z"/>
<path fill="#0050ff" d="M309.48 344.90H329.12V348.22H309.48z"/>
<path fill="#0010ff" d="M211.56 347.62H214.88V350.94H211.56z"/>
<path fill="#0000ff" d="M214.28 347.62H233.92V350.94H214.28z"/>
<path fill="#0010ff" d="M233.32 347.62H250.24V350.94H233.32z"/>
<path fill="#0020ff" d="M249.64 347.62H282.88V350.94H249.64z"/>
<path fill="#0030ff" d="M282.28 347.62H310.08V350.94H282.28z"/>
<path fill="#0040ff" d="M309.48 347.62H329.12V350.94H309.48z"/>
<path fill="#0010ff" d="M211.56 350.34H214.88V353.66H211.56z"/>
<path fill="#0000ff" d="M214.28 350.34H239.36V353.66H214.28z"/>
<path fill="#0010ff" d="M238.76 350.34H277.44V353.66H238.76z"/>
<path fill="#0020ff" d="M276.84 350.34H301.92V353.66H276.84z"/>
<path fill="#0030ff" d="M301.32 350.34H326.40V353.66H301.32z"/>
<path fill="#0040ff" d="M325.80 350.34H329.12V353.66H325.80z"/>
</g>
<g clip-path="url(#clipB)">
<g fill="none" stroke-width="1.6" opacity="0.4">
<path d="M218.00 274.40L227.40 243.60" stroke="#0060ff"/>
</g>
<g fill="none" stroke-width="1.8" opacity="0.45">
<path d="M217.70 344.70L246.20 243.60" stroke="#0000ef"/>
</g>
<g fill="none" stroke-width="1.6" opacity="0.3">
<path d="M221.00 346.00L232.90 301.80" stroke="#0000ef"/>
</g>
<g fill="none" stroke-width="2.0" opacity="0.8" stroke-dasharray="4.2 0.9 2.2 0.7">
<path d="M252.90 346.80L256.43 334.37" stroke="#0010ff"/>
<path d="M256.28 334.88L259.81 322.44" stroke="#0020ff"/>
<path d="M259.67 322.95L260.29 320.74" stroke="#0030ff"/>
<path d="M260.15 321.25L260.78 319.04" stroke="#0040ff"/>
<path d="M260.63 319.55L261.26 317.33" stroke="#0050ff"/>
<path d="M261.12 317.84L262.23 313.93" stroke="#0060ff"/>
<path d="M262.08 314.44L262.71 312.22" stroke="#0070ff"/>
<path d="M262.57 312.73L263.68 308.82" stroke="#0080ff"/>
<path d="M263.53 309.33L264.16 307.11" stroke="#008fff"/>
<path d="M264.02 307.62L265.61 302.00" stroke="#009fff"/>
<path d="M265.47 302.51L268.03 293.49" stroke="#00afff"/>
<path d="M267.88 294.00L268.51 291.78" stroke="#009fff"/>
<path d="M268.37 292.29L269.48 288.38" stroke="#008fff"/>
<path d="M269.33 288.89L269.96 286.67" stroke="#0080ff"/>
<path d="M269.82 287.18L270.45 284.97" stroke="#0070ff"/>
<path d="M270.30 285.48L270.93 283.27" stroke="#0060ff"/>
<path d="M270.78 283.78L271.89 279.86" stroke="#0050ff"/>
<path d="M271.75 280.37L273.35 274.75" stroke="#0040ff"/>
<path d="M273.20 275.26L275.28 267.94" stroke="#0030ff"/>
<path d="M275.13 268.45L279.14 254.31" stroke="#0020ff"/>
<path d="M279.00 254.82L281.90 244.60" stroke="#0010ff"/>
</g>
<g fill="none" stroke-width="1.6" opacity="0.5" stroke-dasharray="3 1.2">
<path d="M283.68 271.46L291.60 243.80" stroke="#00bfff"/>
</g>
<g fill="none" stroke-width="1.6" opacity="0.5" stroke-dasharray="1.6 4.5">
<path d="M265.20 336.00L265.81 333.87" stroke="#00afff"/>
<path d="M265.75 334.06L266.73 330.64" stroke="#00bfff"/>
<path d="M266.68 330.84L267.66 327.42" stroke="#00cfff"/>
<path d="M267.60 327.61L268.40 324.83" stroke="#00dfff"/>
<path d="M268.34 325.03L269.32 321.61" stroke="#00efff"/>
<path d="M269.27 321.80L270.25 318.38" stroke="#00ffff"/>
<path d="M270.19 318.57L270.98 315.80" stroke="#10ffef"/>
<path d="M270.93 315.99L271.54 313.86" stroke="#20ffdf"/>
<path d="M271.48 314.06L272.09 311.93" stroke="#30ffcf"/>
<path d="M272.04 312.12L272.65 309.99" stroke="#40ffbf"/>
<path d="M272.59 310.18L273.20 308.05" stroke="#50ffaf"/>
<path d="M273.15 308.25L273.76 306.12" stroke="#60ff9f"/>
<path d="M273.70 306.31L274.50 303.54" stroke="#70ff8f"/>
<path d="M274.44 303.73L275.05 301.60" stroke="#80ff80"/>
<path d="M274.99 301.79L275.60 299.66" stroke="#8fff70"/>
<path d="M275.55 299.86L276.16 297.73" stroke="#9fff60"/>
<path d="M276.10 297.92L276.29 297.28" stroke="#afff50"/>
</g>
</g>
<text x="218.40" y="361.80" font-size="6.5" text-anchor="middle" fill="#262626" stroke="#262626" stroke-width="0.18" >144</text>
<text x="243.90" y="361.80" font-size="6.5" text-anchor="middle" fill="#262626" stroke="#262626" stroke-width="0.18" >146</text>
<text x="269.40" y="361.80" font-size="6.5" text-anchor="middle" fill="#262626" stroke="#262626" stroke-width="0.18" >148</text>
<text x="294.90" y="361.80" font-size="6.5" text-anchor="middle" fill="#262626" stroke="#262626" stroke-width="0.18" >150</text>
<text x="320.40" y="361.80" font-size="6.5" text-anchor="middle" fill="#262626" stroke="#262626" stroke-width="0.18" >152</text>
<text x="208.90" y="343.40" font-size="6.5" text-anchor="end" fill="#262626" stroke="#262626" stroke-width="0.18" >30</text>
<text x="208.90" y="317.90" font-size="6.5" text-anchor="end" fill="#262626" stroke="#262626" stroke-width="0.18" >32</text>
<text x="208.90" y="292.40" font-size="6.5" text-anchor="end" fill="#262626" stroke="#262626" stroke-width="0.18" >34</text>
<text x="208.90" y="266.90" font-size="6.5" text-anchor="end" fill="#262626" stroke="#262626" stroke-width="0.18" >36</text>
<text x="208.90" y="241.40" font-size="6.5" text-anchor="end" fill="#262626" stroke="#262626" stroke-width="0.18" >38</text>
<text x="269.15" y="372.00" font-size="7.75" text-anchor="middle" fill="#262626" stroke="#262626" stroke-width="0.18" >Longitude (deg)</text>
<text transform="translate(197.30 294.00) rotate(-90)" font-size="7.75" text-anchor="middle" fill="#262626" stroke="#262626" stroke-width="0.18">Latitude (deg)</text>
<text x="269.15" y="223.00" font-size="7.75" text-anchor="middle" fill="#000" stroke="#000" stroke-width="0.18" xml:space="preserve">HWRF tokage11w 20220823 21:00  UTC</text>
<text x="269.15" y="233.40" font-size="7.75" text-anchor="middle" fill="#000" stroke="#000" stroke-width="0.18" >GNOS-II: 20:16 - 20:19</text>
<linearGradient id="cbB2" x1="0" y1="0" x2="0" y2="1"><stop offset="0.0000" stop-color="#800000"/><stop offset="0.0312" stop-color="#9f0000"/><stop offset="0.0625" stop-color="#bf0000"/><stop offset="0.0938" stop-color="#df0000"/><stop offset="0.1250" stop-color="#ff0000"/><stop offset="0.1562" stop-color="#ff2000"/><stop offset="0.1875" stop-color="#ff4000"/><stop offset="0.2188" stop-color="#ff6000"/><stop offset="0.2500" stop-color="#ff8000"/><stop offset="0.2812" stop-color="#ff9f00"/><stop offset="0.3125" stop-color="#ffbf00"/><stop offset="0.3438" stop-color="#ffdf00"/><stop offset="0.3750" stop-color="#ffff00"/><stop offset="0.4062" stop-color="#dfff20"/><stop offset="0.4375" stop-color="#bfff40"/><stop offset="0.4688" stop-color="#9fff60"/><stop offset="0.5000" stop-color="#80ff80"/><stop offset="0.5312" stop-color="#60ff9f"/><stop offset="0.5625" stop-color="#40ffbf"/><stop offset="0.5938" stop-color="#20ffdf"/><stop offset="0.6250" stop-color="#00ffff"/><stop offset="0.6562" stop-color="#00dfff"/><stop offset="0.6875" stop-color="#00bfff"/><stop offset="0.7188" stop-color="#009fff"/><stop offset="0.7500" stop-color="#0080ff"/><stop offset="0.7812" stop-color="#0060ff"/><stop offset="0.8125" stop-color="#0040ff"/><stop offset="0.8438" stop-color="#0020ff"/><stop offset="0.8750" stop-color="#0000ff"/><stop offset="0.9062" stop-color="#0000df"/><stop offset="0.9375" stop-color="#0000bf"/><stop offset="0.9688" stop-color="#00009f"/><stop offset="1.0000" stop-color="#000080"/></linearGradient>
<rect x="330.50" y="236.80" width="6.80" height="114.60" fill="url(#cbB2)"/>
<text x="339.60" y="340.29" font-size="6.5" text-anchor="start" fill="#262626" stroke="#262626" stroke-width="0.18" >5</text>
<text x="339.60" y="325.88" font-size="6.5" text-anchor="start" fill="#262626" stroke="#262626" stroke-width="0.18" >10</text>
<text x="339.60" y="311.46" font-size="6.5" text-anchor="start" fill="#262626" stroke="#262626" stroke-width="0.18" >15</text>
<text x="339.60" y="297.05" font-size="6.5" text-anchor="start" fill="#262626" stroke="#262626" stroke-width="0.18" >20</text>
<text x="339.60" y="282.63" font-size="6.5" text-anchor="start" fill="#262626" stroke="#262626" stroke-width="0.18" >25</text>
<text x="339.60" y="268.22" font-size="6.5" text-anchor="start" fill="#262626" stroke="#262626" stroke-width="0.18" >30</text>
<text x="339.60" y="253.80" font-size="6.5" text-anchor="start" fill="#262626" stroke="#262626" stroke-width="0.18" >35</text>
<text x="333.90" y="233.10" font-size="6.5" text-anchor="middle" fill="#262626" stroke="#262626" stroke-width="0.18" >m/s</text>
<line x1="395.60" y1="263.00" x2="395.60" y2="352.30" stroke="#ebebeb" stroke-width="0.5"/>
<line x1="424.44" y1="263.00" x2="424.44" y2="352.30" stroke="#ebebeb" stroke-width="0.5"/>
<line x1="453.28" y1="263.00" x2="453.28" y2="352.30" stroke="#ebebeb" stroke-width="0.5"/>
<line x1="482.12" y1="263.00" x2="482.12" y2="352.30" stroke="#ebebeb" stroke-width="0.5"/>
<line x1="510.96" y1="263.00" x2="510.96" y2="352.30" stroke="#ebebeb" stroke-width="0.5"/>
<line x1="539.80" y1="263.00" x2="539.80" y2="352.30" stroke="#ebebeb" stroke-width="0.5"/>
<line x1="395.60" y1="348.32" x2="539.80" y2="348.32" stroke="#ebebeb" stroke-width="0.5"/>
<line x1="395.60" y1="319.88" x2="539.80" y2="319.88" stroke="#ebebeb" stroke-width="0.5"/>
<line x1="395.60" y1="291.44" x2="539.80" y2="291.44" stroke="#ebebeb" stroke-width="0.5"/>
<line x1="395.60" y1="263.00" x2="539.80" y2="263.00" stroke="#ebebeb" stroke-width="0.5"/>
<rect x="395.60" y="263.00" width="144.20" height="89.30" fill="none" stroke="#bdbdbd" stroke-width="0.6"/>
<text x="395.60" y="362.30" font-size="6.5" text-anchor="middle" fill="#262626" stroke="#262626" stroke-width="0.18" >147.5</text>
<text x="424.44" y="362.30" font-size="6.5" text-anchor="middle" fill="#262626" stroke="#262626" stroke-width="0.18" >148</text>
<text x="453.28" y="362.30" font-size="6.5" text-anchor="middle" fill="#262626" stroke="#262626" stroke-width="0.18" >148.5</text>
<text x="482.12" y="362.30" font-size="6.5" text-anchor="middle" fill="#262626" stroke="#262626" stroke-width="0.18" >149</text>
<text x="510.96" y="362.30" font-size="6.5" text-anchor="middle" fill="#262626" stroke="#262626" stroke-width="0.18" >149.5</text>
<text x="539.80" y="362.30" font-size="6.5" text-anchor="middle" fill="#262626" stroke="#262626" stroke-width="0.18" >150</text>
<text x="393.10" y="350.62" font-size="6.5" text-anchor="end" fill="#262626" stroke="#262626" stroke-width="0.18" >10</text>
<text x="393.10" y="322.18" font-size="6.5" text-anchor="end" fill="#262626" stroke="#262626" stroke-width="0.18" >20</text>
<text x="393.10" y="293.74" font-size="6.5" text-anchor="end" fill="#262626" stroke="#262626" stroke-width="0.18" >30</text>
<text x="393.10" y="265.30" font-size="6.5" text-anchor="end" fill="#262626" stroke="#262626" stroke-width="0.18" >40</text>
<text x="467.70" y="372.10" font-size="7.75" text-anchor="middle" fill="#262626" stroke="#262626" stroke-width="0.18" >Longitude</text>
<text transform="translate(382.00 307.65) rotate(-90)" font-size="7.75" text-anchor="middle" fill="#262626" stroke="#262626" stroke-width="0.18">Wind speed (m/s)</text>
<path d="M405.55 349.88h0.86v0.86h-0.86zM405.78 349.86h0.86v0.86h-0.86zM406.01 349.83h0.86v0.86h-0.86zM406.24 349.81h0.86v0.86h-0.86zM406.48 349.79h0.86v0.86h-0.86zM406.71 349.77h0.86v0.86h-0.86zM406.94 349.74h0.86v0.86h-0.86zM407.17 349.72h0.86v0.86h-0.86zM407.40 349.70h0.86v0.86h-0.86zM407.63 349.67h0.86v0.86h-0.86zM407.86 349.65h0.86v0.86h-0.86zM408.09 349.63h0.86v0.86h-0.86zM408.32 349.61h0.86v0.86h-0.86zM408.55 349.58h0.86v0.86h-0.86zM408.78 349.56h0.86v0.86h-0.86zM409.01 349.54h0.86v0.86h-0.86zM409.24 349.52h0.86v0.86h-0.86zM409.47 349.49h0.86v0.86h-0.86zM409.71 349.47h0.86v0.86h-0.86zM409.94 349.45h0.86v0.86h-0.86zM410.17 349.42h0.86v0.86h-0.86zM410.40 349.40h0.86v0.86h-0.86zM410.63 349.38h0.86v0.86h-0.86zM410.86 349.36h0.86v0.86h-0.86zM411.09 349.33h0.86v0.86h-0.86zM411.32 349.31h0.86v0.86h-0.86zM411.55 349.16h0.86v0.86h-0.86zM411.78 349.01h0.86v0.86h-0.86zM412.01 348.86h0.86v0.86h-0.86zM412.24 348.70h0.86v0.86h-0.86zM412.47 348.55h0.86v0.86h-0.86zM412.70 348.40h0.86v0.86h-0.86zM412.94 348.25h0.86v0.86h-0.86zM413.17 348.10h0.86v0.86h-0.86zM413.40 347.95h0.86v0.86h-0.86zM413.63 347.79h0.86v0.86h-0.86zM413.86 347.64h0.86v0.86h-0.86zM414.09 347.49h0.86v0.86h-0.86zM414.32 347.34h0.86v0.86h-0.86zM414.55 347.19h0.86v0.86h-0.86zM414.78 347.04h0.86v0.86h-0.86zM415.01 347.07h0.86v0.86h-0.86zM415.24 347.11h0.86v0.86h-0.86zM415.47 347.15h0.86v0.86h-0.86zM415.70 347.19h0.86v0.86h-0.86zM415.93 347.22h0.86v0.86h-0.86zM416.17 347.26h0.86v0.86h-0.86zM416.40 347.30h0.86v0.86h-0.86zM416.63 347.34h0.86v0.86h-0.86zM416.86 347.38h0.86v0.86h-0.86zM417.09 347.41h0.86v0.86h-0.86zM417.32 347.45h0.86v0.86h-0.86zM417.55 347.49h0.86v0.86h-0.86zM417.78 347.53h0.86v0.86h-0.86zM418.01 347.57h0.86v0.86h-0.86zM418.24 347.60h0.86v0.86h-0.86zM418.47 347.37h0.86v0.86h-0.86zM418.70 347.13h0.86v0.86h-0.86zM418.93 346.89h0.86v0.86h-0.86zM419.16 346.65h0.86v0.86h-0.86zM419.40 346.41h0.86v0.86h-0.86zM419.63 346.17h0.86v0.86h-0.86zM419.86 345.93h0.86v0.86h-0.86zM420.09 345.69h0.86v0.86h-0.86zM420.32 345.45h0.86v0.86h-0.86zM420.55 345.22h0.86v0.86h-0.86zM420.78 344.98h0.86v0.86h-0.86zM421.01 344.74h0.86v0.86h-0.86zM421.24 344.50h0.86v0.86h-0.86zM421.47 344.26h0.86v0.86h-0.86zM421.70 344.02h0.86v0.86h-0.86zM421.93 343.78h0.86v0.86h-0.86zM422.16 343.54h0.86v0.86h-0.86zM422.39 343.30h0.86v0.86h-0.86zM422.63 343.07h0.86v0.86h-0.86zM422.86 342.83h0.86v0.86h-0.86zM423.09 342.59h0.86v0.86h-0.86zM423.32 342.35h0.86v0.86h-0.86zM423.55 342.11h0.86v0.86h-0.86zM423.78 341.87h0.86v0.86h-0.86zM424.01 341.63h0.86v0.86h-0.86zM424.24 341.44h0.86v0.86h-0.86zM424.47 341.26h0.86v0.86h-0.86zM424.70 341.07h0.86v0.86h-0.86zM424.93 340.88h0.86v0.86h-0.86zM425.16 340.69h0.86v0.86h-0.86zM425.39 340.51h0.86v0.86h-0.86zM425.63 340.32h0.86v0.86h-0.86zM425.86 340.13h0.86v0.86h-0.86zM426.09 339.94h0.86v0.86h-0.86zM426.32 339.75h0.86v0.86h-0.86zM426.55 339.57h0.86v0.86h-0.86zM426.78 339.38h0.86v0.86h-0.86zM427.01 339.19h0.86v0.86h-0.86zM427.24 339.00h0.86v0.86h-0.86zM427.47 338.82h0.86v0.86h-0.86zM427.70 338.63h0.86v0.86h-0.86zM427.93 338.44h0.86v0.86h-0.86zM428.16 338.25h0.86v0.86h-0.86zM428.39 338.07h0.86v0.86h-0.86zM428.62 337.88h0.86v0.86h-0.86zM428.86 337.69h0.86v0.86h-0.86zM429.09 337.50h0.86v0.86h-0.86zM429.32 337.31h0.86v0.86h-0.86zM429.55 337.13h0.86v0.86h-0.86zM429.78 336.94h0.86v0.86h-0.86zM430.01 336.75h0.86v0.86h-0.86zM430.24 336.56h0.86v0.86h-0.86zM430.47 336.38h0.86v0.86h-0.86zM430.70 336.19h0.86v0.86h-0.86zM430.93 336.00h0.86v0.86h-0.86zM431.16 335.81h0.86v0.86h-0.86zM431.39 335.63h0.86v0.86h-0.86zM431.62 335.44h0.86v0.86h-0.86zM431.85 335.25h0.86v0.86h-0.86zM432.09 335.06h0.86v0.86h-0.86zM432.32 334.87h0.86v0.86h-0.86zM432.55 334.69h0.86v0.86h-0.86zM432.78 334.50h0.86v0.86h-0.86zM433.01 334.31h0.86v0.86h-0.86zM433.24 334.12h0.86v0.86h-0.86zM433.47 333.94h0.86v0.86h-0.86zM433.70 333.75h0.86v0.86h-0.86zM433.93 333.56h0.86v0.86h-0.86zM434.16 333.37h0.86v0.86h-0.86zM434.39 333.19h0.86v0.86h-0.86zM434.62 333.00h0.86v0.86h-0.86zM434.85 332.81h0.86v0.86h-0.86zM435.08 332.62h0.86v0.86h-0.86zM435.32 332.43h0.86v0.86h-0.86zM435.55 332.25h0.86v0.86h-0.86zM435.78 332.06h0.86v0.86h-0.86zM436.01 331.88h0.86v0.86h-0.86zM436.24 331.70h0.86v0.86h-0.86zM436.47 331.51h0.86v0.86h-0.86zM436.70 331.33h0.86v0.86h-0.86zM436.93 331.14h0.86v0.86h-0.86zM437.16 330.96h0.86v0.86h-0.86zM437.39 330.78h0.86v0.86h-0.86zM437.62 330.59h0.86v0.86h-0.86zM437.85 330.41h0.86v0.86h-0.86zM438.08 330.23h0.86v0.86h-0.86zM438.31 330.04h0.86v0.86h-0.86zM438.55 329.86h0.86v0.86h-0.86zM438.78 329.67h0.86v0.86h-0.86zM439.01 329.49h0.86v0.86h-0.86zM439.24 329.31h0.86v0.86h-0.86zM439.47 329.12h0.86v0.86h-0.86zM439.70 328.94h0.86v0.86h-0.86zM439.93 328.76h0.86v0.86h-0.86zM440.16 328.57h0.86v0.86h-0.86zM440.39 328.39h0.86v0.86h-0.86zM440.62 328.20h0.86v0.86h-0.86zM440.85 328.02h0.86v0.86h-0.86zM441.08 327.84h0.86v0.86h-0.86zM441.31 327.65h0.86v0.86h-0.86zM441.54 327.47h0.86v0.86h-0.86zM441.78 327.29h0.86v0.86h-0.86zM442.01 327.10h0.86v0.86h-0.86zM442.24 326.92h0.86v0.86h-0.86zM442.47 326.73h0.86v0.86h-0.86zM442.70 326.55h0.86v0.86h-0.86zM442.93 326.37h0.86v0.86h-0.86zM443.16 326.06h0.86v0.86h-0.86zM443.39 325.63h0.86v0.86h-0.86zM443.62 325.19h0.86v0.86h-0.86zM443.85 324.76h0.86v0.86h-0.86zM444.08 324.33h0.86v0.86h-0.86zM444.31 323.90h0.86v0.86h-0.86zM444.54 323.46h0.86v0.86h-0.86zM444.77 323.03h0.86v0.86h-0.86zM444.77 323.03h0.86v0.86h-0.86zM445.47 321.74h0.86v0.86h-0.86zM446.16 319.98h0.86v0.86h-0.86zM446.85 317.30h0.86v0.86h-0.86zM447.54 314.61h0.86v0.86h-0.86zM448.24 311.93h0.86v0.86h-0.86zM448.93 309.25h0.86v0.86h-0.86zM449.62 306.57h0.86v0.86h-0.86zM450.31 303.18h0.86v0.86h-0.86zM451.00 299.09h0.86v0.86h-0.86zM451.70 294.99h0.86v0.86h-0.86zM452.39 290.90h0.86v0.86h-0.86zM453.08 287.26h0.86v0.86h-0.86zM453.77 284.53h0.86v0.86h-0.86zM454.47 281.80h0.86v0.86h-0.86zM455.16 279.06h0.86v0.86h-0.86zM455.85 276.45h0.86v0.86h-0.86zM456.54 274.40h0.86v0.86h-0.86zM457.23 272.35h0.86v0.86h-0.86zM457.93 270.31h0.86v0.86h-0.86zM458.62 268.26h0.86v0.86h-0.86zM459.14 271.33h0.86v0.86h-0.86zM459.66 274.40h0.86v0.86h-0.86zM460.18 277.47h0.86v0.86h-0.86zM460.69 280.54h0.86v0.86h-0.86zM461.21 283.62h0.86v0.86h-0.86zM461.73 286.46h0.86v0.86h-0.86zM462.25 289.02h0.86v0.86h-0.86zM462.77 291.58h0.86v0.86h-0.86zM463.29 294.14h0.86v0.86h-0.86zM463.81 296.70h0.86v0.86h-0.86zM464.33 299.26h0.86v0.86h-0.86zM464.85 301.25h0.86v0.86h-0.86zM465.37 303.17h0.86v0.86h-0.86zM465.89 305.09h0.86v0.86h-0.86zM466.40 307.01h0.86v0.86h-0.86zM466.92 308.93h0.86v0.86h-0.86zM467.44 310.85h0.86v0.86h-0.86zM467.96 312.77h0.86v0.86h-0.86zM468.48 314.69h0.86v0.86h-0.86zM469.00 316.61h0.86v0.86h-0.86zM469.52 317.66h0.86v0.86h-0.86zM470.04 318.71h0.86v0.86h-0.86zM470.56 319.76h0.86v0.86h-0.86zM471.08 320.81h0.86v0.86h-0.86zM471.60 321.87h0.86v0.86h-0.86zM472.12 322.92h0.86v0.86h-0.86zM472.63 323.97h0.86v0.86h-0.86zM473.15 325.02h0.86v0.86h-0.86zM473.67 326.08h0.86v0.86h-0.86zM474.19 327.13h0.86v0.86h-0.86zM474.19 327.13h0.86v0.86h-0.86zM474.42 327.30h0.86v0.86h-0.86zM474.65 327.48h0.86v0.86h-0.86zM474.88 327.65h0.86v0.86h-0.86zM475.11 327.83h0.86v0.86h-0.86zM475.35 328.00h0.86v0.86h-0.86zM475.58 328.18h0.86v0.86h-0.86zM475.81 328.35h0.86v0.86h-0.86zM476.04 328.53h0.86v0.86h-0.86zM476.27 328.70h0.86v0.86h-0.86zM476.50 328.88h0.86v0.86h-0.86zM476.73 329.05h0.86v0.86h-0.86zM476.96 329.23h0.86v0.86h-0.86zM477.19 329.40h0.86v0.86h-0.86zM477.42 329.58h0.86v0.86h-0.86zM477.65 329.75h0.86v0.86h-0.86zM477.88 329.93h0.86v0.86h-0.86zM478.11 330.10h0.86v0.86h-0.86zM478.34 330.28h0.86v0.86h-0.86zM478.58 330.45h0.86v0.86h-0.86zM478.81 330.63h0.86v0.86h-0.86zM479.04 330.80h0.86v0.86h-0.86zM479.27 330.98h0.86v0.86h-0.86zM479.50 331.15h0.86v0.86h-0.86zM479.73 331.33h0.86v0.86h-0.86zM479.96 331.50h0.86v0.86h-0.86zM480.19 331.68h0.86v0.86h-0.86zM480.42 331.85h0.86v0.86h-0.86zM480.65 332.03h0.86v0.86h-0.86zM480.88 332.20h0.86v0.86h-0.86zM481.11 332.38h0.86v0.86h-0.86zM481.34 332.55h0.86v0.86h-0.86zM481.57 332.73h0.86v0.86h-0.86zM481.81 332.89h0.86v0.86h-0.86zM482.04 333.04h0.86v0.86h-0.86zM482.27 333.19h0.86v0.86h-0.86zM482.50 333.35h0.86v0.86h-0.86zM482.73 333.50h0.86v0.86h-0.86zM482.96 333.65h0.86v0.86h-0.86zM483.19 333.80h0.86v0.86h-0.86zM483.42 333.95h0.86v0.86h-0.86zM483.65 334.10h0.86v0.86h-0.86zM483.88 334.26h0.86v0.86h-0.86zM484.11 334.41h0.86v0.86h-0.86zM484.34 334.56h0.86v0.86h-0.86zM484.57 334.71h0.86v0.86h-0.86zM484.80 334.86h0.86v0.86h-0.86zM485.04 335.01h0.86v0.86h-0.86zM485.27 335.17h0.86v0.86h-0.86zM485.50 335.32h0.86v0.86h-0.86zM485.73 335.47h0.86v0.86h-0.86zM485.96 335.62h0.86v0.86h-0.86zM486.19 335.77h0.86v0.86h-0.86zM486.42 335.92h0.86v0.86h-0.86zM486.65 336.08h0.86v0.86h-0.86zM486.88 336.23h0.86v0.86h-0.86zM487.11 336.38h0.86v0.86h-0.86zM487.34 336.53h0.86v0.86h-0.86zM487.57 336.68h0.86v0.86h-0.86zM487.80 336.83h0.86v0.86h-0.86zM488.03 336.99h0.86v0.86h-0.86zM488.27 337.14h0.86v0.86h-0.86zM488.50 337.29h0.86v0.86h-0.86zM488.73 337.44h0.86v0.86h-0.86zM488.96 337.59h0.86v0.86h-0.86zM489.19 337.75h0.86v0.86h-0.86zM489.42 337.90h0.86v0.86h-0.86zM489.65 338.05h0.86v0.86h-0.86zM489.88 338.20h0.86v0.86h-0.86zM490.11 338.35h0.86v0.86h-0.86zM490.34 338.50h0.86v0.86h-0.86zM490.57 338.60h0.86v0.86h-0.86zM490.80 338.70h0.86v0.86h-0.86zM491.03 338.80h0.86v0.86h-0.86zM491.26 338.90h0.86v0.86h-0.86zM491.50 339.00h0.86v0.86h-0.86zM491.73 339.09h0.86v0.86h-0.86zM491.96 339.19h0.86v0.86h-0.86zM492.19 339.29h0.86v0.86h-0.86zM492.42 339.39h0.86v0.86h-0.86zM492.65 339.49h0.86v0.86h-0.86zM492.88 339.59h0.86v0.86h-0.86zM493.11 339.69h0.86v0.86h-0.86zM493.34 339.79h0.86v0.86h-0.86zM493.57 339.88h0.86v0.86h-0.86zM493.80 339.98h0.86v0.86h-0.86zM494.03 340.08h0.86v0.86h-0.86zM494.26 340.18h0.86v0.86h-0.86zM494.49 340.28h0.86v0.86h-0.86zM494.73 340.38h0.86v0.86h-0.86zM494.96 340.48h0.86v0.86h-0.86zM495.19 340.57h0.86v0.86h-0.86zM495.42 340.67h0.86v0.86h-0.86zM495.65 340.77h0.86v0.86h-0.86zM495.88 340.87h0.86v0.86h-0.86zM496.11 340.97h0.86v0.86h-0.86zM496.34 341.07h0.86v0.86h-0.86zM496.57 341.17h0.86v0.86h-0.86zM496.80 341.26h0.86v0.86h-0.86zM497.03 341.36h0.86v0.86h-0.86zM497.26 341.46h0.86v0.86h-0.86zM497.49 341.56h0.86v0.86h-0.86zM497.73 341.66h0.86v0.86h-0.86zM497.96 341.76h0.86v0.86h-0.86zM498.19 341.86h0.86v0.86h-0.86zM498.42 341.95h0.86v0.86h-0.86zM498.65 342.05h0.86v0.86h-0.86zM498.88 342.15h0.86v0.86h-0.86zM499.11 342.25h0.86v0.86h-0.86zM499.34 342.34h0.86v0.86h-0.86zM499.57 342.43h0.86v0.86h-0.86zM499.80 342.52h0.86v0.86h-0.86zM500.03 342.61h0.86v0.86h-0.86zM500.26 342.70h0.86v0.86h-0.86zM500.49 342.79h0.86v0.86h-0.86zM500.72 342.88h0.86v0.86h-0.86zM500.96 342.97h0.86v0.86h-0.86zM501.19 343.07h0.86v0.86h-0.86zM501.42 343.16h0.86v0.86h-0.86zM501.65 343.25h0.86v0.86h-0.86zM501.88 343.34h0.86v0.86h-0.86zM502.11 343.43h0.86v0.86h-0.86zM502.34 343.52h0.86v0.86h-0.86zM502.57 343.61h0.86v0.86h-0.86zM502.80 343.70h0.86v0.86h-0.86zM503.03 343.79h0.86v0.86h-0.86zM503.26 343.88h0.86v0.86h-0.86zM503.49 343.98h0.86v0.86h-0.86zM503.72 344.07h0.86v0.86h-0.86zM503.95 344.16h0.86v0.86h-0.86zM504.19 344.25h0.86v0.86h-0.86zM504.42 344.34h0.86v0.86h-0.86zM504.65 344.43h0.86v0.86h-0.86zM504.88 344.52h0.86v0.86h-0.86zM505.11 344.61h0.86v0.86h-0.86zM505.34 344.70h0.86v0.86h-0.86zM505.57 344.79h0.86v0.86h-0.86zM505.80 344.89h0.86v0.86h-0.86zM506.03 344.98h0.86v0.86h-0.86zM506.26 345.07h0.86v0.86h-0.86zM506.49 345.16h0.86v0.86h-0.86zM506.72 345.25h0.86v0.86h-0.86zM506.95 345.34h0.86v0.86h-0.86zM507.18 345.43h0.86v0.86h-0.86zM507.42 345.52h0.86v0.86h-0.86zM507.65 345.61h0.86v0.86h-0.86zM507.88 345.71h0.86v0.86h-0.86zM508.11 345.80h0.86v0.86h-0.86zM508.34 345.90h0.86v0.86h-0.86zM508.57 345.99h0.86v0.86h-0.86zM508.80 346.09h0.86v0.86h-0.86zM509.03 346.18h0.86v0.86h-0.86zM509.26 346.28h0.86v0.86h-0.86zM509.49 346.37h0.86v0.86h-0.86zM509.72 346.47h0.86v0.86h-0.86zM509.95 346.56h0.86v0.86h-0.86zM510.18 346.66h0.86v0.86h-0.86zM510.41 346.75h0.86v0.86h-0.86zM510.65 346.85h0.86v0.86h-0.86zM510.88 346.94h0.86v0.86h-0.86zM511.11 347.04h0.86v0.86h-0.86zM511.34 347.13h0.86v0.86h-0.86zM511.57 347.22h0.86v0.86h-0.86zM511.80 347.32h0.86v0.86h-0.86zM512.03 347.41h0.86v0.86h-0.86zM512.26 347.51h0.86v0.86h-0.86zM512.49 347.60h0.86v0.86h-0.86zM512.72 347.70h0.86v0.86h-0.86zM512.95 347.79h0.86v0.86h-0.86zM513.18 347.89h0.86v0.86h-0.86zM513.41 347.98h0.86v0.86h-0.86zM513.64 348.08h0.86v0.86h-0.86zM513.88 348.17h0.86v0.86h-0.86zM514.11 348.27h0.86v0.86h-0.86zM514.34 348.36h0.86v0.86h-0.86zM514.57 348.46h0.86v0.86h-0.86zM514.80 348.55h0.86v0.86h-0.86zM515.03 348.65h0.86v0.86h-0.86zM515.26 348.74h0.86v0.86h-0.86zM515.49 348.84h0.86v0.86h-0.86zM515.72 348.93h0.86v0.86h-0.86zM515.95 349.03h0.86v0.86h-0.86zM516.18 349.12h0.86v0.86h-0.86zM516.41 349.22h0.86v0.86h-0.86zM516.64 349.31h0.86v0.86h-0.86zM516.87 349.41h0.86v0.86h-0.86zM517.11 349.50h0.86v0.86h-0.86zM517.34 349.59h0.86v0.86h-0.86zM517.57 349.69h0.86v0.86h-0.86zM517.80 349.78h0.86v0.86h-0.86zM518.03 349.88h0.86v0.86h-0.86zM518.26 349.75h0.86v0.86h-0.86zM518.49 349.63h0.86v0.86h-0.86zM518.72 349.50h0.86v0.86h-0.86zM518.95 349.38h0.86v0.86h-0.86zM519.18 349.25h0.86v0.86h-0.86zM519.41 349.13h0.86v0.86h-0.86zM519.64 349.00h0.86v0.86h-0.86zM519.87 348.88h0.86v0.86h-0.86zM520.10 348.75h0.86v0.86h-0.86zM520.34 348.63h0.86v0.86h-0.86zM520.57 348.50h0.86v0.86h-0.86zM520.80 348.38h0.86v0.86h-0.86zM521.03 348.25h0.86v0.86h-0.86zM521.26 348.13h0.86v0.86h-0.86zM521.49 348.00h0.86v0.86h-0.86zM521.72 347.88h0.86v0.86h-0.86zM521.95 347.75h0.86v0.86h-0.86zM522.18 347.63h0.86v0.86h-0.86zM522.41 347.50h0.86v0.86h-0.86zM522.64 347.38h0.86v0.86h-0.86zM522.87 347.25h0.86v0.86h-0.86zM523.10 347.13h0.86v0.86h-0.86zM523.33 347.00h0.86v0.86h-0.86zM523.57 346.88h0.86v0.86h-0.86zM523.80 346.75h0.86v0.86h-0.86zM524.03 346.75h0.86v0.86h-0.86zM524.26 346.75h0.86v0.86h-0.86z" fill="#df5f2a"/>
<path d="M405.45 352.42h1.06v1.06h-1.06zM406.32 349.23h1.06v1.06h-1.06zM407.18 353.69h1.06v1.06h-1.06zM408.05 350.39h1.06v1.06h-1.06zM408.91 347.34h1.06v1.06h-1.06zM409.78 344.74h1.06v1.06h-1.06zM410.64 341.61h1.06v1.06h-1.06zM411.51 347.35h1.06v1.06h-1.06zM412.37 342.46h1.06v1.06h-1.06zM413.24 342.86h1.06v1.06h-1.06zM414.10 344.80h1.06v1.06h-1.06zM414.97 350.57h1.06v1.06h-1.06zM415.83 347.76h1.06v1.06h-1.06zM416.70 344.13h1.06v1.06h-1.06zM417.57 351.42h1.06v1.06h-1.06zM418.43 345.85h1.06v1.06h-1.06zM419.30 341.85h1.06v1.06h-1.06zM420.16 343.40h1.06v1.06h-1.06zM421.03 337.93h1.06v1.06h-1.06zM421.89 339.56h1.06v1.06h-1.06zM422.76 336.84h1.06v1.06h-1.06zM423.62 334.72h1.06v1.06h-1.06zM424.49 332.85h1.06v1.06h-1.06zM425.35 335.20h1.06v1.06h-1.06zM426.22 334.53h1.06v1.06h-1.06zM427.08 339.69h1.06v1.06h-1.06zM427.95 337.00h1.06v1.06h-1.06zM428.81 333.66h1.06v1.06h-1.06zM429.68 333.71h1.06v1.06h-1.06zM430.54 338.43h1.06v1.06h-1.06zM431.41 334.33h1.06v1.06h-1.06zM432.27 337.36h1.06v1.06h-1.06zM433.14 334.11h1.06v1.06h-1.06zM434.00 332.17h1.06v1.06h-1.06zM434.87 327.95h1.06v1.06h-1.06zM435.73 327.82h1.06v1.06h-1.06zM436.60 328.65h1.06v1.06h-1.06zM437.46 323.89h1.06v1.06h-1.06zM438.33 315.45h1.06v1.06h-1.06zM439.20 314.05h1.06v1.06h-1.06zM440.06 311.07h1.06v1.06h-1.06zM440.93 315.17h1.06v1.06h-1.06zM441.79 320.58h1.06v1.06h-1.06zM442.66 319.97h1.06v1.06h-1.06zM443.52 327.82h1.06v1.06h-1.06zM444.39 334.21h1.06v1.06h-1.06zM445.25 324.25h1.06v1.06h-1.06zM446.12 330.63h1.06v1.06h-1.06zM446.98 322.17h1.06v1.06h-1.06zM447.85 317.64h1.06v1.06h-1.06zM448.71 315.60h1.06v1.06h-1.06zM449.58 315.93h1.06v1.06h-1.06zM450.44 305.66h1.06v1.06h-1.06zM451.31 306.99h1.06v1.06h-1.06zM452.17 302.50h1.06v1.06h-1.06zM453.04 295.52h1.06v1.06h-1.06zM453.90 287.22h1.06v1.06h-1.06zM454.77 284.54h1.06v1.06h-1.06zM455.63 283.38h1.06v1.06h-1.06zM456.50 286.23h1.06v1.06h-1.06zM457.36 291.30h1.06v1.06h-1.06zM458.23 302.03h1.06v1.06h-1.06zM459.09 304.43h1.06v1.06h-1.06zM459.96 304.49h1.06v1.06h-1.06zM460.83 307.52h1.06v1.06h-1.06zM461.69 306.18h1.06v1.06h-1.06zM462.56 308.99h1.06v1.06h-1.06zM463.42 310.74h1.06v1.06h-1.06zM464.29 313.57h1.06v1.06h-1.06zM465.15 318.37h1.06v1.06h-1.06zM466.02 319.42h1.06v1.06h-1.06zM466.88 322.50h1.06v1.06h-1.06zM467.75 321.08h1.06v1.06h-1.06zM468.61 328.74h1.06v1.06h-1.06zM469.48 331.95h1.06v1.06h-1.06zM470.34 336.29h1.06v1.06h-1.06zM471.21 334.94h1.06v1.06h-1.06zM472.07 334.50h1.06v1.06h-1.06zM472.94 338.81h1.06v1.06h-1.06zM473.80 338.11h1.06v1.06h-1.06zM474.67 336.83h1.06v1.06h-1.06zM475.53 339.23h1.06v1.06h-1.06zM476.40 340.60h1.06v1.06h-1.06zM477.26 337.67h1.06v1.06h-1.06zM478.13 340.14h1.06v1.06h-1.06zM478.99 339.71h1.06v1.06h-1.06zM479.86 337.73h1.06v1.06h-1.06zM480.72 337.58h1.06v1.06h-1.06zM481.59 340.76h1.06v1.06h-1.06zM482.46 340.95h1.06v1.06h-1.06zM483.32 338.89h1.06v1.06h-1.06zM484.19 339.63h1.06v1.06h-1.06zM485.05 344.01h1.06v1.06h-1.06zM485.92 337.42h1.06v1.06h-1.06zM486.78 340.92h1.06v1.06h-1.06zM487.65 339.93h1.06v1.06h-1.06zM488.51 344.91h1.06v1.06h-1.06zM489.38 339.95h1.06v1.06h-1.06zM490.24 344.86h1.06v1.06h-1.06zM491.11 344.38h1.06v1.06h-1.06zM491.97 347.93h1.06v1.06h-1.06zM492.84 345.73h1.06v1.06h-1.06zM493.70 346.48h1.06v1.06h-1.06zM494.57 346.47h1.06v1.06h-1.06zM495.43 344.09h1.06v1.06h-1.06zM496.30 343.99h1.06v1.06h-1.06zM497.16 340.95h1.06v1.06h-1.06zM498.03 343.27h1.06v1.06h-1.06zM498.89 343.51h1.06v1.06h-1.06zM499.76 341.85h1.06v1.06h-1.06zM500.62 340.93h1.06v1.06h-1.06zM501.49 340.08h1.06v1.06h-1.06zM502.35 341.61h1.06v1.06h-1.06zM503.22 348.04h1.06v1.06h-1.06zM504.09 343.72h1.06v1.06h-1.06zM504.95 341.79h1.06v1.06h-1.06zM505.82 345.48h1.06v1.06h-1.06zM506.68 347.31h1.06v1.06h-1.06zM507.55 345.95h1.06v1.06h-1.06zM508.41 348.31h1.06v1.06h-1.06zM509.28 346.22h1.06v1.06h-1.06zM510.14 348.22h1.06v1.06h-1.06zM511.01 345.36h1.06v1.06h-1.06zM511.87 347.65h1.06v1.06h-1.06zM512.74 350.69h1.06v1.06h-1.06zM513.60 347.92h1.06v1.06h-1.06zM514.47 347.42h1.06v1.06h-1.06zM515.33 351.10h1.06v1.06h-1.06zM516.20 351.03h1.06v1.06h-1.06zM517.06 354.03h1.06v1.06h-1.06zM517.93 345.45h1.06v1.06h-1.06zM518.79 347.56h1.06v1.06h-1.06zM519.66 349.77h1.06v1.06h-1.06zM520.52 347.69h1.06v1.06h-1.06zM521.39 344.17h1.06v1.06h-1.06zM522.25 342.57h1.06v1.06h-1.06z" fill="#3590d9"/>
<rect x="446.00" y="236.60" width="42.40" height="18.60" fill="#fff" stroke="#c8c8c8" stroke-width="0.6"/>
<circle cx="454.30" cy="241.40" r="0.55" fill="#2a8ad4"/>
<circle cx="454.30" cy="249.70" r="0.55" fill="#e0602a"/>
<text x="461.70" y="244.30" font-size="6.35" text-anchor="start" fill="#1a1a1a" stroke="#1a1a1a" stroke-width="0.08" >GNOS-II</text>
<text x="461.70" y="252.60" font-size="6.35" text-anchor="start" fill="#1a1a1a" stroke="#1a1a1a" stroke-width="0.08" >HWRF</text>
<text x="267.2" y="399.1" font-family="Liberation Serif, Times New Roman, serif" font-weight="bold" font-size="20" text-anchor="middle" fill="#111">(b)</text>
<text x="79.85" y="446.80" font-size="7.75" text-anchor="middle" fill="#000" stroke="#000" stroke-width="0.18" >GNOS-II</text>
<line x1="29.20" y1="450.30" x2="29.20" y2="565.20" stroke="#f0f0f0" stroke-width="0.5"/>
<line x1="54.70" y1="450.30" x2="54.70" y2="565.20" stroke="#f0f0f0" stroke-width="0.5"/>
<line x1="80.20" y1="450.30" x2="80.20" y2="565.20" stroke="#f0f0f0" stroke-width="0.5"/>
<line x1="105.70" y1="450.30" x2="105.70" y2="565.20" stroke="#f0f0f0" stroke-width="0.5"/>
<line x1="131.20" y1="450.30" x2="131.20" y2="565.20" stroke="#f0f0f0" stroke-width="0.5"/>
<line x1="22.70" y1="547.80" x2="137.00" y2="547.80" stroke="#f0f0f0" stroke-width="0.5"/>
<line x1="22.70" y1="522.30" x2="137.00" y2="522.30" stroke="#f0f0f0" stroke-width="0.5"/>
<line x1="22.70" y1="496.80" x2="137.00" y2="496.80" stroke="#f0f0f0" stroke-width="0.5"/>
<line x1="22.70" y1="471.30" x2="137.00" y2="471.30" stroke="#f0f0f0" stroke-width="0.5"/>
<path d="M22.70 450.30V565.20H137.00" stroke="#d4d4d4" stroke-width="0.8" fill="none"/>
<text x="29.20" y="575.00" font-size="6.5" text-anchor="middle" fill="#262626" stroke="#262626" stroke-width="0.18" >124</text>
<text x="54.70" y="575.00" font-size="6.5" text-anchor="middle" fill="#262626" stroke="#262626" stroke-width="0.18" >126</text>
<text x="80.20" y="575.00" font-size="6.5" text-anchor="middle" fill="#262626" stroke="#262626" stroke-width="0.18" >128</text>
<text x="105.70" y="575.00" font-size="6.5" text-anchor="middle" fill="#262626" stroke="#262626" stroke-width="0.18" >130</text>
<text x="131.20" y="575.00" font-size="6.5" text-anchor="middle" fill="#262626" stroke="#262626" stroke-width="0.18" >132</text>
<text x="20.50" y="550.40" font-size="6.5" text-anchor="end" fill="#262626" stroke="#262626" stroke-width="0.18" >22</text>
<text x="20.50" y="524.90" font-size="6.5" text-anchor="end" fill="#262626" stroke="#262626" stroke-width="0.18" >24</text>
<text x="20.50" y="499.40" font-size="6.5" text-anchor="end" fill="#262626" stroke="#262626" stroke-width="0.18" >26</text>
<text x="20.50" y="473.90" font-size="6.5" text-anchor="end" fill="#262626" stroke="#262626" stroke-width="0.18" >28</text>
<text x="79.85" y="585.80" font-size="7.75" text-anchor="middle" fill="#262626" stroke="#262626" stroke-width="0.18" >Longitude (deg)</text>
<text transform="translate(8.30 507.75) rotate(-90)" font-size="7.75" text-anchor="middle" fill="#262626" stroke="#262626" stroke-width="0.18">Latitude (deg)</text>
<clipPath id="clipC0"><rect x="22.70" y="448.30" width="114.30" height="116.90"/></clipPath>
<g clip-path="url(#clipC0)">
<g fill="none" stroke-width="2.5">
<path d="M63.10 457.30L66.43 467.25" stroke="#0030ff" stroke-linecap="round"/>
<path d="M66.36 467.05L67.30 469.85" stroke="#0040ff"/>
<path d="M67.23 469.65L67.52 470.50" stroke="#0050ff"/>
<path d="M67.45 470.30L67.73 471.15" stroke="#0060ff"/>
<path d="M67.67 470.95L67.95 471.80" stroke="#0070ff"/>
<path d="M67.88 471.60L68.17 472.44" stroke="#0080ff"/>
<path d="M68.10 472.25L68.82 474.39" stroke="#008fff"/>
<path d="M68.76 474.20L69.26 475.69" stroke="#0080ff"/>
<path d="M69.19 475.50L71.80 483.30" stroke="#0070ff" stroke-linecap="round"/>
</g>
<g fill="none" stroke-width="2.5">
<path d="M77.30 503.30L77.53 504.12" stroke="#ff8000" stroke-linecap="round"/>
<path d="M77.48 503.93L77.71 504.75" stroke="#ff8f00"/>
<path d="M77.66 504.56L77.89 505.39" stroke="#ffaf00"/>
<path d="M77.84 505.20L78.07 506.02" stroke="#ffcf00"/>
<path d="M78.02 505.83L78.25 506.65" stroke="#ffef00"/>
<path d="M78.20 506.46L78.43 507.28" stroke="#dfff20"/>
<path d="M78.37 507.09L78.61 507.91" stroke="#bfff40"/>
<path d="M78.55 507.72L78.79 508.55" stroke="#afff50"/>
<path d="M78.73 508.36L78.96 509.18" stroke="#8fff70"/>
<path d="M78.91 508.99L79.14 509.81" stroke="#70ff8f"/>
<path d="M79.09 509.62L79.32 510.44" stroke="#60ff9f"/>
<path d="M79.27 510.25L79.50 511.07" stroke="#40ffbf"/>
<path d="M79.45 510.88L79.68 511.71" stroke="#30ffcf"/>
<path d="M79.63 511.52L79.86 512.34" stroke="#20ffdf"/>
<path d="M79.81 512.15L80.22 513.60" stroke="#00ffff"/>
<path d="M80.16 513.41L80.40 514.23" stroke="#00efff"/>
<path d="M80.34 514.04L80.58 514.87" stroke="#00dfff"/>
<path d="M80.52 514.68L80.93 516.13" stroke="#00cfff"/>
<path d="M80.88 515.94L81.11 516.76" stroke="#00bfff"/>
<path d="M81.06 516.57L81.47 518.03" stroke="#00afff"/>
<path d="M81.42 517.84L81.65 518.66" stroke="#009fff"/>
<path d="M81.60 518.47L82.01 519.92" stroke="#008fff"/>
<path d="M81.95 519.73L82.19 520.55" stroke="#0080ff"/>
<path d="M82.13 520.36L82.54 521.82" stroke="#0070ff"/>
<path d="M82.49 521.63L82.90 523.08" stroke="#0060ff"/>
<path d="M82.85 522.89L83.08 523.71" stroke="#0050ff"/>
<path d="M83.03 523.52L83.98 526.87" stroke="#0040ff"/>
<path d="M83.92 526.68L85.77 533.19" stroke="#0030ff"/>
<path d="M85.71 533.00L91.49 553.42" stroke="#0020ff"/>
<path d="M91.44 553.23L95.20 566.50" stroke="#0010ff" stroke-linecap="round"/>
</g>
<circle cx="70.5" cy="525.1" r="1.3" fill="#0085ff"/>
<circle cx="74.3" cy="538.4" r="1.3" fill="#0000df"/>
<circle cx="79.6" cy="556.9" r="1.3" fill="#0000fd"/>
<circle cx="80.6" cy="560" r="1.3" fill="#0000ee"/>
<circle cx="81.4" cy="562.8" r="1.3" fill="#0000fd"/>
<circle cx="82.2" cy="565.3" r="1.3" fill="#0000fd"/>
</g>
<linearGradient id="cbC1" x1="0" y1="0" x2="0" y2="1"><stop offset="0.0000" stop-color="#800000"/><stop offset="0.0312" stop-color="#9f0000"/><stop offset="0.0625" stop-color="#bf0000"/><stop offset="0.0938" stop-color="#df0000"/><stop offset="0.1250" stop-color="#ff0000"/><stop offset="0.1562" stop-color="#ff2000"/><stop offset="0.1875" stop-color="#ff4000"/><stop offset="0.2188" stop-color="#ff6000"/><stop offset="0.2500" stop-color="#ff8000"/><stop offset="0.2812" stop-color="#ff9f00"/><stop offset="0.3125" stop-color="#ffbf00"/><stop offset="0.3438" stop-color="#ffdf00"/><stop offset="0.3750" stop-color="#ffff00"/><stop offset="0.4062" stop-color="#dfff20"/><stop offset="0.4375" stop-color="#bfff40"/><stop offset="0.4688" stop-color="#9fff60"/><stop offset="0.5000" stop-color="#80ff80"/><stop offset="0.5312" stop-color="#60ff9f"/><stop offset="0.5625" stop-color="#40ffbf"/><stop offset="0.5938" stop-color="#20ffdf"/><stop offset="0.6250" stop-color="#00ffff"/><stop offset="0.6562" stop-color="#00dfff"/><stop offset="0.6875" stop-color="#00bfff"/><stop offset="0.7188" stop-color="#009fff"/><stop offset="0.7500" stop-color="#0080ff"/><stop offset="0.7812" stop-color="#0060ff"/><stop offset="0.8125" stop-color="#0040ff"/><stop offset="0.8438" stop-color="#0020ff"/><stop offset="0.8750" stop-color="#0000ff"/><stop offset="0.9062" stop-color="#0000df"/><stop offset="0.9375" stop-color="#0000bf"/><stop offset="0.9688" stop-color="#00009f"/><stop offset="1.0000" stop-color="#000080"/></linearGradient>
<rect x="141.50" y="450.50" width="7.40" height="114.70" fill="url(#cbC1)"/>
<text x="151.20" y="551.68" font-size="6.5" text-anchor="start" fill="#262626" stroke="#262626" stroke-width="0.18" >10</text>
<text x="151.20" y="534.78" font-size="6.5" text-anchor="start" fill="#262626" stroke="#262626" stroke-width="0.18" >20</text>
<text x="151.20" y="517.87" font-size="6.5" text-anchor="start" fill="#262626" stroke="#262626" stroke-width="0.18" >30</text>
<text x="151.20" y="500.97" font-size="6.5" text-anchor="start" fill="#262626" stroke="#262626" stroke-width="0.18" >40</text>
<text x="151.20" y="484.07" font-size="6.5" text-anchor="start" fill="#262626" stroke="#262626" stroke-width="0.18" >50</text>
<text x="151.20" y="467.17" font-size="6.5" text-anchor="start" fill="#262626" stroke="#262626" stroke-width="0.18" >60</text>
<text x="145.20" y="446.80" font-size="6.5" text-anchor="middle" fill="#262626" stroke="#262626" stroke-width="0.18" >m/s</text>
<clipPath id="clipC"><rect x="211.60" y="449.90" width="115.10" height="114.80"/></clipPath>
<g clip-path="url(#clipC)">
<rect x="211.60" y="449.90" width="115.10" height="114.80" fill="#004dff"/>
<path fill="#0020ff" d="M209.20 448.70H212.75V452.25H209.20z"/>
<path fill="#0010ff" d="M212.15 448.70H268.80V452.25H212.15z"/>
<path fill="#0020ff" d="M268.20 448.70H313.05V452.25H268.20z"/>
<path fill="#0010ff" d="M312.45 448.70H321.90V452.25H312.45z"/>
<path fill="#0000ff" d="M321.30 448.70H327.80V452.25H321.30z"/>
<path fill="#0020ff" d="M209.20 451.65H212.75V455.20H209.20z"/>
<path fill="#0010ff" d="M212.15 451.65H265.85V455.20H212.15z"/>
<path fill="#0020ff" d="M265.25 451.65H313.05V455.20H265.25z"/>
<path fill="#0010ff" d="M312.45 451.65H318.95V455.20H312.45z"/>
<path fill="#0000ff" d="M318.35 451.65H327.80V455.20H318.35z"/>
<path fill="#0020ff" d="M209.20 454.60H277.65V458.15H209.20z"/>
<path fill="#0030ff" d="M277.05 454.60H304.20V458.15H277.05z"/>
<path fill="#0020ff" d="M303.60 454.60H313.05V458.15H303.60z"/>
<path fill="#0010ff" d="M312.45 454.60H318.95V458.15H312.45z"/>
<path fill="#0000ff" d="M318.35 454.60H327.80V458.15H318.35z"/>
<path fill="#0020ff" d="M209.20 457.55H245.20V461.10H209.20z"/>
<path fill="#0030ff" d="M244.60 457.55H307.15V461.10H244.60z"/>
<path fill="#0020ff" d="M306.55 457.55H313.05V461.10H306.55z"/>
<path fill="#0010ff" d="M312.45 457.55H318.95V461.10H312.45z"/>
<path fill="#0000ff" d="M318.35 457.55H327.80V461.10H318.35z"/>
<path fill="#0020ff" d="M209.20 460.50H215.70V464.05H209.20z"/>
<path fill="#0030ff" d="M215.10 460.50H251.10V464.05H215.10z"/>
<path fill="#0040ff" d="M250.50 460.50H295.35V464.05H250.50z"/>
<path fill="#0030ff" d="M294.75 460.50H307.15V464.05H294.75z"/>
<path fill="#0020ff" d="M306.55 460.50H313.05V464.05H306.55z"/>
<path fill="#0010ff" d="M312.45 460.50H318.95V464.05H312.45z"/>
<path fill="#0000ff" d="M318.35 460.50H327.80V464.05H318.35z"/>
<path fill="#0030ff" d="M209.20 463.45H236.35V467.00H209.20z"/>
<path fill="#0040ff" d="M235.75 463.45H301.25V467.00H235.75z"/>
<path fill="#0030ff" d="M300.65 463.45H310.10V467.00H300.65z"/>
<path fill="#0020ff" d="M309.50 463.45H313.05V467.00H309.50z"/>
<path fill="#0010ff" d="M312.45 463.45H318.95V467.00H312.45z"/>
<path fill="#0000ff" d="M318.35 463.45H324.85V467.00H318.35z"/>
<path fill="#0000ef" d="M324.25 463.45H327.80V467.00H324.25z"/>
<path fill="#0030ff" d="M209.20 466.40H230.45V469.95H209.20z"/>
<path fill="#0040ff" d="M229.85 466.40H251.10V469.95H229.85z"/>
<path fill="#0050ff" d="M250.50 466.40H283.55V469.95H250.50z"/>
<path fill="#0000ff" d="M282.95 466.40H286.50V469.95H282.95z"/>
<path fill="#0040ff" d="M285.90 466.40H301.25V469.95H285.90z"/>
<path fill="#0030ff" d="M300.65 466.40H310.10V469.95H300.65z"/>
<path fill="#0020ff" d="M309.50 466.40H313.05V469.95H309.50z"/>
<path fill="#0010ff" d="M312.45 466.40H318.95V469.95H312.45z"/>
<path fill="#0000ff" d="M318.35 466.40H324.85V469.95H318.35z"/>
<path fill="#0000ef" d="M324.25 466.40H327.80V469.95H324.25z"/>
<path fill="#0030ff" d="M209.20 469.35H227.50V472.90H209.20z"/>
<path fill="#0040ff" d="M226.90 469.35H245.20V472.90H226.90z"/>
<path fill="#0050ff" d="M244.60 469.35H292.40V472.90H244.60z"/>
<path fill="#0040ff" d="M291.80 469.35H304.20V472.90H291.80z"/>
<path fill="#0030ff" d="M303.60 469.35H310.10V472.90H303.60z"/>
<path fill="#0020ff" d="M309.50 469.35H316.00V472.90H309.50z"/>
<path fill="#0010ff" d="M315.40 469.35H318.95V472.90H315.40z"/>
<path fill="#0000ff" d="M318.35 469.35H327.80V472.90H318.35z"/>
<path fill="#0030ff" d="M209.20 472.30H224.55V475.85H209.20z"/>
<path fill="#0040ff" d="M223.95 472.30H239.30V475.85H223.95z"/>
<path fill="#0050ff" d="M238.70 472.30H259.95V475.85H238.70z"/>
<path fill="#0060ff" d="M259.35 472.30H280.60V475.85H259.35z"/>
<path fill="#0000ff" d="M280.00 472.30H283.55V475.85H280.00z"/>
<path fill="#0050ff" d="M282.95 472.30H295.35V475.85H282.95z"/>
<path fill="#0040ff" d="M294.75 472.30H307.15V475.85H294.75z"/>
<path fill="#0030ff" d="M306.55 472.30H310.10V475.85H306.55z"/>
<path fill="#0020ff" d="M309.50 472.30H316.00V475.85H309.50z"/>
<path fill="#0010ff" d="M315.40 472.30H318.95V475.85H315.40z"/>
<path fill="#0000ff" d="M318.35 472.30H327.80V475.85H318.35z"/>
<path fill="#0030ff" d="M209.20 475.25H221.60V478.80H209.20z"/>
<path fill="#0040ff" d="M221.00 475.25H236.35V478.80H221.00z"/>
<path fill="#0050ff" d="M235.75 475.25H251.10V478.80H235.75z"/>
<path fill="#0060ff" d="M250.50 475.25H286.50V478.80H250.50z"/>
<path fill="#0050ff" d="M285.90 475.25H298.30V478.80H285.90z"/>
<path fill="#0040ff" d="M297.70 475.25H307.15V478.80H297.70z"/>
<path fill="#0030ff" d="M306.55 475.25H313.05V478.80H306.55z"/>
<path fill="#0020ff" d="M312.45 475.25H316.00V478.80H312.45z"/>
<path fill="#0010ff" d="M315.40 475.25H318.95V478.80H315.40z"/>
<path fill="#0000ff" d="M318.35 475.25H327.80V478.80H318.35z"/>
<path fill="#0030ff" d="M209.20 478.20H218.65V481.75H209.20z"/>
<path fill="#0040ff" d="M218.05 478.20H233.40V481.75H218.05z"/>
<path fill="#0050ff" d="M232.80 478.20H248.15V481.75H232.80z"/>
<path fill="#0060ff" d="M247.55 478.20H262.90V481.75H247.55z"/>
<path fill="#0070ff" d="M262.30 478.20H280.60V481.75H262.30z"/>
<path fill="#0060ff" d="M280.00 478.20H292.40V481.75H280.00z"/>
<path fill="#0050ff" d="M291.80 478.20H301.25V481.75H291.80z"/>
<path fill="#0040ff" d="M300.65 478.20H307.15V481.75H300.65z"/>
<path fill="#0030ff" d="M306.55 478.20H313.05V481.75H306.55z"/>
<path fill="#0020ff" d="M312.45 478.20H316.00V481.75H312.45z"/>
<path fill="#0010ff" d="M315.40 478.20H321.90V481.75H315.40z"/>
<path fill="#0000ff" d="M321.30 478.20H327.80V481.75H321.30z"/>
<path fill="#0030ff" d="M209.20 481.15H218.65V484.70H209.20z"/>
<path fill="#0040ff" d="M218.05 481.15H233.40V484.70H218.05z"/>
<path fill="#0050ff" d="M232.80 481.15H245.20V484.70H232.80z"/>
<path fill="#0060ff" d="M244.60 481.15H257.00V484.70H244.60z"/>
<path fill="#0070ff" d="M256.40 481.15H286.50V484.70H256.40z"/>
<path fill="#0060ff" d="M285.90 481.15H295.35V484.70H285.90z"/>
<path fill="#0050ff" d="M294.75 481.15H304.20V484.70H294.75z"/>
<path fill="#0040ff" d="M303.60 481.15H310.10V484.70H303.60z"/>
<path fill="#0030ff" d="M309.50 481.15H313.05V484.70H309.50z"/>
<path fill="#0020ff" d="M312.45 481.15H318.95V484.70H312.45z"/>
<path fill="#0010ff" d="M318.35 481.15H324.85V484.70H318.35z"/>
<path fill="#0000ff" d="M324.25 481.15H327.80V484.70H324.25z"/>
<path fill="#0030ff" d="M209.20 484.10H218.65V487.65H209.20z"/>
<path fill="#0040ff" d="M218.05 484.10H230.45V487.65H218.05z"/>
<path fill="#0050ff" d="M229.85 484.10H242.25V487.65H229.85z"/>
<path fill="#0060ff" d="M241.65 484.10H251.10V487.65H241.65z"/>
<path fill="#0070ff" d="M250.50 484.10H262.90V487.65H250.50z"/>
<path fill="#0080ff" d="M262.30 484.10H283.55V487.65H262.30z"/>
<path fill="#0070ff" d="M282.95 484.10H289.45V487.65H282.95z"/>
<path fill="#0060ff" d="M288.85 484.10H298.30V487.65H288.85z"/>
<path fill="#0050ff" d="M297.70 484.10H304.20V487.65H297.70z"/>
<path fill="#0040ff" d="M303.60 484.10H310.10V487.65H303.60z"/>
<path fill="#0030ff" d="M309.50 484.10H316.00V487.65H309.50z"/>
<path fill="#0020ff" d="M315.40 484.10H318.95V487.65H315.40z"/>
<path fill="#0010ff" d="M318.35 484.10H327.80V487.65H318.35z"/>
<path fill="#0030ff" d="M209.20 487.05H218.65V490.60H209.20z"/>
<path fill="#0040ff" d="M218.05 487.05H230.45V490.60H218.05z"/>
<path fill="#0050ff" d="M229.85 487.05H239.30V490.60H229.85z"/>
<path fill="#0060ff" d="M238.70 487.05H248.15V490.60H238.70z"/>
<path fill="#0070ff" d="M247.55 487.05H257.00V490.60H247.55z"/>
<path fill="#0080ff" d="M256.40 487.05H265.85V490.60H256.40z"/>
<path fill="#008fff" d="M265.25 487.05H271.75V490.60H265.25z"/>
<path fill="#0000cf" d="M271.15 487.05H274.70V490.60H271.15z"/>
<path fill="#008fff" d="M274.10 487.05H280.60V490.60H274.10z"/>
<path fill="#0080ff" d="M280.00 487.05H286.50V490.60H280.00z"/>
<path fill="#0070ff" d="M285.90 487.05H295.35V490.60H285.90z"/>
<path fill="#0060ff" d="M294.75 487.05H301.25V490.60H294.75z"/>
<path fill="#0050ff" d="M300.65 487.05H307.15V490.60H300.65z"/>
<path fill="#0040ff" d="M306.55 487.05H310.10V490.60H306.55z"/>
<path fill="#0030ff" d="M309.50 487.05H316.00V490.60H309.50z"/>
<path fill="#0020ff" d="M315.40 487.05H321.90V490.60H315.40z"/>
<path fill="#0010ff" d="M321.30 487.05H327.80V490.60H321.30z"/>
<path fill="#0030ff" d="M209.20 490.00H215.70V493.55H209.20z"/>
<path fill="#0040ff" d="M215.10 490.00H227.50V493.55H215.10z"/>
<path fill="#0050ff" d="M226.90 490.00H239.30V493.55H226.90z"/>
<path fill="#0060ff" d="M238.70 490.00H248.15V493.55H238.70z"/>
<path fill="#0070ff" d="M247.55 490.00H254.05V493.55H247.55z"/>
<path fill="#0080ff" d="M253.45 490.00H259.95V493.55H253.45z"/>
<path fill="#008fff" d="M259.35 490.00H268.80V493.55H259.35z"/>
<path fill="#0000df" d="M268.20 490.00H271.75V493.55H268.20z"/>
<path fill="#009fff" d="M271.15 490.00H280.60V493.55H271.15z"/>
<path fill="#008fff" d="M280.00 490.00H286.50V493.55H280.00z"/>
<path fill="#0080ff" d="M285.90 490.00H292.40V493.55H285.90z"/>
<path fill="#0070ff" d="M291.80 490.00H295.35V493.55H291.80z"/>
<path fill="#0060ff" d="M294.75 490.00H301.25V493.55H294.75z"/>
<path fill="#0050ff" d="M300.65 490.00H307.15V493.55H300.65z"/>
<path fill="#0040ff" d="M306.55 490.00H313.05V493.55H306.55z"/>
<path fill="#0030ff" d="M312.45 490.00H316.00V493.55H312.45z"/>
<path fill="#0020ff" d="M315.40 490.00H321.90V493.55H315.40z"/>
<path fill="#0010ff" d="M321.30 490.00H327.80V493.55H321.30z"/>
<path fill="#0030ff" d="M209.20 492.95H215.70V496.50H209.20z"/>
<path fill="#0040ff" d="M215.10 492.95H227.50V496.50H215.10z"/>
<path fill="#0050ff" d="M226.90 492.95H236.35V496.50H226.90z"/>
<path fill="#0060ff" d="M235.75 492.95H245.20V496.50H235.75z"/>
<path fill="#0070ff" d="M244.60 492.95H251.10V496.50H244.60z"/>
<path fill="#0080ff" d="M250.50 492.95H257.00V496.50H250.50z"/>
<path fill="#008fff" d="M256.40 492.95H262.90V496.50H256.40z"/>
<path fill="#009fff" d="M262.30 492.95H265.85V496.50H262.30z"/>
<path fill="#0000cf" d="M265.25 492.95H268.80V496.50H265.25z"/>
<path fill="#00afff" d="M268.20 492.95H271.75V496.50H268.20z"/>
<path fill="#00bfff" d="M271.15 492.95H277.65V496.50H271.15z"/>
<path fill="#00afff" d="M277.05 492.95H283.55V496.50H277.05z"/>
<path fill="#009fff" d="M282.95 492.95H286.50V496.50H282.95z"/>
<path fill="#008fff" d="M285.90 492.95H289.45V496.50H285.90z"/>
<path fill="#0080ff" d="M288.85 492.95H292.40V496.50H288.85z"/>
<path fill="#0070ff" d="M291.80 492.95H298.30V496.50H291.80z"/>
<path fill="#0060ff" d="M297.70 492.95H304.20V496.50H297.70z"/>
<path fill="#0050ff" d="M303.60 492.95H307.15V496.50H303.60z"/>
<path fill="#0040ff" d="M306.55 492.95H313.05V496.50H306.55z"/>
<path fill="#0030ff" d="M312.45 492.95H318.95V496.50H312.45z"/>
<path fill="#0020ff" d="M318.35 492.95H327.80V496.50H318.35z"/>
<path fill="#0030ff" d="M209.20 495.90H218.65V499.45H209.20z"/>
<path fill="#0040ff" d="M218.05 495.90H227.50V499.45H218.05z"/>
<path fill="#0050ff" d="M226.90 495.90H236.35V499.45H226.90z"/>
<path fill="#0060ff" d="M235.75 495.90H245.20V499.45H235.75z"/>
<path fill="#0070ff" d="M244.60 495.90H251.10V499.45H244.60z"/>
<path fill="#0080ff" d="M250.50 495.90H257.00V499.45H250.50z"/>
<path fill="#008fff" d="M256.40 495.90H259.95V499.45H256.40z"/>
<path fill="#009fff" d="M259.35 495.90H262.90V499.45H259.35z"/>
<path fill="#00afff" d="M262.30 495.90H265.85V499.45H262.30z"/>
<path fill="#00bfff" d="M265.25 495.90H268.80V499.45H265.25z"/>
<path fill="#00cfff" d="M268.20 495.90H271.75V499.45H268.20z"/>
<path fill="#00dfff" d="M271.15 495.90H280.60V499.45H271.15z"/>
<path fill="#00cfff" d="M280.00 495.90H283.55V499.45H280.00z"/>
<path fill="#00afff" d="M282.95 495.90H286.50V499.45H282.95z"/>
<path fill="#009fff" d="M285.90 495.90H289.45V499.45H285.90z"/>
<path fill="#008fff" d="M288.85 495.90H292.40V499.45H288.85z"/>
<path fill="#0080ff" d="M291.80 495.90H295.35V499.45H291.80z"/>
<path fill="#0070ff" d="M294.75 495.90H298.30V499.45H294.75z"/>
<path fill="#0060ff" d="M297.70 495.90H304.20V499.45H297.70z"/>
<path fill="#0050ff" d="M303.60 495.90H310.10V499.45H303.60z"/>
<path fill="#0040ff" d="M309.50 495.90H313.05V499.45H309.50z"/>
<path fill="#0030ff" d="M312.45 495.90H318.95V499.45H312.45z"/>
<path fill="#0020ff" d="M318.35 495.90H327.80V499.45H318.35z"/>
<path fill="#0030ff" d="M209.20 498.85H218.65V502.40H209.20z"/>
<path fill="#0040ff" d="M218.05 498.85H227.50V502.40H218.05z"/>
<path fill="#0050ff" d="M226.90 498.85H236.35V502.40H226.90z"/>
<path fill="#0060ff" d="M235.75 498.85H242.25V502.40H235.75z"/>
<path fill="#0070ff" d="M241.65 498.85H251.10V502.40H241.65z"/>
<path fill="#0080ff" d="M250.50 498.85H254.05V502.40H250.50z"/>
<path fill="#008fff" d="M253.45 498.85H257.00V502.40H253.45z"/>
<path fill="#009fff" d="M256.40 498.85H259.95V502.40H256.40z"/>
<path fill="#00afff" d="M259.35 498.85H262.90V502.40H259.35z"/>
<path fill="#00bfff" d="M262.30 498.85H265.85V502.40H262.30z"/>
<path fill="#00dfff" d="M265.25 498.85H268.80V502.40H265.25z"/>
<path fill="#00ffff" d="M268.20 498.85H271.75V502.40H268.20z"/>
<path fill="#20ffdf" d="M271.15 498.85H274.70V502.40H271.15z"/>
<path fill="#30ffcf" d="M274.10 498.85H277.65V502.40H274.10z"/>
<path fill="#20ffdf" d="M277.05 498.85H280.60V502.40H277.05z"/>
<path fill="#00efff" d="M280.00 498.85H283.55V502.40H280.00z"/>
<path fill="#00cfff" d="M282.95 498.85H286.50V502.40H282.95z"/>
<path fill="#00afff" d="M285.90 498.85H289.45V502.40H285.90z"/>
<path fill="#008fff" d="M288.85 498.85H292.40V502.40H288.85z"/>
<path fill="#0080ff" d="M291.80 498.85H295.35V502.40H291.80z"/>
<path fill="#0070ff" d="M294.75 498.85H301.25V502.40H294.75z"/>
<path fill="#0060ff" d="M300.65 498.85H304.20V502.40H300.65z"/>
<path fill="#0050ff" d="M303.60 498.85H310.10V502.40H303.60z"/>
<path fill="#0040ff" d="M309.50 498.85H316.00V502.40H309.50z"/>
<path fill="#0030ff" d="M315.40 498.85H321.90V502.40H315.40z"/>
<path fill="#0020ff" d="M321.30 498.85H327.80V502.40H321.30z"/>
<path fill="#0030ff" d="M209.20 501.80H218.65V505.35H209.20z"/>
<path fill="#0040ff" d="M218.05 501.80H227.50V505.35H218.05z"/>
<path fill="#0050ff" d="M226.90 501.80H236.35V505.35H226.90z"/>
<path fill="#0060ff" d="M235.75 501.80H242.25V505.35H235.75z"/>
<path fill="#0070ff" d="M241.65 501.80H248.15V505.35H241.65z"/>
<path fill="#0080ff" d="M247.55 501.80H254.05V505.35H247.55z"/>
<path fill="#008fff" d="M253.45 501.80H257.00V505.35H253.45z"/>
<path fill="#009fff" d="M256.40 501.80H259.95V505.35H256.40z"/>
<path fill="#00afff" d="M259.35 501.80H262.90V505.35H259.35z"/>
<path fill="#00cfff" d="M262.30 501.80H265.85V505.35H262.30z"/>
<path fill="#ff8f00" d="M265.25 501.80H268.80V505.35H265.25z"/>
<path fill="#80ff80" d="M268.20 501.80H271.75V505.35H268.20z"/>
<path fill="#afff50" d="M271.15 501.80H277.65V505.35H271.15z"/>
<path fill="#80ff80" d="M277.05 501.80H280.60V505.35H277.05z"/>
<path fill="#30ffcf" d="M280.00 501.80H283.55V505.35H280.00z"/>
<path fill="#00efff" d="M282.95 501.80H286.50V505.35H282.95z"/>
<path fill="#00bfff" d="M285.90 501.80H289.45V505.35H285.90z"/>
<path fill="#009fff" d="M288.85 501.80H292.40V505.35H288.85z"/>
<path fill="#008fff" d="M291.80 501.80H295.35V505.35H291.80z"/>
<path fill="#0080ff" d="M294.75 501.80H298.30V505.35H294.75z"/>
<path fill="#0070ff" d="M297.70 501.80H301.25V505.35H297.70z"/>
<path fill="#0060ff" d="M300.65 501.80H304.20V505.35H300.65z"/>
<path fill="#0050ff" d="M303.60 501.80H310.10V505.35H303.60z"/>
<path fill="#0040ff" d="M309.50 501.80H316.00V505.35H309.50z"/>
<path fill="#0030ff" d="M315.40 501.80H324.85V505.35H315.40z"/>
<path fill="#0020ff" d="M324.25 501.80H327.80V505.35H324.25z"/>
<path fill="#0030ff" d="M209.20 504.75H221.60V508.30H209.20z"/>
<path fill="#0040ff" d="M221.00 504.75H227.50V508.30H221.00z"/>
<path fill="#0050ff" d="M226.90 504.75H236.35V508.30H226.90z"/>
<path fill="#0060ff" d="M235.75 504.75H242.25V508.30H235.75z"/>
<path fill="#0070ff" d="M241.65 504.75H248.15V508.30H241.65z"/>
<path fill="#0080ff" d="M247.55 504.75H254.05V508.30H247.55z"/>
<path fill="#008fff" d="M253.45 504.75H257.00V508.30H253.45z"/>
<path fill="#009fff" d="M256.40 504.75H259.95V508.30H256.40z"/>
<path fill="#00bfff" d="M259.35 504.75H262.90V508.30H259.35z"/>
<path fill="#00dfff" d="M262.30 504.75H265.85V508.30H262.30z"/>
<path fill="#70ff8f" d="M265.25 504.75H268.80V508.30H265.25z"/>
<path fill="#ffaf00" d="M268.20 504.75H271.75V508.30H268.20z"/>
<path fill="#800000" d="M271.15 504.75H277.65V508.30H271.15z"/>
<path fill="#ffcf00" d="M277.05 504.75H280.60V508.30H277.05z"/>
<path fill="#80ff80" d="M280.00 504.75H283.55V508.30H280.00z"/>
<path fill="#00ffff" d="M282.95 504.75H286.50V508.30H282.95z"/>
<path fill="#00cfff" d="M285.90 504.75H289.45V508.30H285.90z"/>
<path fill="#009fff" d="M288.85 504.75H292.40V508.30H288.85z"/>
<path fill="#008fff" d="M291.80 504.75H295.35V508.30H291.80z"/>
<path fill="#0080ff" d="M294.75 504.75H298.30V508.30H294.75z"/>
<path fill="#0070ff" d="M297.70 504.75H301.25V508.30H297.70z"/>
<path fill="#0060ff" d="M300.65 504.75H304.20V508.30H300.65z"/>
<path fill="#0050ff" d="M303.60 504.75H310.10V508.30H303.60z"/>
<path fill="#0040ff" d="M309.50 504.75H316.00V508.30H309.50z"/>
<path fill="#0030ff" d="M315.40 504.75H327.80V508.30H315.40z"/>
<path fill="#0030ff" d="M209.20 507.70H221.60V511.25H209.20z"/>
<path fill="#0040ff" d="M221.00 507.70H227.50V511.25H221.00z"/>
<path fill="#0050ff" d="M226.90 507.70H236.35V511.25H226.90z"/>
<path fill="#0060ff" d="M235.75 507.70H242.25V511.25H235.75z"/>
<path fill="#0070ff" d="M241.65 507.70H248.15V511.25H241.65z"/>
<path fill="#0080ff" d="M247.55 507.70H254.05V511.25H247.55z"/>
<path fill="#008fff" d="M253.45 507.70H257.00V511.25H253.45z"/>
<path fill="#009fff" d="M256.40 507.70H259.95V511.25H256.40z"/>
<path fill="#00bfff" d="M259.35 507.70H262.90V511.25H259.35z"/>
<path fill="#00dfff" d="M262.30 507.70H265.85V511.25H262.30z"/>
<path fill="#70ff8f" d="M265.25 507.70H268.80V511.25H265.25z"/>
<path fill="#ff8f00" d="M268.20 507.70H271.75V511.25H268.20z"/>
<path fill="#ffaf00" d="M271.15 507.70H274.70V511.25H271.15z"/>
<path fill="#00dfff" d="M274.10 507.70H277.65V511.25H274.10z"/>
<path fill="#ff0000" d="M277.05 507.70H280.60V511.25H277.05z"/>
<path fill="#8fff70" d="M280.00 507.70H283.55V511.25H280.00z"/>
<path fill="#10ffef" d="M282.95 507.70H286.50V511.25H282.95z"/>
<path fill="#00cfff" d="M285.90 507.70H289.45V511.25H285.90z"/>
<path fill="#009fff" d="M288.85 507.70H292.40V511.25H288.85z"/>
<path fill="#008fff" d="M291.80 507.70H295.35V511.25H291.80z"/>
<path fill="#0080ff" d="M294.75 507.70H298.30V511.25H294.75z"/>
<path fill="#0070ff" d="M297.70 507.70H301.25V511.25H297.70z"/>
<path fill="#0060ff" d="M300.65 507.70H304.20V511.25H300.65z"/>
<path fill="#0050ff" d="M303.60 507.70H310.10V511.25H303.60z"/>
<path fill="#0040ff" d="M309.50 507.70H318.95V511.25H309.50z"/>
<path fill="#0030ff" d="M318.35 507.70H327.80V511.25H318.35z"/>
<path fill="#0030ff" d="M209.20 510.65H221.60V514.20H209.20z"/>
<path fill="#0040ff" d="M221.00 510.65H230.45V514.20H221.00z"/>
<path fill="#0050ff" d="M229.85 510.65H236.35V514.20H229.85z"/>
<path fill="#0060ff" d="M235.75 510.65H245.20V514.20H235.75z"/>
<path fill="#0070ff" d="M244.60 510.65H251.10V514.20H244.60z"/>
<path fill="#0080ff" d="M250.50 510.65H254.05V514.20H250.50z"/>
<path fill="#008fff" d="M253.45 510.65H257.00V514.20H253.45z"/>
<path fill="#009fff" d="M256.40 510.65H259.95V514.20H256.40z"/>
<path fill="#00afff" d="M259.35 510.65H262.90V514.20H259.35z"/>
<path fill="#00cfff" d="M262.30 510.65H265.85V514.20H262.30z"/>
<path fill="#50ffaf" d="M265.25 510.65H268.80V514.20H265.25z"/>
<path fill="#afff50" d="M268.20 510.65H271.75V514.20H268.20z"/>
<path fill="#efff10" d="M271.15 510.65H274.70V514.20H271.15z"/>
<path fill="#ffff00" d="M274.10 510.65H277.65V514.20H274.10z"/>
<path fill="#ffef00" d="M277.05 510.65H280.60V514.20H277.05z"/>
<path fill="#70ff8f" d="M280.00 510.65H283.55V514.20H280.00z"/>
<path fill="#00ffff" d="M282.95 510.65H286.50V514.20H282.95z"/>
<path fill="#00bfff" d="M285.90 510.65H289.45V514.20H285.90z"/>
<path fill="#009fff" d="M288.85 510.65H292.40V514.20H288.85z"/>
<path fill="#008fff" d="M291.80 510.65H295.35V514.20H291.80z"/>
<path fill="#0080ff" d="M294.75 510.65H298.30V514.20H294.75z"/>
<path fill="#0070ff" d="M297.70 510.65H301.25V514.20H297.70z"/>
<path fill="#0060ff" d="M300.65 510.65H304.20V514.20H300.65z"/>
<path fill="#0050ff" d="M303.60 510.65H310.10V514.20H303.60z"/>
<path fill="#0040ff" d="M309.50 510.65H318.95V514.20H309.50z"/>
<path fill="#0030ff" d="M318.35 510.65H327.80V514.20H318.35z"/>
<path fill="#0020ff" d="M209.20 513.60H212.75V517.15H209.20z"/>
<path fill="#0030ff" d="M212.15 513.60H221.60V517.15H212.15z"/>
<path fill="#0010ff" d="M221.00 513.60H224.55V517.15H221.00z"/>
<path fill="#0040ff" d="M223.95 513.60H230.45V517.15H223.95z"/>
<path fill="#0050ff" d="M229.85 513.60H239.30V517.15H229.85z"/>
<path fill="#0060ff" d="M238.70 513.60H245.20V517.15H238.70z"/>
<path fill="#0070ff" d="M244.60 513.60H251.10V517.15H244.60z"/>
<path fill="#0080ff" d="M250.50 513.60H254.05V517.15H250.50z"/>
<path fill="#008fff" d="M253.45 513.60H259.95V517.15H253.45z"/>
<path fill="#00afff" d="M259.35 513.60H262.90V517.15H259.35z"/>
<path fill="#00bfff" d="M262.30 513.60H265.85V517.15H262.30z"/>
<path fill="#00efff" d="M265.25 513.60H268.80V517.15H265.25z"/>
<path fill="#20ffdf" d="M268.20 513.60H271.75V517.15H268.20z"/>
<path fill="#70ff8f" d="M271.15 513.60H277.65V517.15H271.15z"/>
<path fill="#50ffaf" d="M277.05 513.60H280.60V517.15H277.05z"/>
<path fill="#10ffef" d="M280.00 513.60H283.55V517.15H280.00z"/>
<path fill="#00dfff" d="M282.95 513.60H286.50V517.15H282.95z"/>
<path fill="#00afff" d="M285.90 513.60H289.45V517.15H285.90z"/>
<path fill="#008fff" d="M288.85 513.60H292.40V517.15H288.85z"/>
<path fill="#0080ff" d="M291.80 513.60H295.35V517.15H291.80z"/>
<path fill="#0070ff" d="M294.75 513.60H298.30V517.15H294.75z"/>
<path fill="#0060ff" d="M297.70 513.60H304.20V517.15H297.70z"/>
<path fill="#0050ff" d="M303.60 513.60H310.10V517.15H303.60z"/>
<path fill="#0040ff" d="M309.50 513.60H318.95V517.15H309.50z"/>
<path fill="#0030ff" d="M318.35 513.60H327.80V517.15H318.35z"/>
<path fill="#0020ff" d="M209.20 516.55H218.65V520.10H209.20z"/>
<path fill="#0030ff" d="M218.05 516.55H224.55V520.10H218.05z"/>
<path fill="#0040ff" d="M223.95 516.55H230.45V520.10H223.95z"/>
<path fill="#0050ff" d="M229.85 516.55H239.30V520.10H229.85z"/>
<path fill="#0060ff" d="M238.70 516.55H248.15V520.10H238.70z"/>
<path fill="#0070ff" d="M247.55 516.55H254.05V520.10H247.55z"/>
<path fill="#0080ff" d="M253.45 516.55H257.00V520.10H253.45z"/>
<path fill="#008fff" d="M256.40 516.55H259.95V520.10H256.40z"/>
<path fill="#009fff" d="M259.35 516.55H262.90V520.10H259.35z"/>
<path fill="#00afff" d="M262.30 516.55H265.85V520.10H262.30z"/>
<path fill="#00cfff" d="M265.25 516.55H268.80V520.10H265.25z"/>
<path fill="#0000ef" d="M268.20 516.55H271.75V520.10H268.20z"/>
<path fill="#00ffff" d="M271.15 516.55H277.65V520.10H271.15z"/>
<path fill="#00efff" d="M277.05 516.55H280.60V520.10H277.05z"/>
<path fill="#00dfff" d="M280.00 516.55H283.55V520.10H280.00z"/>
<path fill="#00bfff" d="M282.95 516.55H286.50V520.10H282.95z"/>
<path fill="#009fff" d="M285.90 516.55H289.45V520.10H285.90z"/>
<path fill="#008fff" d="M288.85 516.55H292.40V520.10H288.85z"/>
<path fill="#0080ff" d="M291.80 516.55H295.35V520.10H291.80z"/>
<path fill="#0070ff" d="M294.75 516.55H298.30V520.10H294.75z"/>
<path fill="#0060ff" d="M297.70 516.55H304.20V520.10H297.70z"/>
<path fill="#0050ff" d="M303.60 516.55H310.10V520.10H303.60z"/>
<path fill="#0040ff" d="M309.50 516.55H318.95V520.10H309.50z"/>
<path fill="#0030ff" d="M318.35 516.55H327.80V520.10H318.35z"/>
<path fill="#0020ff" d="M209.20 519.50H218.65V523.05H209.20z"/>
<path fill="#0030ff" d="M218.05 519.50H227.50V523.05H218.05z"/>
<path fill="#0040ff" d="M226.90 519.50H233.40V523.05H226.90z"/>
<path fill="#0050ff" d="M232.80 519.50H242.25V523.05H232.80z"/>
<path fill="#0060ff" d="M241.65 519.50H248.15V523.05H241.65z"/>
<path fill="#0070ff" d="M247.55 519.50H254.05V523.05H247.55z"/>
<path fill="#0080ff" d="M253.45 519.50H259.95V523.05H253.45z"/>
<path fill="#008fff" d="M259.35 519.50H262.90V523.05H259.35z"/>
<path fill="#009fff" d="M262.30 519.50H265.85V523.05H262.30z"/>
<path fill="#00afff" d="M265.25 519.50H268.80V523.05H265.25z"/>
<path fill="#00bfff" d="M268.20 519.50H271.75V523.05H268.20z"/>
<path fill="#20ffdf" d="M271.15 519.50H274.70V523.05H271.15z"/>
<path fill="#00bfff" d="M274.10 519.50H280.60V523.05H274.10z"/>
<path fill="#00afff" d="M280.00 519.50H283.55V523.05H280.00z"/>
<path fill="#009fff" d="M282.95 519.50H286.50V523.05H282.95z"/>
<path fill="#008fff" d="M285.90 519.50H289.45V523.05H285.90z"/>
<path fill="#0080ff" d="M288.85 519.50H292.40V523.05H288.85z"/>
<path fill="#0070ff" d="M291.80 519.50H295.35V523.05H291.80z"/>
<path fill="#0060ff" d="M294.75 519.50H301.25V523.05H294.75z"/>
<path fill="#0050ff" d="M300.65 519.50H310.10V523.05H300.65z"/>
<path fill="#0040ff" d="M309.50 519.50H318.95V523.05H309.50z"/>
<path fill="#0030ff" d="M318.35 519.50H327.80V523.05H318.35z"/>
<path fill="#0020ff" d="M209.20 522.45H221.60V526.00H209.20z"/>
<path fill="#0030ff" d="M221.00 522.45H227.50V526.00H221.00z"/>
<path fill="#0040ff" d="M226.90 522.45H233.40V526.00H226.90z"/>
<path fill="#0050ff" d="M232.80 522.45H242.25V526.00H232.80z"/>
<path fill="#0060ff" d="M241.65 522.45H251.10V526.00H241.65z"/>
<path fill="#0070ff" d="M250.50 522.45H257.00V526.00H250.50z"/>
<path fill="#0080ff" d="M256.40 522.45H259.95V526.00H256.40z"/>
<path fill="#00bfff" d="M259.35 522.45H262.90V526.00H259.35z"/>
<path fill="#008fff" d="M262.30 522.45H268.80V526.00H262.30z"/>
<path fill="#009fff" d="M268.20 522.45H280.60V526.00H268.20z"/>
<path fill="#008fff" d="M280.00 522.45H286.50V526.00H280.00z"/>
<path fill="#0080ff" d="M285.90 522.45H289.45V526.00H285.90z"/>
<path fill="#0070ff" d="M288.85 522.45H292.40V526.00H288.85z"/>
<path fill="#0060ff" d="M291.80 522.45H298.30V526.00H291.80z"/>
<path fill="#0050ff" d="M297.70 522.45H307.15V526.00H297.70z"/>
<path fill="#0040ff" d="M306.55 522.45H318.95V526.00H306.55z"/>
<path fill="#0030ff" d="M318.35 522.45H327.80V526.00H318.35z"/>
<path fill="#0020ff" d="M209.20 525.40H224.55V528.95H209.20z"/>
<path fill="#0030ff" d="M223.95 525.40H227.50V528.95H223.95z"/>
<path fill="#0040ff" d="M226.90 525.40H236.35V528.95H226.90z"/>
<path fill="#0050ff" d="M235.75 525.40H245.20V528.95H235.75z"/>
<path fill="#0060ff" d="M244.60 525.40H254.05V528.95H244.60z"/>
<path fill="#0070ff" d="M253.45 525.40H262.90V528.95H253.45z"/>
<path fill="#0080ff" d="M262.30 525.40H271.75V528.95H262.30z"/>
<path fill="#008fff" d="M271.15 525.40H277.65V528.95H271.15z"/>
<path fill="#0080ff" d="M277.05 525.40H283.55V528.95H277.05z"/>
<path fill="#0070ff" d="M282.95 525.40H286.50V528.95H282.95z"/>
<path fill="#0060ff" d="M285.90 525.40H292.40V528.95H285.90z"/>
<path fill="#0050ff" d="M291.80 525.40H298.30V528.95H291.80z"/>
<path fill="#0040ff" d="M297.70 525.40H313.05V528.95H297.70z"/>
<path fill="#0030ff" d="M312.45 525.40H327.80V528.95H312.45z"/>
<path fill="#0020ff" d="M209.20 528.35H212.75V531.90H209.20z"/>
<path fill="#0010ff" d="M212.15 528.35H215.70V531.90H212.15z"/>
<path fill="#0020ff" d="M215.10 528.35H224.55V531.90H215.10z"/>
<path fill="#0030ff" d="M223.95 528.35H230.45V531.90H223.95z"/>
<path fill="#0040ff" d="M229.85 528.35H239.30V531.90H229.85z"/>
<path fill="#0050ff" d="M238.70 528.35H248.15V531.90H238.70z"/>
<path fill="#0060ff" d="M247.55 528.35H259.95V531.90H247.55z"/>
<path fill="#0070ff" d="M259.35 528.35H271.75V531.90H259.35z"/>
<path fill="#0080ff" d="M271.15 528.35H274.70V531.90H271.15z"/>
<path fill="#0070ff" d="M274.10 528.35H283.55V531.90H274.10z"/>
<path fill="#0060ff" d="M282.95 528.35H286.50V531.90H282.95z"/>
<path fill="#0050ff" d="M285.90 528.35H289.45V531.90H285.90z"/>
<path fill="#0040ff" d="M288.85 528.35H295.35V531.90H288.85z"/>
<path fill="#0030ff" d="M294.75 528.35H298.30V531.90H294.75z"/>
<path fill="#0020ff" d="M297.70 528.35H310.10V531.90H297.70z"/>
<path fill="#0030ff" d="M309.50 528.35H327.80V531.90H309.50z"/>
<path fill="#0010ff" d="M209.20 531.30H218.65V534.85H209.20z"/>
<path fill="#0020ff" d="M218.05 531.30H224.55V534.85H218.05z"/>
<path fill="#0030ff" d="M223.95 531.30H230.45V534.85H223.95z"/>
<path fill="#0040ff" d="M229.85 531.30H239.30V534.85H229.85z"/>
<path fill="#0050ff" d="M238.70 531.30H254.05V534.85H238.70z"/>
<path fill="#0060ff" d="M253.45 531.30H265.85V534.85H253.45z"/>
<path fill="#0070ff" d="M265.25 531.30H277.65V534.85H265.25z"/>
<path fill="#0060ff" d="M277.05 531.30H283.55V534.85H277.05z"/>
<path fill="#0050ff" d="M282.95 531.30H286.50V534.85H282.95z"/>
<path fill="#0040ff" d="M285.90 531.30H289.45V534.85H285.90z"/>
<path fill="#0030ff" d="M288.85 531.30H292.40V534.85H288.85z"/>
<path fill="#0020ff" d="M291.80 531.30H295.35V534.85H291.80z"/>
<path fill="#0010ff" d="M294.75 531.30H298.30V534.85H294.75z"/>
<path fill="#0000ff" d="M297.70 531.30H310.10V534.85H297.70z"/>
<path fill="#0010ff" d="M309.50 531.30H313.05V534.85H309.50z"/>
<path fill="#0020ff" d="M312.45 531.30H324.85V534.85H312.45z"/>
<path fill="#0030ff" d="M324.25 531.30H327.80V534.85H324.25z"/>
<path fill="#0010ff" d="M209.20 534.25H221.60V537.80H209.20z"/>
<path fill="#0020ff" d="M221.00 534.25H227.50V537.80H221.00z"/>
<path fill="#0030ff" d="M226.90 534.25H233.40V537.80H226.90z"/>
<path fill="#0040ff" d="M232.80 534.25H245.20V537.80H232.80z"/>
<path fill="#0050ff" d="M244.60 534.25H259.95V537.80H244.60z"/>
<path fill="#0060ff" d="M259.35 534.25H280.60V537.80H259.35z"/>
<path fill="#0050ff" d="M280.00 534.25H283.55V537.80H280.00z"/>
<path fill="#0040ff" d="M282.95 534.25H286.50V537.80H282.95z"/>
<path fill="#0030ff" d="M285.90 534.25H289.45V537.80H285.90z"/>
<path fill="#0020ff" d="M288.85 534.25H292.40V537.80H288.85z"/>
<path fill="#0010ff" d="M291.80 534.25H295.35V537.80H291.80z"/>
<path fill="#0000ef" d="M294.75 534.25H298.30V537.80H294.75z"/>
<path fill="#0000df" d="M297.70 534.25H301.25V537.80H297.70z"/>
<path fill="#0000cf" d="M300.65 534.25H307.15V537.80H300.65z"/>
<path fill="#0000df" d="M306.55 534.25H310.10V537.80H306.55z"/>
<path fill="#0000ef" d="M309.50 534.25H313.05V537.80H309.50z"/>
<path fill="#0000ff" d="M312.45 534.25H318.95V537.80H312.45z"/>
<path fill="#0010ff" d="M318.35 534.25H321.90V537.80H318.35z"/>
<path fill="#0020ff" d="M321.30 534.25H327.80V537.80H321.30z"/>
<path fill="#0010ff" d="M209.20 537.20H221.60V540.75H209.20z"/>
<path fill="#0020ff" d="M221.00 537.20H227.50V540.75H221.00z"/>
<path fill="#0030ff" d="M226.90 537.20H233.40V540.75H226.90z"/>
<path fill="#0040ff" d="M232.80 537.20H248.15V540.75H232.80z"/>
<path fill="#0050ff" d="M247.55 537.20H283.55V540.75H247.55z"/>
<path fill="#0040ff" d="M282.95 537.20H286.50V540.75H282.95z"/>
<path fill="#0030ff" d="M285.90 537.20H289.45V540.75H285.90z"/>
<path fill="#0020ff" d="M288.85 537.20H292.40V540.75H288.85z"/>
<path fill="#0000ff" d="M291.80 537.20H295.35V540.75H291.80z"/>
<path fill="#0000ef" d="M294.75 537.20H298.30V540.75H294.75z"/>
<path fill="#0000cf" d="M297.70 537.20H301.25V540.75H297.70z"/>
<path fill="#0000bf" d="M300.65 537.20H310.10V540.75H300.65z"/>
<path fill="#0000cf" d="M309.50 537.20H313.05V540.75H309.50z"/>
<path fill="#0000df" d="M312.45 537.20H316.00V540.75H312.45z"/>
<path fill="#0000ef" d="M315.40 537.20H318.95V540.75H315.40z"/>
<path fill="#0000ff" d="M318.35 537.20H324.85V540.75H318.35z"/>
<path fill="#0010ff" d="M324.25 537.20H327.80V540.75H324.25z"/>
<path fill="#0010ff" d="M209.20 540.15H221.60V543.70H209.20z"/>
<path fill="#0020ff" d="M221.00 540.15H227.50V543.70H221.00z"/>
<path fill="#0030ff" d="M226.90 540.15H236.35V543.70H226.90z"/>
<path fill="#0040ff" d="M235.75 540.15H254.05V543.70H235.75z"/>
<path fill="#0050ff" d="M253.45 540.15H280.60V543.70H253.45z"/>
<path fill="#0040ff" d="M280.00 540.15H286.50V543.70H280.00z"/>
<path fill="#0030ff" d="M285.90 540.15H289.45V543.70H285.90z"/>
<path fill="#0020ff" d="M288.85 540.15H292.40V543.70H288.85z"/>
<path fill="#0010ff" d="M291.80 540.15H295.35V543.70H291.80z"/>
<path fill="#0000ef" d="M294.75 540.15H298.30V543.70H294.75z"/>
<path fill="#0000df" d="M297.70 540.15H301.25V543.70H297.70z"/>
<path fill="#0000bf" d="M300.65 540.15H307.15V543.70H300.65z"/>
<path fill="#0000af" d="M306.55 540.15H313.05V543.70H306.55z"/>
<path fill="#0000bf" d="M312.45 540.15H316.00V543.70H312.45z"/>
<path fill="#0000cf" d="M315.40 540.15H318.95V543.70H315.40z"/>
<path fill="#0000df" d="M318.35 540.15H321.90V543.70H318.35z"/>
<path fill="#0000ef" d="M321.30 540.15H324.85V543.70H321.30z"/>
<path fill="#0000ff" d="M324.25 540.15H327.80V543.70H324.25z"/>
<path fill="#0010ff" d="M209.20 543.10H221.60V546.65H209.20z"/>
<path fill="#0020ff" d="M221.00 543.10H227.50V546.65H221.00z"/>
<path fill="#0030ff" d="M226.90 543.10H239.30V546.65H226.90z"/>
<path fill="#0040ff" d="M238.70 543.10H286.50V546.65H238.70z"/>
<path fill="#0030ff" d="M285.90 543.10H292.40V546.65H285.90z"/>
<path fill="#0020ff" d="M291.80 543.10H295.35V546.65H291.80z"/>
<path fill="#0010ff" d="M294.75 543.10H298.30V546.65H294.75z"/>
<path fill="#0000ef" d="M297.70 543.10H301.25V546.65H297.70z"/>
<path fill="#0000df" d="M300.65 543.10H304.20V546.65H300.65z"/>
<path fill="#0000cf" d="M303.60 543.10H307.15V546.65H303.60z"/>
<path fill="#0000bf" d="M306.55 543.10H318.95V546.65H306.55z"/>
<path fill="#0000cf" d="M318.35 543.10H321.90V546.65H318.35z"/>
<path fill="#0000df" d="M321.30 543.10H324.85V546.65H321.30z"/>
<path fill="#0000ef" d="M324.25 543.10H327.80V546.65H324.25z"/>
<path fill="#0010ff" d="M209.20 546.05H221.60V549.60H209.20z"/>
<path fill="#0020ff" d="M221.00 546.05H230.45V549.60H221.00z"/>
<path fill="#0030ff" d="M229.85 546.05H245.20V549.60H229.85z"/>
<path fill="#0040ff" d="M244.60 546.05H283.55V549.60H244.60z"/>
<path fill="#0030ff" d="M282.95 546.05H292.40V549.60H282.95z"/>
<path fill="#0020ff" d="M291.80 546.05H295.35V549.60H291.80z"/>
<path fill="#0010ff" d="M294.75 546.05H301.25V549.60H294.75z"/>
<path fill="#0000ef" d="M300.65 546.05H304.20V549.60H300.65z"/>
<path fill="#0000df" d="M303.60 546.05H307.15V549.60H303.60z"/>
<path fill="#0000cf" d="M306.55 546.05H313.05V549.60H306.55z"/>
<path fill="#0000bf" d="M312.45 546.05H316.00V549.60H312.45z"/>
<path fill="#0000cf" d="M315.40 546.05H321.90V549.60H315.40z"/>
<path fill="#0000df" d="M321.30 546.05H324.85V549.60H321.30z"/>
<path fill="#0000ef" d="M324.25 546.05H327.80V549.60H324.25z"/>
<path fill="#0010ff" d="M209.20 549.00H224.55V552.55H209.20z"/>
<path fill="#0020ff" d="M223.95 549.00H230.45V552.55H223.95z"/>
<path fill="#0030ff" d="M229.85 549.00H289.45V552.55H229.85z"/>
<path fill="#0020ff" d="M288.85 549.00H298.30V552.55H288.85z"/>
<path fill="#0010ff" d="M297.70 549.00H301.25V552.55H297.70z"/>
<path fill="#0000ff" d="M300.65 549.00H304.20V552.55H300.65z"/>
<path fill="#0000ef" d="M303.60 549.00H307.15V552.55H303.60z"/>
<path fill="#0000df" d="M306.55 549.00H313.05V552.55H306.55z"/>
<path fill="#0000cf" d="M312.45 549.00H321.90V552.55H312.45z"/>
<path fill="#0000df" d="M321.30 549.00H324.85V552.55H321.30z"/>
<path fill="#0000ef" d="M324.25 549.00H327.80V552.55H324.25z"/>
<path fill="#0010ff" d="M209.20 551.95H224.55V555.50H209.20z"/>
<path fill="#0020ff" d="M223.95 551.95H233.40V555.50H223.95z"/>
<path fill="#0030ff" d="M232.80 551.95H274.70V555.50H232.80z"/>
<path fill="#0020ff" d="M274.10 551.95H292.40V555.50H274.10z"/>
<path fill="#0010ff" d="M291.80 551.95H301.25V555.50H291.80z"/>
<path fill="#0000ff" d="M300.65 551.95H307.15V555.50H300.65z"/>
<path fill="#0000ef" d="M306.55 551.95H310.10V555.50H306.55z"/>
<path fill="#0000df" d="M309.50 551.95H324.85V555.50H309.50z"/>
<path fill="#0000ef" d="M324.25 551.95H327.80V555.50H324.25z"/>
<path fill="#0010ff" d="M209.20 554.90H224.55V558.45H209.20z"/>
<path fill="#0020ff" d="M223.95 554.90H233.40V558.45H223.95z"/>
<path fill="#0030ff" d="M232.80 554.90H259.95V558.45H232.80z"/>
<path fill="#0020ff" d="M259.35 554.90H280.60V558.45H259.35z"/>
<path fill="#0010ff" d="M280.00 554.90H295.35V558.45H280.00z"/>
<path fill="#0000ff" d="M294.75 554.90H307.15V558.45H294.75z"/>
<path fill="#0000ef" d="M306.55 554.90H327.80V558.45H306.55z"/>
<path fill="#0010ff" d="M209.20 557.85H221.60V561.40H209.20z"/>
<path fill="#0020ff" d="M221.00 557.85H236.35V561.40H221.00z"/>
<path fill="#0030ff" d="M235.75 557.85H248.15V561.40H235.75z"/>
<path fill="#0020ff" d="M247.55 557.85H271.75V561.40H247.55z"/>
<path fill="#0010ff" d="M271.15 557.85H289.45V561.40H271.15z"/>
<path fill="#0000ff" d="M288.85 557.85H307.15V561.40H288.85z"/>
<path fill="#0000ef" d="M306.55 557.85H324.85V561.40H306.55z"/>
<path fill="#0000ff" d="M324.25 557.85H327.80V561.40H324.25z"/>
<path fill="#0010ff" d="M209.20 560.80H221.60V564.35H209.20z"/>
<path fill="#0020ff" d="M221.00 560.80H271.75V564.35H221.00z"/>
<path fill="#0010ff" d="M271.15 560.80H289.45V564.35H271.15z"/>
<path fill="#0000ff" d="M288.85 560.80H327.80V564.35H288.85z"/>
<path fill="#0010ff" d="M209.20 563.75H221.60V567.30H209.20z"/>
<path fill="#0020ff" d="M221.00 563.75H274.70V567.30H221.00z"/>
<path fill="#0010ff" d="M274.10 563.75H301.25V567.30H274.10z"/>
<path fill="#0000ff" d="M300.65 563.75H318.95V567.30H300.65z"/>
<path fill="#0010ff" d="M318.35 563.75H327.80V567.30H318.35z"/>
</g>
<g clip-path="url(#clipC)">
<g fill="none" stroke-width="1.4" opacity="0.45" stroke-dasharray="2.5 1">
<path d="M252.20 457.50L253.26 460.66" stroke="#009fff"/>
<path d="M253.21 460.53L256.16 469.33" stroke="#00afff"/>
<path d="M256.12 469.20L256.45 470.20" stroke="#00bfff"/>
<path d="M256.40 470.07L256.74 471.06" stroke="#00cfff"/>
<path d="M256.70 470.93L256.88 471.50" stroke="#00dfff"/>
<path d="M256.84 471.37L257.17 472.36" stroke="#00efff"/>
<path d="M257.13 472.23L257.32 472.80" stroke="#00ffff"/>
<path d="M257.28 472.67L257.61 473.66" stroke="#10ffef"/>
<path d="M257.56 473.53L258.04 474.96" stroke="#00ffff"/>
<path d="M258.00 474.83L260.90 483.50" stroke="#00efff"/>
</g>
<g fill="none" stroke-width="1.4" opacity="0.4" stroke-dasharray="2.2 1.4">
<path d="M266.40 503.50L269.17 513.30" stroke="#20ffdf"/>
<path d="M269.09 512.98L269.77 515.40" stroke="#10ffef"/>
<path d="M269.68 515.09L270.07 516.46" stroke="#00ffff"/>
<path d="M269.98 516.14L270.37 517.51" stroke="#00efff"/>
<path d="M270.28 517.19L270.67 518.56" stroke="#00dfff"/>
<path d="M270.58 518.25L270.96 519.62" stroke="#00cfff"/>
<path d="M270.88 519.30L271.26 520.67" stroke="#00bfff"/>
<path d="M271.17 520.35L271.56 521.72" stroke="#00afff"/>
<path d="M271.47 521.41L271.86 522.78" stroke="#009fff"/>
<path d="M271.77 522.46L272.16 523.83" stroke="#008fff"/>
<path d="M272.07 523.51L272.75 525.94" stroke="#0080ff"/>
<path d="M272.66 525.62L273.65 529.10" stroke="#0070ff"/>
<path d="M273.56 528.78L279.32 549.11" stroke="#0060ff"/>
<path d="M279.23 548.79L284.30 566.70" stroke="#0050ff"/>
</g>
</g>
<text x="218.30" y="574.50" font-size="6.5" text-anchor="middle" fill="#262626" stroke="#262626" stroke-width="0.18" >124</text>
<text x="243.80" y="574.50" font-size="6.5" text-anchor="middle" fill="#262626" stroke="#262626" stroke-width="0.18" >126</text>
<text x="269.30" y="574.50" font-size="6.5" text-anchor="middle" fill="#262626" stroke="#262626" stroke-width="0.18" >128</text>
<text x="294.80" y="574.50" font-size="6.5" text-anchor="middle" fill="#262626" stroke="#262626" stroke-width="0.18" >130</text>
<text x="320.30" y="574.50" font-size="6.5" text-anchor="middle" fill="#262626" stroke="#262626" stroke-width="0.18" >132</text>
<text x="208.90" y="550.40" font-size="6.5" text-anchor="end" fill="#262626" stroke="#262626" stroke-width="0.18" >22</text>
<text x="208.90" y="524.90" font-size="6.5" text-anchor="end" fill="#262626" stroke="#262626" stroke-width="0.18" >24</text>
<text x="208.90" y="499.40" font-size="6.5" text-anchor="end" fill="#262626" stroke="#262626" stroke-width="0.18" >26</text>
<text x="208.90" y="473.90" font-size="6.5" text-anchor="end" fill="#262626" stroke="#262626" stroke-width="0.18" >28</text>
<text x="269.15" y="585.30" font-size="7.75" text-anchor="middle" fill="#262626" stroke="#262626" stroke-width="0.18" >Longitude (deg)</text>
<text transform="translate(197.30 507.30) rotate(-90)" font-size="7.75" text-anchor="middle" fill="#262626" stroke="#262626" stroke-width="0.18">Latitude (deg)</text>
<text x="269.15" y="436.50" font-size="7.75" text-anchor="middle" fill="#000" stroke="#000" stroke-width="0.18" xml:space="preserve">HWRF hinnamnor12w 20220831 09:00  UTC</text>
<text x="269.15" y="446.80" font-size="7.75" text-anchor="middle" fill="#000" stroke="#000" stroke-width="0.18" >GNOS-II: 08:41 - 08:44</text>
<linearGradient id="cbC2" x1="0" y1="0" x2="0" y2="1"><stop offset="0.0000" stop-color="#800000"/><stop offset="0.0312" stop-color="#9f0000"/><stop offset="0.0625" stop-color="#bf0000"/><stop offset="0.0938" stop-color="#df0000"/><stop offset="0.1250" stop-color="#ff0000"/><stop offset="0.1562" stop-color="#ff2000"/><stop offset="0.1875" stop-color="#ff4000"/><stop offset="0.2188" stop-color="#ff6000"/><stop offset="0.2500" stop-color="#ff8000"/><stop offset="0.2812" stop-color="#ff9f00"/><stop offset="0.3125" stop-color="#ffbf00"/><stop offset="0.3438" stop-color="#ffdf00"/><stop offset="0.3750" stop-color="#ffff00"/><stop offset="0.4062" stop-color="#dfff20"/><stop offset="0.4375" stop-color="#bfff40"/><stop offset="0.4688" stop-color="#9fff60"/><stop offset="0.5000" stop-color="#80ff80"/><stop offset="0.5312" stop-color="#60ff9f"/><stop offset="0.5625" stop-color="#40ffbf"/><stop offset="0.5938" stop-color="#20ffdf"/><stop offset="0.6250" stop-color="#00ffff"/><stop offset="0.6562" stop-color="#00dfff"/><stop offset="0.6875" stop-color="#00bfff"/><stop offset="0.7188" stop-color="#009fff"/><stop offset="0.7500" stop-color="#0080ff"/><stop offset="0.7812" stop-color="#0060ff"/><stop offset="0.8125" stop-color="#0040ff"/><stop offset="0.8438" stop-color="#0020ff"/><stop offset="0.8750" stop-color="#0000ff"/><stop offset="0.9062" stop-color="#0000df"/><stop offset="0.9375" stop-color="#0000bf"/><stop offset="0.9688" stop-color="#00009f"/><stop offset="1.0000" stop-color="#000080"/></linearGradient>
<rect x="330.50" y="450.10" width="6.80" height="114.60" fill="url(#cbC2)"/>
<text x="339.60" y="551.19" font-size="6.5" text-anchor="start" fill="#262626" stroke="#262626" stroke-width="0.18" >10</text>
<text x="339.60" y="534.31" font-size="6.5" text-anchor="start" fill="#262626" stroke="#262626" stroke-width="0.18" >20</text>
<text x="339.60" y="517.42" font-size="6.5" text-anchor="start" fill="#262626" stroke="#262626" stroke-width="0.18" >30</text>
<text x="339.60" y="500.53" font-size="6.5" text-anchor="start" fill="#262626" stroke="#262626" stroke-width="0.18" >40</text>
<text x="339.60" y="483.64" font-size="6.5" text-anchor="start" fill="#262626" stroke="#262626" stroke-width="0.18" >50</text>
<text x="339.60" y="466.75" font-size="6.5" text-anchor="start" fill="#262626" stroke="#262626" stroke-width="0.18" >60</text>
<text x="333.90" y="446.40" font-size="6.5" text-anchor="middle" fill="#262626" stroke="#262626" stroke-width="0.18" >m/s</text>
<line x1="395.60" y1="476.40" x2="395.60" y2="565.50" stroke="#ebebeb" stroke-width="0.5"/>
<line x1="419.67" y1="476.40" x2="419.67" y2="565.50" stroke="#ebebeb" stroke-width="0.5"/>
<line x1="443.73" y1="476.40" x2="443.73" y2="565.50" stroke="#ebebeb" stroke-width="0.5"/>
<line x1="467.80" y1="476.40" x2="467.80" y2="565.50" stroke="#ebebeb" stroke-width="0.5"/>
<line x1="491.87" y1="476.40" x2="491.87" y2="565.50" stroke="#ebebeb" stroke-width="0.5"/>
<line x1="515.93" y1="476.40" x2="515.93" y2="565.50" stroke="#ebebeb" stroke-width="0.5"/>
<line x1="540.00" y1="476.40" x2="540.00" y2="565.50" stroke="#ebebeb" stroke-width="0.5"/>
<line x1="395.60" y1="565.50" x2="540.00" y2="565.50" stroke="#ebebeb" stroke-width="0.5"/>
<line x1="395.60" y1="535.80" x2="540.00" y2="535.80" stroke="#ebebeb" stroke-width="0.5"/>
<line x1="395.60" y1="506.10" x2="540.00" y2="506.10" stroke="#ebebeb" stroke-width="0.5"/>
<line x1="395.60" y1="476.40" x2="540.00" y2="476.40" stroke="#ebebeb" stroke-width="0.5"/>
<rect x="395.60" y="476.40" width="144.40" height="89.10" fill="none" stroke="#bdbdbd" stroke-width="0.6"/>
<text x="395.60" y="575.50" font-size="6.5" text-anchor="middle" fill="#262626" stroke="#262626" stroke-width="0.18" >126.5</text>
<text x="419.67" y="575.50" font-size="6.5" text-anchor="middle" fill="#262626" stroke="#262626" stroke-width="0.18" >127</text>
<text x="443.73" y="575.50" font-size="6.5" text-anchor="middle" fill="#262626" stroke="#262626" stroke-width="0.18" >127.5</text>
<text x="467.80" y="575.50" font-size="6.5" text-anchor="middle" fill="#262626" stroke="#262626" stroke-width="0.18" >128</text>
<text x="491.87" y="575.50" font-size="6.5" text-anchor="middle" fill="#262626" stroke="#262626" stroke-width="0.18" >128.5</text>
<text x="515.93" y="575.50" font-size="6.5" text-anchor="middle" fill="#262626" stroke="#262626" stroke-width="0.18" >129</text>
<text x="540.00" y="575.50" font-size="6.5" text-anchor="middle" fill="#262626" stroke="#262626" stroke-width="0.18" >129.5</text>
<text x="393.10" y="567.80" font-size="6.5" text-anchor="end" fill="#262626" stroke="#262626" stroke-width="0.18" >0</text>
<text x="393.10" y="538.10" font-size="6.5" text-anchor="end" fill="#262626" stroke="#262626" stroke-width="0.18" >20</text>
<text x="393.10" y="508.40" font-size="6.5" text-anchor="end" fill="#262626" stroke="#262626" stroke-width="0.18" >40</text>
<text x="393.10" y="478.70" font-size="6.5" text-anchor="end" fill="#262626" stroke="#262626" stroke-width="0.18" >60</text>
<text x="467.80" y="585.30" font-size="7.75" text-anchor="middle" fill="#262626" stroke="#262626" stroke-width="0.18" >Longitude</text>
<text transform="translate(382.00 520.95) rotate(-90)" font-size="7.75" text-anchor="middle" fill="#262626" stroke="#262626" stroke-width="0.18">Wind speed (m/s)</text>
<path d="M402.87 550.96h0.86v0.86h-0.86zM403.11 550.88h0.86v0.86h-0.86zM403.35 550.80h0.86v0.86h-0.86zM403.59 550.72h0.86v0.86h-0.86zM403.83 550.64h0.86v0.86h-0.86zM404.07 550.56h0.86v0.86h-0.86zM404.32 550.49h0.86v0.86h-0.86zM404.56 550.41h0.86v0.86h-0.86zM404.80 550.33h0.86v0.86h-0.86zM405.04 550.25h0.86v0.86h-0.86zM405.28 550.17h0.86v0.86h-0.86zM405.52 550.09h0.86v0.86h-0.86zM405.76 550.01h0.86v0.86h-0.86zM406.00 549.93h0.86v0.86h-0.86zM406.24 549.85h0.86v0.86h-0.86zM406.48 549.77h0.86v0.86h-0.86zM406.72 549.69h0.86v0.86h-0.86zM406.96 549.61h0.86v0.86h-0.86zM407.20 549.53h0.86v0.86h-0.86zM407.44 549.45h0.86v0.86h-0.86zM407.68 549.37h0.86v0.86h-0.86zM407.93 549.29h0.86v0.86h-0.86zM408.17 549.21h0.86v0.86h-0.86zM408.41 549.13h0.86v0.86h-0.86zM408.65 549.05h0.86v0.86h-0.86zM408.89 548.97h0.86v0.86h-0.86zM409.13 548.89h0.86v0.86h-0.86zM409.37 548.81h0.86v0.86h-0.86zM409.61 548.74h0.86v0.86h-0.86zM409.85 548.69h0.86v0.86h-0.86zM410.09 548.64h0.86v0.86h-0.86zM410.33 548.59h0.86v0.86h-0.86zM410.57 548.54h0.86v0.86h-0.86zM410.81 548.49h0.86v0.86h-0.86zM411.05 548.45h0.86v0.86h-0.86zM411.29 548.40h0.86v0.86h-0.86zM411.54 548.35h0.86v0.86h-0.86zM411.78 548.30h0.86v0.86h-0.86zM412.02 548.25h0.86v0.86h-0.86zM412.26 548.20h0.86v0.86h-0.86zM412.50 548.16h0.86v0.86h-0.86zM412.74 548.11h0.86v0.86h-0.86zM412.98 548.06h0.86v0.86h-0.86zM413.22 548.01h0.86v0.86h-0.86zM413.46 547.96h0.86v0.86h-0.86zM413.70 547.91h0.86v0.86h-0.86zM413.94 547.87h0.86v0.86h-0.86zM414.18 547.82h0.86v0.86h-0.86zM414.42 547.77h0.86v0.86h-0.86zM414.66 547.72h0.86v0.86h-0.86zM414.90 547.67h0.86v0.86h-0.86zM415.15 547.62h0.86v0.86h-0.86zM415.39 547.58h0.86v0.86h-0.86zM415.63 547.53h0.86v0.86h-0.86zM415.87 547.48h0.86v0.86h-0.86zM416.11 547.43h0.86v0.86h-0.86zM416.35 547.38h0.86v0.86h-0.86zM416.59 547.34h0.86v0.86h-0.86zM416.83 547.29h0.86v0.86h-0.86zM417.07 547.24h0.86v0.86h-0.86zM417.31 547.19h0.86v0.86h-0.86zM417.55 547.14h0.86v0.86h-0.86zM417.79 547.09h0.86v0.86h-0.86zM418.03 547.05h0.86v0.86h-0.86zM418.27 547.00h0.86v0.86h-0.86zM418.51 546.95h0.86v0.86h-0.86zM418.76 546.90h0.86v0.86h-0.86zM419.00 546.85h0.86v0.86h-0.86zM419.24 546.80h0.86v0.86h-0.86zM419.48 546.77h0.86v0.86h-0.86zM419.72 546.74h0.86v0.86h-0.86zM419.96 546.70h0.86v0.86h-0.86zM420.20 546.67h0.86v0.86h-0.86zM420.44 546.63h0.86v0.86h-0.86zM420.68 546.60h0.86v0.86h-0.86zM420.92 546.56h0.86v0.86h-0.86zM421.16 546.53h0.86v0.86h-0.86zM421.40 546.49h0.86v0.86h-0.86zM421.64 546.46h0.86v0.86h-0.86zM421.88 546.42h0.86v0.86h-0.86zM422.12 546.39h0.86v0.86h-0.86zM422.37 546.35h0.86v0.86h-0.86zM422.61 546.32h0.86v0.86h-0.86zM422.85 546.28h0.86v0.86h-0.86zM423.09 546.25h0.86v0.86h-0.86zM423.33 546.22h0.86v0.86h-0.86zM423.57 546.18h0.86v0.86h-0.86zM423.81 546.15h0.86v0.86h-0.86zM424.05 546.11h0.86v0.86h-0.86zM424.29 546.08h0.86v0.86h-0.86zM424.53 546.04h0.86v0.86h-0.86zM424.77 546.01h0.86v0.86h-0.86zM425.01 545.97h0.86v0.86h-0.86zM425.25 545.94h0.86v0.86h-0.86zM425.49 545.90h0.86v0.86h-0.86zM425.73 545.87h0.86v0.86h-0.86zM425.98 545.83h0.86v0.86h-0.86zM426.22 545.80h0.86v0.86h-0.86zM426.46 545.77h0.86v0.86h-0.86zM426.70 545.67h0.86v0.86h-0.86zM426.94 545.57h0.86v0.86h-0.86zM427.18 545.47h0.86v0.86h-0.86zM427.42 545.37h0.86v0.86h-0.86zM427.66 545.27h0.86v0.86h-0.86zM427.90 545.17h0.86v0.86h-0.86zM428.14 545.07h0.86v0.86h-0.86zM428.38 544.97h0.86v0.86h-0.86zM428.62 544.87h0.86v0.86h-0.86zM428.86 544.78h0.86v0.86h-0.86zM429.10 544.68h0.86v0.86h-0.86zM429.34 544.58h0.86v0.86h-0.86zM429.59 544.48h0.86v0.86h-0.86zM429.83 544.38h0.86v0.86h-0.86zM430.07 544.28h0.86v0.86h-0.86zM430.31 544.18h0.86v0.86h-0.86zM430.55 544.08h0.86v0.86h-0.86zM430.79 543.98h0.86v0.86h-0.86zM431.03 543.88h0.86v0.86h-0.86zM431.27 543.79h0.86v0.86h-0.86zM431.51 543.69h0.86v0.86h-0.86zM431.75 543.59h0.86v0.86h-0.86zM431.99 543.49h0.86v0.86h-0.86zM432.23 543.39h0.86v0.86h-0.86zM432.47 543.29h0.86v0.86h-0.86zM432.71 543.19h0.86v0.86h-0.86zM432.95 543.09h0.86v0.86h-0.86zM433.20 542.99h0.86v0.86h-0.86zM433.44 542.89h0.86v0.86h-0.86zM433.68 542.80h0.86v0.86h-0.86zM433.92 542.80h0.86v0.86h-0.86zM434.16 542.80h0.86v0.86h-0.86z" fill="#df5f2a"/>
<path d="M456.30 522.00h0.86v0.86h-0.86zM457.07 519.33h0.86v0.86h-0.86zM457.84 516.66h0.86v0.86h-0.86zM458.61 513.99h0.86v0.86h-0.86zM459.38 511.31h0.86v0.86h-0.86zM460.15 508.64h0.86v0.86h-0.86zM460.92 506.86h0.86v0.86h-0.86zM461.69 505.08h0.86v0.86h-0.86zM462.46 503.29h0.86v0.86h-0.86zM463.23 501.51h0.86v0.86h-0.86zM464.00 499.73h0.86v0.86h-0.86zM464.77 503.29h0.86v0.86h-0.86zM465.54 506.86h0.86v0.86h-0.86zM466.31 510.62h0.86v0.86h-0.86zM467.08 514.58h0.86v0.86h-0.86zM467.85 518.54h0.86v0.86h-0.86zM468.62 522.50h0.86v0.86h-0.86zM469.39 523.49h0.86v0.86h-0.86z" fill="#df5f2a"/>
<path d="M471.22 529.43h0.86v0.86h-0.86zM471.46 530.17h0.86v0.86h-0.86zM471.70 530.91h0.86v0.86h-0.86zM471.94 531.66h0.86v0.86h-0.86zM472.18 532.40h0.86v0.86h-0.86zM472.42 533.14h0.86v0.86h-0.86zM472.66 533.88h0.86v0.86h-0.86zM472.91 534.63h0.86v0.86h-0.86zM473.15 535.37h0.86v0.86h-0.86zM473.39 535.74h0.86v0.86h-0.86zM473.63 536.11h0.86v0.86h-0.86zM473.87 536.48h0.86v0.86h-0.86zM474.11 536.85h0.86v0.86h-0.86zM474.35 537.23h0.86v0.86h-0.86zM474.59 537.60h0.86v0.86h-0.86zM474.83 537.97h0.86v0.86h-0.86zM475.07 538.34h0.86v0.86h-0.86zM475.31 538.71h0.86v0.86h-0.86zM475.55 539.08h0.86v0.86h-0.86zM475.79 539.45h0.86v0.86h-0.86zM476.03 539.82h0.86v0.86h-0.86zM476.27 540.20h0.86v0.86h-0.86zM476.52 540.57h0.86v0.86h-0.86zM476.76 540.94h0.86v0.86h-0.86zM477.00 541.31h0.86v0.86h-0.86zM477.24 541.57h0.86v0.86h-0.86zM477.48 541.83h0.86v0.86h-0.86zM477.72 542.09h0.86v0.86h-0.86zM477.96 542.35h0.86v0.86h-0.86zM478.20 542.61h0.86v0.86h-0.86zM478.44 542.87h0.86v0.86h-0.86zM478.68 543.13h0.86v0.86h-0.86zM478.92 543.39h0.86v0.86h-0.86zM479.16 543.65h0.86v0.86h-0.86zM479.40 543.91h0.86v0.86h-0.86zM479.64 544.17h0.86v0.86h-0.86zM479.88 544.43h0.86v0.86h-0.86zM480.13 544.69h0.86v0.86h-0.86zM480.37 544.95h0.86v0.86h-0.86zM480.61 545.21h0.86v0.86h-0.86zM480.85 545.47h0.86v0.86h-0.86zM481.09 545.73h0.86v0.86h-0.86zM481.33 545.99h0.86v0.86h-0.86zM481.57 546.25h0.86v0.86h-0.86zM481.81 546.51h0.86v0.86h-0.86zM482.05 546.67h0.86v0.86h-0.86zM482.29 546.83h0.86v0.86h-0.86zM482.53 547.00h0.86v0.86h-0.86zM482.77 547.16h0.86v0.86h-0.86zM483.01 547.32h0.86v0.86h-0.86zM483.25 547.49h0.86v0.86h-0.86zM483.49 547.65h0.86v0.86h-0.86zM483.74 547.81h0.86v0.86h-0.86zM483.98 547.98h0.86v0.86h-0.86zM484.22 548.14h0.86v0.86h-0.86zM484.46 548.30h0.86v0.86h-0.86zM484.70 548.47h0.86v0.86h-0.86zM484.94 548.63h0.86v0.86h-0.86zM485.18 548.79h0.86v0.86h-0.86zM485.42 548.96h0.86v0.86h-0.86zM485.66 549.12h0.86v0.86h-0.86zM485.90 549.28h0.86v0.86h-0.86zM486.14 549.45h0.86v0.86h-0.86zM486.38 549.61h0.86v0.86h-0.86zM486.62 549.77h0.86v0.86h-0.86zM486.86 549.87h0.86v0.86h-0.86zM487.10 549.97h0.86v0.86h-0.86zM487.35 550.06h0.86v0.86h-0.86zM487.59 550.16h0.86v0.86h-0.86zM487.83 550.26h0.86v0.86h-0.86zM488.07 550.35h0.86v0.86h-0.86zM488.31 550.45h0.86v0.86h-0.86zM488.55 550.55h0.86v0.86h-0.86zM488.79 550.64h0.86v0.86h-0.86zM489.03 550.74h0.86v0.86h-0.86zM489.27 550.84h0.86v0.86h-0.86zM489.51 550.93h0.86v0.86h-0.86zM489.75 551.03h0.86v0.86h-0.86zM489.99 551.13h0.86v0.86h-0.86zM490.23 551.22h0.86v0.86h-0.86zM490.47 551.32h0.86v0.86h-0.86zM490.71 551.42h0.86v0.86h-0.86zM490.96 551.51h0.86v0.86h-0.86zM491.20 551.61h0.86v0.86h-0.86zM491.44 551.70h0.86v0.86h-0.86zM491.68 551.78h0.86v0.86h-0.86zM491.92 551.85h0.86v0.86h-0.86zM492.16 551.93h0.86v0.86h-0.86zM492.40 552.00h0.86v0.86h-0.86zM492.64 552.08h0.86v0.86h-0.86zM492.88 552.15h0.86v0.86h-0.86zM493.12 552.22h0.86v0.86h-0.86zM493.36 552.30h0.86v0.86h-0.86zM493.60 552.37h0.86v0.86h-0.86zM493.84 552.45h0.86v0.86h-0.86zM494.08 552.52h0.86v0.86h-0.86zM494.32 552.60h0.86v0.86h-0.86zM494.57 552.67h0.86v0.86h-0.86zM494.81 552.74h0.86v0.86h-0.86zM495.05 552.82h0.86v0.86h-0.86zM495.29 552.89h0.86v0.86h-0.86zM495.53 552.97h0.86v0.86h-0.86zM495.77 553.04h0.86v0.86h-0.86zM496.01 553.12h0.86v0.86h-0.86zM496.25 553.19h0.86v0.86h-0.86zM496.49 553.23h0.86v0.86h-0.86zM496.73 553.27h0.86v0.86h-0.86zM496.97 553.31h0.86v0.86h-0.86zM497.21 553.35h0.86v0.86h-0.86zM497.45 553.39h0.86v0.86h-0.86zM497.69 553.43h0.86v0.86h-0.86zM497.93 553.47h0.86v0.86h-0.86zM498.18 553.51h0.86v0.86h-0.86zM498.42 553.55h0.86v0.86h-0.86zM498.66 553.59h0.86v0.86h-0.86zM498.90 553.63h0.86v0.86h-0.86zM499.14 553.67h0.86v0.86h-0.86zM499.38 553.70h0.86v0.86h-0.86zM499.62 553.74h0.86v0.86h-0.86zM499.86 553.78h0.86v0.86h-0.86zM500.10 553.82h0.86v0.86h-0.86zM500.34 553.86h0.86v0.86h-0.86zM500.58 553.90h0.86v0.86h-0.86zM500.82 553.94h0.86v0.86h-0.86zM501.06 553.98h0.86v0.86h-0.86zM501.30 554.02h0.86v0.86h-0.86zM501.54 554.06h0.86v0.86h-0.86zM501.79 554.10h0.86v0.86h-0.86zM502.03 554.14h0.86v0.86h-0.86zM502.27 554.18h0.86v0.86h-0.86zM502.51 554.22h0.86v0.86h-0.86zM502.75 554.26h0.86v0.86h-0.86zM502.99 554.30h0.86v0.86h-0.86zM503.23 554.34h0.86v0.86h-0.86z" fill="#df5f2a"/>
<path d="M504.91 554.68h0.86v0.86h-0.86zM505.15 554.71h0.86v0.86h-0.86zM505.40 554.75h0.86v0.86h-0.86zM505.64 554.79h0.86v0.86h-0.86zM505.88 554.82h0.86v0.86h-0.86zM506.12 554.86h0.86v0.86h-0.86zM506.36 554.90h0.86v0.86h-0.86zM506.60 554.93h0.86v0.86h-0.86zM506.84 554.97h0.86v0.86h-0.86zM507.08 555.01h0.86v0.86h-0.86zM507.32 555.05h0.86v0.86h-0.86zM507.56 555.08h0.86v0.86h-0.86zM507.80 555.12h0.86v0.86h-0.86zM508.04 555.16h0.86v0.86h-0.86zM508.28 555.19h0.86v0.86h-0.86zM508.52 555.23h0.86v0.86h-0.86zM508.76 555.27h0.86v0.86h-0.86z" fill="#df5f2a"/>
<path d="M510.69 555.71h0.86v0.86h-0.86zM510.93 555.73h0.86v0.86h-0.86zM511.17 555.75h0.86v0.86h-0.86zM511.41 555.77h0.86v0.86h-0.86zM511.65 555.79h0.86v0.86h-0.86zM511.89 555.81h0.86v0.86h-0.86zM512.13 555.83h0.86v0.86h-0.86zM512.37 555.84h0.86v0.86h-0.86zM512.62 555.86h0.86v0.86h-0.86zM512.86 555.88h0.86v0.86h-0.86zM513.10 555.90h0.86v0.86h-0.86zM513.34 555.92h0.86v0.86h-0.86zM513.58 555.94h0.86v0.86h-0.86zM513.82 555.96h0.86v0.86h-0.86zM514.06 555.97h0.86v0.86h-0.86zM514.30 555.99h0.86v0.86h-0.86z" fill="#df5f2a"/>
<path d="M516.47 556.16h0.86v0.86h-0.86zM516.71 556.16h0.86v0.86h-0.86zM516.95 556.16h0.86v0.86h-0.86zM517.19 556.16h0.86v0.86h-0.86zM517.43 556.16h0.86v0.86h-0.86zM517.67 556.16h0.86v0.86h-0.86zM517.91 556.16h0.86v0.86h-0.86zM518.15 556.16h0.86v0.86h-0.86zM518.39 556.16h0.86v0.86h-0.86zM518.63 556.16h0.86v0.86h-0.86zM518.87 556.16h0.86v0.86h-0.86zM519.11 556.16h0.86v0.86h-0.86zM519.35 556.16h0.86v0.86h-0.86zM519.59 556.16h0.86v0.86h-0.86zM519.84 556.16h0.86v0.86h-0.86zM520.08 556.16h0.86v0.86h-0.86zM520.32 556.16h0.86v0.86h-0.86zM520.56 556.16h0.86v0.86h-0.86zM520.80 556.16h0.86v0.86h-0.86zM521.04 556.16h0.86v0.86h-0.86zM521.28 556.16h0.86v0.86h-0.86zM521.52 556.16h0.86v0.86h-0.86zM521.76 556.16h0.86v0.86h-0.86zM522.00 556.16h0.86v0.86h-0.86zM522.24 556.16h0.86v0.86h-0.86zM522.48 556.16h0.86v0.86h-0.86z" fill="#df5f2a"/>
<path d="M402.77 547.27h1.06v1.06h-1.06zM403.49 545.96h1.06v1.06h-1.06zM404.22 547.51h1.06v1.06h-1.06zM404.94 547.27h1.06v1.06h-1.06zM405.66 543.74h1.06v1.06h-1.06zM406.38 544.68h1.06v1.06h-1.06zM407.10 545.80h1.06v1.06h-1.06zM407.83 544.46h1.06v1.06h-1.06zM408.55 547.86h1.06v1.06h-1.06zM409.27 547.57h1.06v1.06h-1.06zM409.99 545.59h1.06v1.06h-1.06zM410.71 544.23h1.06v1.06h-1.06zM411.44 546.40h1.06v1.06h-1.06zM412.16 543.88h1.06v1.06h-1.06zM412.88 546.66h1.06v1.06h-1.06zM413.60 545.38h1.06v1.06h-1.06zM414.32 546.53h1.06v1.06h-1.06zM415.05 548.90h1.06v1.06h-1.06zM415.77 546.91h1.06v1.06h-1.06zM416.49 546.49h1.06v1.06h-1.06zM417.21 547.35h1.06v1.06h-1.06zM417.93 546.13h1.06v1.06h-1.06zM418.66 543.06h1.06v1.06h-1.06zM419.38 544.46h1.06v1.06h-1.06zM420.10 540.61h1.06v1.06h-1.06zM420.82 535.31h1.06v1.06h-1.06zM421.54 535.94h1.06v1.06h-1.06zM422.27 534.49h1.06v1.06h-1.06zM422.99 537.83h1.06v1.06h-1.06zM423.71 538.84h1.06v1.06h-1.06zM424.43 537.95h1.06v1.06h-1.06zM425.15 533.18h1.06v1.06h-1.06zM425.88 538.56h1.06v1.06h-1.06zM426.60 539.51h1.06v1.06h-1.06zM427.32 538.82h1.06v1.06h-1.06zM428.04 538.69h1.06v1.06h-1.06zM428.76 538.69h1.06v1.06h-1.06zM429.49 539.64h1.06v1.06h-1.06zM430.21 540.25h1.06v1.06h-1.06zM430.93 538.60h1.06v1.06h-1.06zM431.65 540.17h1.06v1.06h-1.06zM432.37 542.99h1.06v1.06h-1.06zM433.10 539.92h1.06v1.06h-1.06zM433.82 540.92h1.06v1.06h-1.06z" fill="#3590d9"/>
<path d="M456.20 487.75h1.06v1.06h-1.06zM457.64 515.97h1.06v1.06h-1.06zM458.12 526.36h1.06v1.06h-1.06zM459.57 520.42h1.06v1.06h-1.06zM460.53 511.51h1.06v1.06h-1.06zM461.49 514.48h1.06v1.06h-1.06zM462.46 510.03h1.06v1.06h-1.06zM463.42 515.97h1.06v1.06h-1.06zM464.38 511.51h1.06v1.06h-1.06zM465.34 520.42h1.06v1.06h-1.06zM466.31 513.00h1.06v1.06h-1.06zM467.27 521.90h1.06v1.06h-1.06zM468.23 520.42h1.06v1.06h-1.06zM469.20 523.39h1.06v1.06h-1.06z" fill="#3590d9"/>
<path d="M470.64 538.45h1.06v1.06h-1.06zM471.36 534.39h1.06v1.06h-1.06zM472.08 529.87h1.06v1.06h-1.06zM472.81 531.80h1.06v1.06h-1.06zM473.53 533.50h1.06v1.06h-1.06zM474.25 533.13h1.06v1.06h-1.06zM474.97 536.55h1.06v1.06h-1.06zM475.69 537.15h1.06v1.06h-1.06zM476.42 541.01h1.06v1.06h-1.06zM477.14 541.60h1.06v1.06h-1.06zM477.86 542.52h1.06v1.06h-1.06zM478.58 541.70h1.06v1.06h-1.06zM479.30 545.13h1.06v1.06h-1.06zM480.03 546.33h1.06v1.06h-1.06zM480.75 546.54h1.06v1.06h-1.06zM481.47 547.85h1.06v1.06h-1.06zM482.19 547.97h1.06v1.06h-1.06zM482.91 547.52h1.06v1.06h-1.06zM483.64 547.65h1.06v1.06h-1.06zM484.36 547.19h1.06v1.06h-1.06zM485.08 549.44h1.06v1.06h-1.06zM485.80 546.54h1.06v1.06h-1.06zM486.52 547.24h1.06v1.06h-1.06zM487.25 549.30h1.06v1.06h-1.06zM487.97 551.27h1.06v1.06h-1.06zM488.69 549.41h1.06v1.06h-1.06zM489.41 549.31h1.06v1.06h-1.06zM490.13 551.43h1.06v1.06h-1.06zM490.86 549.31h1.06v1.06h-1.06zM491.58 549.52h1.06v1.06h-1.06zM492.30 549.93h1.06v1.06h-1.06zM493.02 548.56h1.06v1.06h-1.06zM493.74 548.11h1.06v1.06h-1.06zM494.47 549.33h1.06v1.06h-1.06zM495.19 548.58h1.06v1.06h-1.06zM495.91 549.26h1.06v1.06h-1.06zM496.63 548.89h1.06v1.06h-1.06zM497.35 547.45h1.06v1.06h-1.06zM498.08 546.39h1.06v1.06h-1.06zM498.80 547.21h1.06v1.06h-1.06zM499.52 549.57h1.06v1.06h-1.06zM500.24 547.96h1.06v1.06h-1.06zM500.96 550.80h1.06v1.06h-1.06zM501.69 548.16h1.06v1.06h-1.06zM502.41 545.56h1.06v1.06h-1.06zM503.13 548.44h1.06v1.06h-1.06zM503.85 550.76h1.06v1.06h-1.06zM504.57 552.27h1.06v1.06h-1.06zM505.30 551.20h1.06v1.06h-1.06zM506.02 553.03h1.06v1.06h-1.06zM506.74 552.31h1.06v1.06h-1.06zM507.46 551.74h1.06v1.06h-1.06zM508.18 552.39h1.06v1.06h-1.06zM508.91 552.40h1.06v1.06h-1.06zM509.63 552.75h1.06v1.06h-1.06zM510.35 554.43h1.06v1.06h-1.06zM511.07 552.64h1.06v1.06h-1.06zM511.79 550.87h1.06v1.06h-1.06zM512.52 550.49h1.06v1.06h-1.06zM513.24 549.50h1.06v1.06h-1.06zM513.96 549.49h1.06v1.06h-1.06zM514.68 549.61h1.06v1.06h-1.06zM515.40 549.42h1.06v1.06h-1.06zM516.13 551.47h1.06v1.06h-1.06zM516.85 551.49h1.06v1.06h-1.06zM517.57 553.22h1.06v1.06h-1.06zM518.29 551.48h1.06v1.06h-1.06zM519.01 552.87h1.06v1.06h-1.06zM519.74 552.44h1.06v1.06h-1.06zM520.46 551.19h1.06v1.06h-1.06zM521.18 551.28h1.06v1.06h-1.06zM521.90 551.98h1.06v1.06h-1.06zM522.62 550.90h1.06v1.06h-1.06zM523.35 552.88h1.06v1.06h-1.06z" fill="#3590d9"/>
<rect x="446.00" y="449.80" width="42.40" height="18.60" fill="#fff" stroke="#c8c8c8" stroke-width="0.6"/>
<circle cx="454.30" cy="454.60" r="0.55" fill="#2a8ad4"/>
<circle cx="454.30" cy="462.90" r="0.55" fill="#e0602a"/>
<text x="461.70" y="457.50" font-size="6.35" text-anchor="start" fill="#1a1a1a" stroke="#1a1a1a" stroke-width="0.08" >GNOS-II</text>
<text x="461.70" y="465.80" font-size="6.35" text-anchor="start" fill="#1a1a1a" stroke="#1a1a1a" stroke-width="0.08" >HWRF</text>
<text x="267.2" y="612.5" font-family="Liberation Serif, Times New Roman, serif" font-weight="bold" font-size="20" text-anchor="middle" fill="#111">(c)</text>
</svg>
</body></html>
